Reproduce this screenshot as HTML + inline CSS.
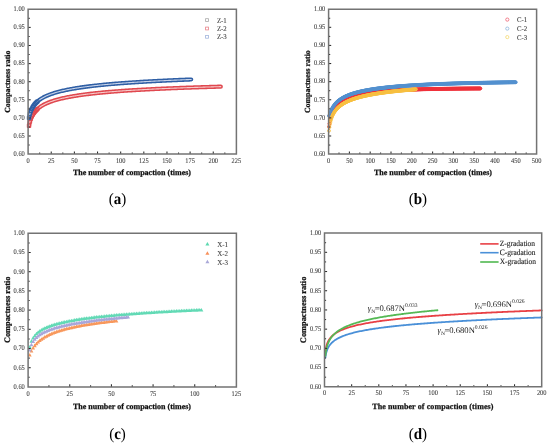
<!DOCTYPE html><html><head><meta charset="utf-8"><style>html,body{margin:0;padding:0;background:#fff;}svg{display:block;}</style></head><body>
<svg width="550" height="446" viewBox="0 0 550 446" font-family="'Liberation Serif', 'Times New Roman', serif" text-rendering="geometricPrecision">
<rect width="550" height="446" fill="#fff"/>
<g>
<path d="M29.03 125.79 L29.26 124.53 L29.49 123.42 L29.72 122.43 L29.95 121.54 L30.18 120.73 L30.41 119.99 L30.65 119.31 L30.88 118.67 L31.11 118.08 L31.34 117.52 L31.57 117.00 L31.80 116.50 L32.03 116.03 L32.27 115.59 L32.50 115.16 L32.73 114.76 L32.96 114.37 L33.19 114.00 L33.42 113.65 L33.65 113.30 L33.89 112.97 L34.12 112.66 L34.35 112.35 L34.58 112.05 L35.51 110.96 L36.43 109.99 L37.36 109.12 L38.28 108.32 L39.21 107.60 L40.14 106.93 L41.06 106.31 L41.99 105.74 L42.91 105.20 L43.84 104.70 L44.76 104.22 L45.69 103.77 L46.62 103.35 L47.54 102.94 L48.47 102.56 L49.39 102.19 L50.32 101.84 L51.24 101.51 L52.17 101.19 L53.10 100.88 L54.02 100.58 L54.95 100.30 L55.87 100.02 L56.80 99.76 L57.72 99.50 L58.65 99.26 L59.58 99.02 L60.50 98.79 L61.43 98.56 L62.35 98.34 L63.28 98.13 L64.21 97.93 L65.13 97.73 L66.06 97.54 L66.98 97.35 L67.91 97.16 L68.83 96.98 L69.76 96.81 L70.69 96.64 L71.61 96.47 L72.54 96.31 L73.46 96.15 L74.39 96.00 L75.31 95.85 L76.24 95.70 L77.17 95.56 L78.09 95.42 L79.02 95.28 L79.94 95.14 L80.87 95.01 L81.80 94.88 L82.72 94.75 L83.65 94.63 L84.57 94.51 L85.50 94.39 L86.42 94.27 L87.35 94.15 L88.28 94.04 L89.20 93.93 L90.13 93.82 L91.05 93.71 L91.98 93.60 L92.90 93.50 L93.83 93.40 L94.76 93.30 L95.68 93.20 L96.61 93.10 L97.53 93.01 L98.46 92.91 L99.38 92.82 L100.31 92.73 L101.24 92.64 L102.16 92.55 L103.09 92.46 L104.01 92.38 L104.94 92.29 L105.87 92.21 L106.79 92.13 L107.72 92.04 L108.64 91.96 L109.57 91.89 L110.49 91.81 L111.42 91.73 L112.35 91.66 L113.27 91.58 L114.20 91.51 L115.12 91.44 L116.05 91.36 L116.97 91.29 L117.90 91.22 L118.83 91.16 L119.75 91.09 L120.68 91.02 L121.60 90.95 L122.53 90.89 L123.46 90.82 L124.38 90.76 L125.31 90.70 L126.23 90.63 L127.16 90.57 L128.08 90.51 L129.01 90.45 L129.94 90.39 L130.86 90.33 L131.79 90.28 L132.71 90.22 L133.64 90.16 L134.56 90.11 L135.49 90.05 L136.42 89.99 L137.34 89.94 L138.27 89.89 L139.19 89.83 L140.12 89.78 L141.04 89.73 L141.97 89.68 L142.90 89.63 L143.82 89.58 L144.75 89.53 L145.67 89.48 L146.60 89.43 L147.53 89.38 L148.45 89.33 L149.38 89.28 L150.30 89.24 L151.23 89.19 L152.15 89.14 L153.08 89.10 L154.01 89.05 L154.93 89.01 L155.86 88.96 L156.78 88.92 L157.71 88.88 L158.63 88.83 L159.56 88.79 L160.49 88.75 L161.41 88.71 L162.34 88.67 L163.26 88.63 L164.19 88.58 L165.12 88.54 L166.04 88.50 L166.97 88.46 L167.89 88.43 L168.82 88.39 L169.74 88.35 L170.67 88.31 L171.60 88.27 L172.52 88.23 L173.45 88.20 L174.37 88.16 L175.30 88.12 L176.22 88.09 L177.15 88.05 L178.08 88.02 L179.00 87.98 L179.93 87.95 L180.85 87.91 L181.78 87.88 L182.70 87.84 L183.63 87.81 L184.56 87.77 L185.48 87.74 L186.41 87.71 L187.33 87.67 L188.26 87.64 L189.19 87.61 L190.11 87.58 L191.04 87.55 L191.96 87.51 L192.89 87.48 L193.81 87.45 L194.74 87.42 L195.67 87.39 L196.59 87.36 L197.52 87.33 L198.44 87.30 L199.37 87.27 L200.29 87.24 L201.22 87.21 L202.15 87.18 L203.07 87.15 L204.00 87.13 L204.92 87.10 L205.85 87.07 L206.78 87.04 L207.70 87.01 L208.63 86.99 L209.55 86.96 L210.48 86.93 L211.40 86.90 L212.33 86.88 L213.26 86.85 L214.18 86.82 L215.11 86.80 L216.03 86.77 L216.96 86.75 L217.88 86.72 L218.81 86.69 L219.74 86.67 L220.66 86.64 L220.80 86.64" fill="none" stroke="#e0484f" stroke-width="4.2" stroke-linejoin="round" stroke-linecap="round" />
<path d="M29.03 125.79 L29.26 124.53 L29.49 123.42 L29.72 122.43 L29.95 121.54 L30.18 120.73 L30.41 119.99 L30.65 119.31 L30.88 118.67 L31.11 118.08 L31.34 117.52 L31.57 117.00 L31.80 116.50 L32.03 116.03 L32.27 115.59 L32.50 115.16 L32.73 114.76 L32.96 114.37 L33.19 114.00 L33.42 113.65 L33.65 113.30 L33.89 112.97 L34.12 112.66 L34.35 112.35 L34.58 112.05 L35.51 110.96 L36.43 109.99 L37.36 109.12 L38.28 108.32 L39.21 107.60 L40.14 106.93 L41.06 106.31 L41.99 105.74 L42.91 105.20 L43.84 104.70 L44.76 104.22 L45.69 103.77 L46.62 103.35 L47.54 102.94 L48.47 102.56 L49.39 102.19 L50.32 101.84 L51.24 101.51 L52.17 101.19 L53.10 100.88 L54.02 100.58 L54.95 100.30 L55.87 100.02 L56.80 99.76 L57.72 99.50 L58.65 99.26 L59.58 99.02 L60.50 98.79 L61.43 98.56 L62.35 98.34 L63.28 98.13 L64.21 97.93 L65.13 97.73 L66.06 97.54 L66.98 97.35 L67.91 97.16 L68.83 96.98 L69.76 96.81 L70.69 96.64 L71.61 96.47 L72.54 96.31 L73.46 96.15 L74.39 96.00 L75.31 95.85 L76.24 95.70 L77.17 95.56 L78.09 95.42 L79.02 95.28 L79.94 95.14 L80.87 95.01 L81.80 94.88 L82.72 94.75 L83.65 94.63 L84.57 94.51 L85.50 94.39 L86.42 94.27 L87.35 94.15 L88.28 94.04 L89.20 93.93 L90.13 93.82 L91.05 93.71 L91.98 93.60 L92.90 93.50 L93.83 93.40 L94.76 93.30 L95.68 93.20 L96.61 93.10 L97.53 93.01 L98.46 92.91 L99.38 92.82 L100.31 92.73 L101.24 92.64 L102.16 92.55 L103.09 92.46 L104.01 92.38 L104.94 92.29 L105.87 92.21 L106.79 92.13 L107.72 92.04 L108.64 91.96 L109.57 91.89 L110.49 91.81 L111.42 91.73 L112.35 91.66 L113.27 91.58 L114.20 91.51 L115.12 91.44 L116.05 91.36 L116.97 91.29 L117.90 91.22 L118.83 91.16 L119.75 91.09 L120.68 91.02 L121.60 90.95 L122.53 90.89 L123.46 90.82 L124.38 90.76 L125.31 90.70 L126.23 90.63 L127.16 90.57 L128.08 90.51 L129.01 90.45 L129.94 90.39 L130.86 90.33 L131.79 90.28 L132.71 90.22 L133.64 90.16 L134.56 90.11 L135.49 90.05 L136.42 89.99 L137.34 89.94 L138.27 89.89 L139.19 89.83 L140.12 89.78 L141.04 89.73 L141.97 89.68 L142.90 89.63 L143.82 89.58 L144.75 89.53 L145.67 89.48 L146.60 89.43 L147.53 89.38 L148.45 89.33 L149.38 89.28 L150.30 89.24 L151.23 89.19 L152.15 89.14 L153.08 89.10 L154.01 89.05 L154.93 89.01 L155.86 88.96 L156.78 88.92 L157.71 88.88 L158.63 88.83 L159.56 88.79 L160.49 88.75 L161.41 88.71 L162.34 88.67 L163.26 88.63 L164.19 88.58 L165.12 88.54 L166.04 88.50 L166.97 88.46 L167.89 88.43 L168.82 88.39 L169.74 88.35 L170.67 88.31 L171.60 88.27 L172.52 88.23 L173.45 88.20 L174.37 88.16 L175.30 88.12 L176.22 88.09 L177.15 88.05 L178.08 88.02 L179.00 87.98 L179.93 87.95 L180.85 87.91 L181.78 87.88 L182.70 87.84 L183.63 87.81 L184.56 87.77 L185.48 87.74 L186.41 87.71 L187.33 87.67 L188.26 87.64 L189.19 87.61 L190.11 87.58 L191.04 87.55 L191.96 87.51 L192.89 87.48 L193.81 87.45 L194.74 87.42 L195.67 87.39 L196.59 87.36 L197.52 87.33 L198.44 87.30 L199.37 87.27 L200.29 87.24 L201.22 87.21 L202.15 87.18 L203.07 87.15 L204.00 87.13 L204.92 87.10 L205.85 87.07 L206.78 87.04 L207.70 87.01 L208.63 86.99 L209.55 86.96 L210.48 86.93 L211.40 86.90 L212.33 86.88 L213.26 86.85 L214.18 86.82 L215.11 86.80 L216.03 86.77 L216.96 86.75 L217.88 86.72 L218.81 86.69 L219.74 86.67 L220.66 86.64 L220.80 86.64" fill="none" stroke="#f7caca" stroke-width="1.1" stroke-linejoin="round" stroke-linecap="round" />
<path d="M27.33 124.09h3.40v3.40h-3.40zM28.25 119.84h3.40v3.40h-3.40zM29.18 116.97h3.40v3.40h-3.40zM30.10 114.80h3.40v3.40h-3.40zM31.03 113.06h3.40v3.40h-3.40zM31.95 111.60h3.40v3.40h-3.40zM32.88 110.35h3.40v3.40h-3.40zM33.81 109.26h3.40v3.40h-3.40zM34.73 108.29h3.40v3.40h-3.40zM35.66 107.42h3.40v3.40h-3.40z" fill="none" stroke="#e0484f" stroke-width="1.0" stroke-opacity="1"/>
<path d="M29.03 117.92 L29.26 116.66 L29.49 115.56 L29.72 114.59 L29.95 113.72 L30.18 112.92 L30.41 112.20 L30.65 111.53 L30.88 110.91 L31.11 110.33 L31.34 109.78 L31.57 109.27 L31.80 108.79 L32.03 108.33 L32.27 107.90 L32.50 107.48 L32.73 107.09 L32.96 106.71 L33.19 106.35 L33.42 106.00 L33.65 105.66 L33.89 105.34 L34.12 105.03 L34.35 104.73 L34.58 104.44 L35.51 103.37 L36.43 102.42 L37.36 101.56 L38.28 100.78 L39.21 100.07 L40.14 99.41 L41.06 98.80 L41.99 98.23 L42.91 97.70 L43.84 97.20 L44.76 96.73 L45.69 96.28 L46.62 95.86 L47.54 95.46 L48.47 95.08 L49.39 94.71 L50.32 94.36 L51.24 94.03 L52.17 93.71 L53.10 93.40 L54.02 93.10 L54.95 92.82 L55.87 92.54 L56.80 92.27 L57.72 92.02 L58.65 91.77 L59.58 91.53 L60.50 91.29 L61.43 91.07 L62.35 90.85 L63.28 90.63 L64.21 90.43 L65.13 90.22 L66.06 90.03 L66.98 89.83 L67.91 89.65 L68.83 89.47 L69.76 89.29 L70.69 89.12 L71.61 88.95 L72.54 88.78 L73.46 88.62 L74.39 88.46 L75.31 88.31 L76.24 88.16 L77.17 88.01 L78.09 87.86 L79.02 87.72 L79.94 87.58 L80.87 87.44 L81.80 87.31 L82.72 87.18 L83.65 87.05 L84.57 86.92 L85.50 86.80 L86.42 86.68 L87.35 86.56 L88.28 86.44 L89.20 86.32 L90.13 86.21 L91.05 86.10 L91.98 85.99 L92.90 85.88 L93.83 85.77 L94.76 85.67 L95.68 85.57 L96.61 85.47 L97.53 85.37 L98.46 85.27 L99.38 85.17 L100.31 85.07 L101.24 84.98 L102.16 84.89 L103.09 84.80 L104.01 84.71 L104.94 84.62 L105.87 84.53 L106.79 84.44 L107.72 84.36 L108.64 84.27 L109.57 84.19 L110.49 84.11 L111.42 84.03 L112.35 83.95 L113.27 83.87 L114.20 83.79 L115.12 83.71 L116.05 83.64 L116.97 83.56 L117.90 83.49 L118.83 83.42 L119.75 83.34 L120.68 83.27 L121.60 83.20 L122.53 83.13 L123.46 83.06 L124.38 83.00 L125.31 82.93 L126.23 82.86 L127.16 82.80 L128.08 82.73 L129.01 82.67 L129.94 82.60 L130.86 82.54 L131.79 82.48 L132.71 82.42 L133.64 82.35 L134.56 82.29 L135.49 82.23 L136.42 82.18 L137.34 82.12 L138.27 82.06 L139.19 82.00 L140.12 81.94 L141.04 81.89 L141.97 81.83 L142.90 81.78 L143.82 81.72 L144.75 81.67 L145.67 81.62 L146.60 81.56 L147.53 81.51 L148.45 81.46 L149.38 81.41 L150.30 81.36 L151.23 81.30 L152.15 81.25 L153.08 81.20 L154.01 81.16 L154.93 81.11 L155.86 81.06 L156.78 81.01 L157.71 80.96 L158.63 80.92 L159.56 80.87 L160.49 80.82 L161.41 80.78 L162.34 80.73 L163.26 80.69 L164.19 80.64 L165.12 80.60 L166.04 80.55 L166.97 80.51 L167.89 80.47 L168.82 80.42 L169.74 80.38 L170.67 80.34 L171.60 80.30 L172.52 80.26 L173.45 80.21 L174.37 80.17 L175.30 80.13 L176.22 80.09 L177.15 80.05 L178.08 80.01 L179.00 79.97 L179.93 79.93 L180.85 79.90 L181.78 79.86 L182.70 79.82 L183.63 79.78 L184.56 79.74 L185.48 79.71 L186.41 79.67 L187.33 79.63 L188.26 79.60 L189.19 79.56 L190.11 79.52 L191.04 79.49 L191.20 79.48" fill="none" stroke="#2f5fa5" stroke-width="4.2" stroke-linejoin="round" stroke-linecap="round" />
<path d="M29.03 117.92 L29.26 116.66 L29.49 115.56 L29.72 114.59 L29.95 113.72 L30.18 112.92 L30.41 112.20 L30.65 111.53 L30.88 110.91 L31.11 110.33 L31.34 109.78 L31.57 109.27 L31.80 108.79 L32.03 108.33 L32.27 107.90 L32.50 107.48 L32.73 107.09 L32.96 106.71 L33.19 106.35 L33.42 106.00 L33.65 105.66 L33.89 105.34 L34.12 105.03 L34.35 104.73 L34.58 104.44 L35.51 103.37 L36.43 102.42 L37.36 101.56 L38.28 100.78 L39.21 100.07 L40.14 99.41 L41.06 98.80 L41.99 98.23 L42.91 97.70 L43.84 97.20 L44.76 96.73 L45.69 96.28 L46.62 95.86 L47.54 95.46 L48.47 95.08 L49.39 94.71 L50.32 94.36 L51.24 94.03 L52.17 93.71 L53.10 93.40 L54.02 93.10 L54.95 92.82 L55.87 92.54 L56.80 92.27 L57.72 92.02 L58.65 91.77 L59.58 91.53 L60.50 91.29 L61.43 91.07 L62.35 90.85 L63.28 90.63 L64.21 90.43 L65.13 90.22 L66.06 90.03 L66.98 89.83 L67.91 89.65 L68.83 89.47 L69.76 89.29 L70.69 89.12 L71.61 88.95 L72.54 88.78 L73.46 88.62 L74.39 88.46 L75.31 88.31 L76.24 88.16 L77.17 88.01 L78.09 87.86 L79.02 87.72 L79.94 87.58 L80.87 87.44 L81.80 87.31 L82.72 87.18 L83.65 87.05 L84.57 86.92 L85.50 86.80 L86.42 86.68 L87.35 86.56 L88.28 86.44 L89.20 86.32 L90.13 86.21 L91.05 86.10 L91.98 85.99 L92.90 85.88 L93.83 85.77 L94.76 85.67 L95.68 85.57 L96.61 85.47 L97.53 85.37 L98.46 85.27 L99.38 85.17 L100.31 85.07 L101.24 84.98 L102.16 84.89 L103.09 84.80 L104.01 84.71 L104.94 84.62 L105.87 84.53 L106.79 84.44 L107.72 84.36 L108.64 84.27 L109.57 84.19 L110.49 84.11 L111.42 84.03 L112.35 83.95 L113.27 83.87 L114.20 83.79 L115.12 83.71 L116.05 83.64 L116.97 83.56 L117.90 83.49 L118.83 83.42 L119.75 83.34 L120.68 83.27 L121.60 83.20 L122.53 83.13 L123.46 83.06 L124.38 83.00 L125.31 82.93 L126.23 82.86 L127.16 82.80 L128.08 82.73 L129.01 82.67 L129.94 82.60 L130.86 82.54 L131.79 82.48 L132.71 82.42 L133.64 82.35 L134.56 82.29 L135.49 82.23 L136.42 82.18 L137.34 82.12 L138.27 82.06 L139.19 82.00 L140.12 81.94 L141.04 81.89 L141.97 81.83 L142.90 81.78 L143.82 81.72 L144.75 81.67 L145.67 81.62 L146.60 81.56 L147.53 81.51 L148.45 81.46 L149.38 81.41 L150.30 81.36 L151.23 81.30 L152.15 81.25 L153.08 81.20 L154.01 81.16 L154.93 81.11 L155.86 81.06 L156.78 81.01 L157.71 80.96 L158.63 80.92 L159.56 80.87 L160.49 80.82 L161.41 80.78 L162.34 80.73 L163.26 80.69 L164.19 80.64 L165.12 80.60 L166.04 80.55 L166.97 80.51 L167.89 80.47 L168.82 80.42 L169.74 80.38 L170.67 80.34 L171.60 80.30 L172.52 80.26 L173.45 80.21 L174.37 80.17 L175.30 80.13 L176.22 80.09 L177.15 80.05 L178.08 80.01 L179.00 79.97 L179.93 79.93 L180.85 79.90 L181.78 79.86 L182.70 79.82 L183.63 79.78 L184.56 79.74 L185.48 79.71 L186.41 79.67 L187.33 79.63 L188.26 79.60 L189.19 79.56 L190.11 79.52 L191.04 79.49 L191.20 79.48" fill="none" stroke="#c8d4ea" stroke-width="1.1" stroke-linejoin="round" stroke-linecap="round" />
<path d="M27.33 116.22h3.40v3.40h-3.40zM28.25 112.02h3.40v3.40h-3.40zM29.18 109.21h3.40v3.40h-3.40zM30.10 107.09h3.40v3.40h-3.40zM31.03 105.39h3.40v3.40h-3.40zM31.95 103.96h3.40v3.40h-3.40zM32.88 102.74h3.40v3.40h-3.40zM33.81 101.67h3.40v3.40h-3.40zM34.73 100.72h3.40v3.40h-3.40zM35.66 99.86h3.40v3.40h-3.40z" fill="none" stroke="#2f5fa5" stroke-width="1.0" stroke-opacity="1"/>
<text transform="translate(24.80 155.90) scale(1 1.12)" text-anchor="end" font-size="6.4" fill="#3c3c3c" stroke="#3c3c3c" stroke-width="0.07">0.60</text>
<line x1="28.10" y1="136.00" x2="30.70" y2="136.00" stroke="#2a2a2a" stroke-width="1.05"/>
<text transform="translate(24.80 137.80) scale(1 1.12)" text-anchor="end" font-size="6.4" fill="#3c3c3c" stroke="#3c3c3c" stroke-width="0.07">0.65</text>
<line x1="28.10" y1="117.90" x2="30.70" y2="117.90" stroke="#2a2a2a" stroke-width="1.05"/>
<text transform="translate(24.80 119.70) scale(1 1.12)" text-anchor="end" font-size="6.4" fill="#3c3c3c" stroke="#3c3c3c" stroke-width="0.07">0.70</text>
<line x1="28.10" y1="99.80" x2="30.70" y2="99.80" stroke="#2a2a2a" stroke-width="1.05"/>
<text transform="translate(24.80 101.60) scale(1 1.12)" text-anchor="end" font-size="6.4" fill="#3c3c3c" stroke="#3c3c3c" stroke-width="0.07">0.75</text>
<line x1="28.10" y1="81.70" x2="30.70" y2="81.70" stroke="#2a2a2a" stroke-width="1.05"/>
<text transform="translate(24.80 83.50) scale(1 1.12)" text-anchor="end" font-size="6.4" fill="#3c3c3c" stroke="#3c3c3c" stroke-width="0.07">0.80</text>
<line x1="28.10" y1="63.60" x2="30.70" y2="63.60" stroke="#2a2a2a" stroke-width="1.05"/>
<text transform="translate(24.80 65.40) scale(1 1.12)" text-anchor="end" font-size="6.4" fill="#3c3c3c" stroke="#3c3c3c" stroke-width="0.07">0.85</text>
<line x1="28.10" y1="45.50" x2="30.70" y2="45.50" stroke="#2a2a2a" stroke-width="1.05"/>
<text transform="translate(24.80 47.30) scale(1 1.12)" text-anchor="end" font-size="6.4" fill="#3c3c3c" stroke="#3c3c3c" stroke-width="0.07">0.90</text>
<line x1="28.10" y1="27.40" x2="30.70" y2="27.40" stroke="#2a2a2a" stroke-width="1.05"/>
<text transform="translate(24.80 29.20) scale(1 1.12)" text-anchor="end" font-size="6.4" fill="#3c3c3c" stroke="#3c3c3c" stroke-width="0.07">0.95</text>
<text transform="translate(24.80 11.10) scale(1 1.12)" text-anchor="end" font-size="6.4" fill="#3c3c3c" stroke="#3c3c3c" stroke-width="0.07">1.00</text>
<line x1="28.10" y1="145.05" x2="29.70" y2="145.05" stroke="#2a2a2a" stroke-width="1.05"/>
<line x1="28.10" y1="126.95" x2="29.70" y2="126.95" stroke="#2a2a2a" stroke-width="1.05"/>
<line x1="28.10" y1="108.85" x2="29.70" y2="108.85" stroke="#2a2a2a" stroke-width="1.05"/>
<line x1="28.10" y1="90.75" x2="29.70" y2="90.75" stroke="#2a2a2a" stroke-width="1.05"/>
<line x1="28.10" y1="72.65" x2="29.70" y2="72.65" stroke="#2a2a2a" stroke-width="1.05"/>
<line x1="28.10" y1="54.55" x2="29.70" y2="54.55" stroke="#2a2a2a" stroke-width="1.05"/>
<line x1="28.10" y1="36.45" x2="29.70" y2="36.45" stroke="#2a2a2a" stroke-width="1.05"/>
<line x1="28.10" y1="18.35" x2="29.70" y2="18.35" stroke="#2a2a2a" stroke-width="1.05"/>
<text transform="translate(28.10 162.70) scale(1 1.12)" text-anchor="middle" font-size="6.4" fill="#3c3c3c" stroke="#3c3c3c" stroke-width="0.07">0</text>
<line x1="39.67" y1="154.10" x2="39.67" y2="152.50" stroke="#2a2a2a" stroke-width="1.05"/>
<line x1="51.24" y1="154.10" x2="51.24" y2="151.50" stroke="#2a2a2a" stroke-width="1.05"/>
<text transform="translate(51.24 162.70) scale(1 1.12)" text-anchor="middle" font-size="6.4" fill="#3c3c3c" stroke="#3c3c3c" stroke-width="0.07">25</text>
<line x1="62.82" y1="154.10" x2="62.82" y2="152.50" stroke="#2a2a2a" stroke-width="1.05"/>
<line x1="74.39" y1="154.10" x2="74.39" y2="151.50" stroke="#2a2a2a" stroke-width="1.05"/>
<text transform="translate(74.39 162.70) scale(1 1.12)" text-anchor="middle" font-size="6.4" fill="#3c3c3c" stroke="#3c3c3c" stroke-width="0.07">50</text>
<line x1="85.96" y1="154.10" x2="85.96" y2="152.50" stroke="#2a2a2a" stroke-width="1.05"/>
<line x1="97.53" y1="154.10" x2="97.53" y2="151.50" stroke="#2a2a2a" stroke-width="1.05"/>
<text transform="translate(97.53 162.70) scale(1 1.12)" text-anchor="middle" font-size="6.4" fill="#3c3c3c" stroke="#3c3c3c" stroke-width="0.07">75</text>
<line x1="109.11" y1="154.10" x2="109.11" y2="152.50" stroke="#2a2a2a" stroke-width="1.05"/>
<line x1="120.68" y1="154.10" x2="120.68" y2="151.50" stroke="#2a2a2a" stroke-width="1.05"/>
<text transform="translate(120.68 162.70) scale(1 1.12)" text-anchor="middle" font-size="6.4" fill="#3c3c3c" stroke="#3c3c3c" stroke-width="0.07">100</text>
<line x1="132.25" y1="154.10" x2="132.25" y2="152.50" stroke="#2a2a2a" stroke-width="1.05"/>
<line x1="143.82" y1="154.10" x2="143.82" y2="151.50" stroke="#2a2a2a" stroke-width="1.05"/>
<text transform="translate(143.82 162.70) scale(1 1.12)" text-anchor="middle" font-size="6.4" fill="#3c3c3c" stroke="#3c3c3c" stroke-width="0.07">125</text>
<line x1="155.39" y1="154.10" x2="155.39" y2="152.50" stroke="#2a2a2a" stroke-width="1.05"/>
<line x1="166.97" y1="154.10" x2="166.97" y2="151.50" stroke="#2a2a2a" stroke-width="1.05"/>
<text transform="translate(166.97 162.70) scale(1 1.12)" text-anchor="middle" font-size="6.4" fill="#3c3c3c" stroke="#3c3c3c" stroke-width="0.07">150</text>
<line x1="178.54" y1="154.10" x2="178.54" y2="152.50" stroke="#2a2a2a" stroke-width="1.05"/>
<line x1="190.11" y1="154.10" x2="190.11" y2="151.50" stroke="#2a2a2a" stroke-width="1.05"/>
<text transform="translate(190.11 162.70) scale(1 1.12)" text-anchor="middle" font-size="6.4" fill="#3c3c3c" stroke="#3c3c3c" stroke-width="0.07">175</text>
<line x1="201.68" y1="154.10" x2="201.68" y2="152.50" stroke="#2a2a2a" stroke-width="1.05"/>
<line x1="213.26" y1="154.10" x2="213.26" y2="151.50" stroke="#2a2a2a" stroke-width="1.05"/>
<text transform="translate(213.26 162.70) scale(1 1.12)" text-anchor="middle" font-size="6.4" fill="#3c3c3c" stroke="#3c3c3c" stroke-width="0.07">200</text>
<line x1="224.83" y1="154.10" x2="224.83" y2="152.50" stroke="#2a2a2a" stroke-width="1.05"/>
<text transform="translate(236.40 162.70) scale(1 1.12)" text-anchor="middle" font-size="6.4" fill="#3c3c3c" stroke="#3c3c3c" stroke-width="0.07">225</text>
<path d="M28.10 9.30 H236.40 V154.10 H28.10 Z" fill="none" stroke="#737373" stroke-width="1.5"/>
<text transform="translate(9.60 81.70) rotate(-90)" text-anchor="middle" font-size="7.8" font-weight="bold" fill="#111" stroke="#111" stroke-width="0.25">Compactness ratio</text>
<text x="132.00" y="175.00" text-anchor="middle" font-size="8" font-weight="bold" fill="#111" stroke="#111" stroke-width="0.25">The number of compaction (times)</text>
<rect x="205.60" y="18.70" width="2.8" height="2.8" fill="none" stroke="#a8a8a8" stroke-width="0.8"/>
<rect x="205.60" y="27.10" width="2.8" height="2.8" fill="none" stroke="#e88088" stroke-width="0.8"/>
<rect x="205.60" y="35.40" width="2.8" height="2.8" fill="none" stroke="#a0b4dc" stroke-width="0.8"/>
<text transform="translate(216.9 22.7) scale(1 1.08)" font-size="6.8" fill="#333" stroke="#333" stroke-width="0.06">Z-1</text>
<text transform="translate(216.9 30.8) scale(1 1.08)" font-size="6.8" fill="#333" stroke="#333" stroke-width="0.06">Z-2</text>
<text transform="translate(216.9 39.2) scale(1 1.08)" font-size="6.8" fill="#333" stroke="#333" stroke-width="0.06">Z-3</text>
</g>
<text transform="translate(117.4 204.0) scale(1 1.06)" text-anchor="middle" font-size="15" fill="#000" style="font-family:'Liberation Serif',serif">(<tspan font-weight="bold">a</tspan>)</text>
<g>
<path d="M327.62 126.65a1.4 1.4 0 1 0 2.80 0a1.4 1.4 0 1 0 -2.80 0zM328.03 123.65a1.4 1.4 0 1 0 2.80 0a1.4 1.4 0 1 0 -2.80 0zM328.45 121.13a1.4 1.4 0 1 0 2.80 0a1.4 1.4 0 1 0 -2.80 0zM328.86 119.06a1.4 1.4 0 1 0 2.80 0a1.4 1.4 0 1 0 -2.80 0zM329.28 117.34a1.4 1.4 0 1 0 2.80 0a1.4 1.4 0 1 0 -2.80 0zM329.70 115.86a1.4 1.4 0 1 0 2.80 0a1.4 1.4 0 1 0 -2.80 0zM330.11 114.57a1.4 1.4 0 1 0 2.80 0a1.4 1.4 0 1 0 -2.80 0zM330.53 113.43a1.4 1.4 0 1 0 2.80 0a1.4 1.4 0 1 0 -2.80 0zM330.94 112.41a1.4 1.4 0 1 0 2.80 0a1.4 1.4 0 1 0 -2.80 0zM331.36 111.49a1.4 1.4 0 1 0 2.80 0a1.4 1.4 0 1 0 -2.80 0zM331.78 110.65a1.4 1.4 0 1 0 2.80 0a1.4 1.4 0 1 0 -2.80 0zM332.19 109.88a1.4 1.4 0 1 0 2.80 0a1.4 1.4 0 1 0 -2.80 0zM332.61 109.16a1.4 1.4 0 1 0 2.80 0a1.4 1.4 0 1 0 -2.80 0zM333.02 108.50a1.4 1.4 0 1 0 2.80 0a1.4 1.4 0 1 0 -2.80 0zM333.44 107.89a1.4 1.4 0 1 0 2.80 0a1.4 1.4 0 1 0 -2.80 0zM333.86 107.31a1.4 1.4 0 1 0 2.80 0a1.4 1.4 0 1 0 -2.80 0zM334.27 106.77a1.4 1.4 0 1 0 2.80 0a1.4 1.4 0 1 0 -2.80 0zM334.69 106.26a1.4 1.4 0 1 0 2.80 0a1.4 1.4 0 1 0 -2.80 0zM335.10 105.78a1.4 1.4 0 1 0 2.80 0a1.4 1.4 0 1 0 -2.80 0zM335.52 105.33a1.4 1.4 0 1 0 2.80 0a1.4 1.4 0 1 0 -2.80 0zM335.94 104.90a1.4 1.4 0 1 0 2.80 0a1.4 1.4 0 1 0 -2.80 0zM336.35 104.49a1.4 1.4 0 1 0 2.80 0a1.4 1.4 0 1 0 -2.80 0zM336.77 104.09a1.4 1.4 0 1 0 2.80 0a1.4 1.4 0 1 0 -2.80 0zM337.18 103.72a1.4 1.4 0 1 0 2.80 0a1.4 1.4 0 1 0 -2.80 0zM337.60 103.37a1.4 1.4 0 1 0 2.80 0a1.4 1.4 0 1 0 -2.80 0zM338.02 103.03a1.4 1.4 0 1 0 2.80 0a1.4 1.4 0 1 0 -2.80 0zM338.43 102.70a1.4 1.4 0 1 0 2.80 0a1.4 1.4 0 1 0 -2.80 0zM338.85 102.39a1.4 1.4 0 1 0 2.80 0a1.4 1.4 0 1 0 -2.80 0zM339.26 102.09a1.4 1.4 0 1 0 2.80 0a1.4 1.4 0 1 0 -2.80 0zM339.68 101.80a1.4 1.4 0 1 0 2.80 0a1.4 1.4 0 1 0 -2.80 0zM340.10 101.52a1.4 1.4 0 1 0 2.80 0a1.4 1.4 0 1 0 -2.80 0zM340.51 101.25a1.4 1.4 0 1 0 2.80 0a1.4 1.4 0 1 0 -2.80 0zM340.93 100.99a1.4 1.4 0 1 0 2.80 0a1.4 1.4 0 1 0 -2.80 0zM341.34 100.74a1.4 1.4 0 1 0 2.80 0a1.4 1.4 0 1 0 -2.80 0zM341.76 100.50a1.4 1.4 0 1 0 2.80 0a1.4 1.4 0 1 0 -2.80 0zM342.18 100.27a1.4 1.4 0 1 0 2.80 0a1.4 1.4 0 1 0 -2.80 0zM342.59 100.04a1.4 1.4 0 1 0 2.80 0a1.4 1.4 0 1 0 -2.80 0zM343.01 99.82a1.4 1.4 0 1 0 2.80 0a1.4 1.4 0 1 0 -2.80 0zM343.42 99.61a1.4 1.4 0 1 0 2.80 0a1.4 1.4 0 1 0 -2.80 0zM343.84 99.40a1.4 1.4 0 1 0 2.80 0a1.4 1.4 0 1 0 -2.80 0zM344.26 99.20a1.4 1.4 0 1 0 2.80 0a1.4 1.4 0 1 0 -2.80 0zM344.67 99.01a1.4 1.4 0 1 0 2.80 0a1.4 1.4 0 1 0 -2.80 0zM345.09 98.82a1.4 1.4 0 1 0 2.80 0a1.4 1.4 0 1 0 -2.80 0zM345.50 98.64a1.4 1.4 0 1 0 2.80 0a1.4 1.4 0 1 0 -2.80 0zM345.92 98.46a1.4 1.4 0 1 0 2.80 0a1.4 1.4 0 1 0 -2.80 0zM346.34 98.29a1.4 1.4 0 1 0 2.80 0a1.4 1.4 0 1 0 -2.80 0zM346.75 98.12a1.4 1.4 0 1 0 2.80 0a1.4 1.4 0 1 0 -2.80 0zM347.17 97.95a1.4 1.4 0 1 0 2.80 0a1.4 1.4 0 1 0 -2.80 0zM347.58 97.79a1.4 1.4 0 1 0 2.80 0a1.4 1.4 0 1 0 -2.80 0zM348.00 97.64a1.4 1.4 0 1 0 2.80 0a1.4 1.4 0 1 0 -2.80 0zM348.42 97.49a1.4 1.4 0 1 0 2.80 0a1.4 1.4 0 1 0 -2.80 0zM348.83 97.34a1.4 1.4 0 1 0 2.80 0a1.4 1.4 0 1 0 -2.80 0zM349.25 97.19a1.4 1.4 0 1 0 2.80 0a1.4 1.4 0 1 0 -2.80 0zM349.66 97.05a1.4 1.4 0 1 0 2.80 0a1.4 1.4 0 1 0 -2.80 0zM350.08 96.91a1.4 1.4 0 1 0 2.80 0a1.4 1.4 0 1 0 -2.80 0zM350.50 96.78a1.4 1.4 0 1 0 2.80 0a1.4 1.4 0 1 0 -2.80 0zM350.91 96.65a1.4 1.4 0 1 0 2.80 0a1.4 1.4 0 1 0 -2.80 0zM351.33 96.52a1.4 1.4 0 1 0 2.80 0a1.4 1.4 0 1 0 -2.80 0zM351.74 96.39a1.4 1.4 0 1 0 2.80 0a1.4 1.4 0 1 0 -2.80 0zM352.16 96.27a1.4 1.4 0 1 0 2.80 0a1.4 1.4 0 1 0 -2.80 0zM352.58 96.15a1.4 1.4 0 1 0 2.80 0a1.4 1.4 0 1 0 -2.80 0zM352.99 96.03a1.4 1.4 0 1 0 2.80 0a1.4 1.4 0 1 0 -2.80 0zM353.41 95.92a1.4 1.4 0 1 0 2.80 0a1.4 1.4 0 1 0 -2.80 0zM353.82 95.80a1.4 1.4 0 1 0 2.80 0a1.4 1.4 0 1 0 -2.80 0zM354.24 95.69a1.4 1.4 0 1 0 2.80 0a1.4 1.4 0 1 0 -2.80 0zM354.66 95.58a1.4 1.4 0 1 0 2.80 0a1.4 1.4 0 1 0 -2.80 0zM355.07 95.48a1.4 1.4 0 1 0 2.80 0a1.4 1.4 0 1 0 -2.80 0zM355.49 95.37a1.4 1.4 0 1 0 2.80 0a1.4 1.4 0 1 0 -2.80 0zM355.90 95.27a1.4 1.4 0 1 0 2.80 0a1.4 1.4 0 1 0 -2.80 0zM356.32 95.17a1.4 1.4 0 1 0 2.80 0a1.4 1.4 0 1 0 -2.80 0zM356.74 95.07a1.4 1.4 0 1 0 2.80 0a1.4 1.4 0 1 0 -2.80 0zM357.15 94.98a1.4 1.4 0 1 0 2.80 0a1.4 1.4 0 1 0 -2.80 0zM357.57 94.88a1.4 1.4 0 1 0 2.80 0a1.4 1.4 0 1 0 -2.80 0zM357.98 94.79a1.4 1.4 0 1 0 2.80 0a1.4 1.4 0 1 0 -2.80 0zM358.40 94.70a1.4 1.4 0 1 0 2.80 0a1.4 1.4 0 1 0 -2.80 0zM358.82 94.61a1.4 1.4 0 1 0 2.80 0a1.4 1.4 0 1 0 -2.80 0zM359.23 94.52a1.4 1.4 0 1 0 2.80 0a1.4 1.4 0 1 0 -2.80 0zM359.65 94.44a1.4 1.4 0 1 0 2.80 0a1.4 1.4 0 1 0 -2.80 0zM360.06 94.35a1.4 1.4 0 1 0 2.80 0a1.4 1.4 0 1 0 -2.80 0zM360.48 94.27a1.4 1.4 0 1 0 2.80 0a1.4 1.4 0 1 0 -2.80 0zM360.90 94.19a1.4 1.4 0 1 0 2.80 0a1.4 1.4 0 1 0 -2.80 0zM361.31 94.11a1.4 1.4 0 1 0 2.80 0a1.4 1.4 0 1 0 -2.80 0zM361.73 94.03a1.4 1.4 0 1 0 2.80 0a1.4 1.4 0 1 0 -2.80 0zM362.14 93.95a1.4 1.4 0 1 0 2.80 0a1.4 1.4 0 1 0 -2.80 0zM362.56 93.88a1.4 1.4 0 1 0 2.80 0a1.4 1.4 0 1 0 -2.80 0zM362.98 93.80a1.4 1.4 0 1 0 2.80 0a1.4 1.4 0 1 0 -2.80 0zM363.39 93.73a1.4 1.4 0 1 0 2.80 0a1.4 1.4 0 1 0 -2.80 0zM363.81 93.66a1.4 1.4 0 1 0 2.80 0a1.4 1.4 0 1 0 -2.80 0zM364.22 93.59a1.4 1.4 0 1 0 2.80 0a1.4 1.4 0 1 0 -2.80 0zM364.64 93.52a1.4 1.4 0 1 0 2.80 0a1.4 1.4 0 1 0 -2.80 0zM365.06 93.45a1.4 1.4 0 1 0 2.80 0a1.4 1.4 0 1 0 -2.80 0zM365.47 93.38a1.4 1.4 0 1 0 2.80 0a1.4 1.4 0 1 0 -2.80 0zM365.89 93.31a1.4 1.4 0 1 0 2.80 0a1.4 1.4 0 1 0 -2.80 0zM366.30 93.25a1.4 1.4 0 1 0 2.80 0a1.4 1.4 0 1 0 -2.80 0zM366.72 93.19a1.4 1.4 0 1 0 2.80 0a1.4 1.4 0 1 0 -2.80 0zM367.14 93.12a1.4 1.4 0 1 0 2.80 0a1.4 1.4 0 1 0 -2.80 0zM367.55 93.06a1.4 1.4 0 1 0 2.80 0a1.4 1.4 0 1 0 -2.80 0zM367.97 93.00a1.4 1.4 0 1 0 2.80 0a1.4 1.4 0 1 0 -2.80 0zM368.38 92.94a1.4 1.4 0 1 0 2.80 0a1.4 1.4 0 1 0 -2.80 0zM368.80 92.88a1.4 1.4 0 1 0 2.80 0a1.4 1.4 0 1 0 -2.80 0zM369.22 92.82a1.4 1.4 0 1 0 2.80 0a1.4 1.4 0 1 0 -2.80 0zM369.63 92.76a1.4 1.4 0 1 0 2.80 0a1.4 1.4 0 1 0 -2.80 0zM370.05 92.70a1.4 1.4 0 1 0 2.80 0a1.4 1.4 0 1 0 -2.80 0zM370.46 92.65a1.4 1.4 0 1 0 2.80 0a1.4 1.4 0 1 0 -2.80 0zM370.88 92.59a1.4 1.4 0 1 0 2.80 0a1.4 1.4 0 1 0 -2.80 0zM371.30 92.54a1.4 1.4 0 1 0 2.80 0a1.4 1.4 0 1 0 -2.80 0zM371.71 92.49a1.4 1.4 0 1 0 2.80 0a1.4 1.4 0 1 0 -2.80 0zM372.13 92.43a1.4 1.4 0 1 0 2.80 0a1.4 1.4 0 1 0 -2.80 0zM372.54 92.38a1.4 1.4 0 1 0 2.80 0a1.4 1.4 0 1 0 -2.80 0zM372.96 92.33a1.4 1.4 0 1 0 2.80 0a1.4 1.4 0 1 0 -2.80 0zM373.38 92.28a1.4 1.4 0 1 0 2.80 0a1.4 1.4 0 1 0 -2.80 0zM373.79 92.23a1.4 1.4 0 1 0 2.80 0a1.4 1.4 0 1 0 -2.80 0zM374.21 92.18a1.4 1.4 0 1 0 2.80 0a1.4 1.4 0 1 0 -2.80 0zM374.62 92.13a1.4 1.4 0 1 0 2.80 0a1.4 1.4 0 1 0 -2.80 0zM375.04 92.08a1.4 1.4 0 1 0 2.80 0a1.4 1.4 0 1 0 -2.80 0zM375.46 92.04a1.4 1.4 0 1 0 2.80 0a1.4 1.4 0 1 0 -2.80 0zM375.87 91.99a1.4 1.4 0 1 0 2.80 0a1.4 1.4 0 1 0 -2.80 0zM376.29 91.95a1.4 1.4 0 1 0 2.80 0a1.4 1.4 0 1 0 -2.80 0zM376.70 91.90a1.4 1.4 0 1 0 2.80 0a1.4 1.4 0 1 0 -2.80 0zM377.12 91.86a1.4 1.4 0 1 0 2.80 0a1.4 1.4 0 1 0 -2.80 0zM377.54 91.81a1.4 1.4 0 1 0 2.80 0a1.4 1.4 0 1 0 -2.80 0zM377.95 91.77a1.4 1.4 0 1 0 2.80 0a1.4 1.4 0 1 0 -2.80 0zM378.37 91.73a1.4 1.4 0 1 0 2.80 0a1.4 1.4 0 1 0 -2.80 0zM378.78 91.68a1.4 1.4 0 1 0 2.80 0a1.4 1.4 0 1 0 -2.80 0zM379.20 91.64a1.4 1.4 0 1 0 2.80 0a1.4 1.4 0 1 0 -2.80 0zM379.62 91.60a1.4 1.4 0 1 0 2.80 0a1.4 1.4 0 1 0 -2.80 0zM380.03 91.56a1.4 1.4 0 1 0 2.80 0a1.4 1.4 0 1 0 -2.80 0zM380.45 91.52a1.4 1.4 0 1 0 2.80 0a1.4 1.4 0 1 0 -2.80 0zM380.86 91.48a1.4 1.4 0 1 0 2.80 0a1.4 1.4 0 1 0 -2.80 0zM381.28 91.44a1.4 1.4 0 1 0 2.80 0a1.4 1.4 0 1 0 -2.80 0zM381.70 91.40a1.4 1.4 0 1 0 2.80 0a1.4 1.4 0 1 0 -2.80 0zM382.11 91.37a1.4 1.4 0 1 0 2.80 0a1.4 1.4 0 1 0 -2.80 0zM382.53 91.33a1.4 1.4 0 1 0 2.80 0a1.4 1.4 0 1 0 -2.80 0zM382.94 91.29a1.4 1.4 0 1 0 2.80 0a1.4 1.4 0 1 0 -2.80 0zM383.36 91.26a1.4 1.4 0 1 0 2.80 0a1.4 1.4 0 1 0 -2.80 0zM383.78 91.22a1.4 1.4 0 1 0 2.80 0a1.4 1.4 0 1 0 -2.80 0zM384.19 91.18a1.4 1.4 0 1 0 2.80 0a1.4 1.4 0 1 0 -2.80 0zM384.61 91.15a1.4 1.4 0 1 0 2.80 0a1.4 1.4 0 1 0 -2.80 0zM385.02 91.12a1.4 1.4 0 1 0 2.80 0a1.4 1.4 0 1 0 -2.80 0zM385.44 91.08a1.4 1.4 0 1 0 2.80 0a1.4 1.4 0 1 0 -2.80 0zM385.86 91.05a1.4 1.4 0 1 0 2.80 0a1.4 1.4 0 1 0 -2.80 0zM386.27 91.01a1.4 1.4 0 1 0 2.80 0a1.4 1.4 0 1 0 -2.80 0zM386.69 90.98a1.4 1.4 0 1 0 2.80 0a1.4 1.4 0 1 0 -2.80 0zM387.10 90.95a1.4 1.4 0 1 0 2.80 0a1.4 1.4 0 1 0 -2.80 0zM387.52 90.92a1.4 1.4 0 1 0 2.80 0a1.4 1.4 0 1 0 -2.80 0zM387.94 90.89a1.4 1.4 0 1 0 2.80 0a1.4 1.4 0 1 0 -2.80 0zM388.35 90.85a1.4 1.4 0 1 0 2.80 0a1.4 1.4 0 1 0 -2.80 0zM388.77 90.82a1.4 1.4 0 1 0 2.80 0a1.4 1.4 0 1 0 -2.80 0zM389.18 90.79a1.4 1.4 0 1 0 2.80 0a1.4 1.4 0 1 0 -2.80 0zM389.60 90.76a1.4 1.4 0 1 0 2.80 0a1.4 1.4 0 1 0 -2.80 0zM390.02 90.73a1.4 1.4 0 1 0 2.80 0a1.4 1.4 0 1 0 -2.80 0zM390.43 90.70a1.4 1.4 0 1 0 2.80 0a1.4 1.4 0 1 0 -2.80 0zM390.85 90.67a1.4 1.4 0 1 0 2.80 0a1.4 1.4 0 1 0 -2.80 0zM391.26 90.65a1.4 1.4 0 1 0 2.80 0a1.4 1.4 0 1 0 -2.80 0zM391.68 90.62a1.4 1.4 0 1 0 2.80 0a1.4 1.4 0 1 0 -2.80 0zM392.10 90.59a1.4 1.4 0 1 0 2.80 0a1.4 1.4 0 1 0 -2.80 0zM392.51 90.56a1.4 1.4 0 1 0 2.80 0a1.4 1.4 0 1 0 -2.80 0zM392.93 90.53a1.4 1.4 0 1 0 2.80 0a1.4 1.4 0 1 0 -2.80 0zM393.34 90.51a1.4 1.4 0 1 0 2.80 0a1.4 1.4 0 1 0 -2.80 0zM393.76 90.48a1.4 1.4 0 1 0 2.80 0a1.4 1.4 0 1 0 -2.80 0zM394.18 90.45a1.4 1.4 0 1 0 2.80 0a1.4 1.4 0 1 0 -2.80 0zM394.59 90.43a1.4 1.4 0 1 0 2.80 0a1.4 1.4 0 1 0 -2.80 0zM395.01 90.40a1.4 1.4 0 1 0 2.80 0a1.4 1.4 0 1 0 -2.80 0zM395.42 90.38a1.4 1.4 0 1 0 2.80 0a1.4 1.4 0 1 0 -2.80 0zM395.84 90.35a1.4 1.4 0 1 0 2.80 0a1.4 1.4 0 1 0 -2.80 0zM396.26 90.33a1.4 1.4 0 1 0 2.80 0a1.4 1.4 0 1 0 -2.80 0zM396.67 90.30a1.4 1.4 0 1 0 2.80 0a1.4 1.4 0 1 0 -2.80 0zM397.09 90.28a1.4 1.4 0 1 0 2.80 0a1.4 1.4 0 1 0 -2.80 0zM397.50 90.26a1.4 1.4 0 1 0 2.80 0a1.4 1.4 0 1 0 -2.80 0zM397.92 90.23a1.4 1.4 0 1 0 2.80 0a1.4 1.4 0 1 0 -2.80 0zM398.34 90.21a1.4 1.4 0 1 0 2.80 0a1.4 1.4 0 1 0 -2.80 0zM398.75 90.19a1.4 1.4 0 1 0 2.80 0a1.4 1.4 0 1 0 -2.80 0zM399.17 90.16a1.4 1.4 0 1 0 2.80 0a1.4 1.4 0 1 0 -2.80 0zM399.58 90.14a1.4 1.4 0 1 0 2.80 0a1.4 1.4 0 1 0 -2.80 0zM400.00 90.12a1.4 1.4 0 1 0 2.80 0a1.4 1.4 0 1 0 -2.80 0zM400.42 90.10a1.4 1.4 0 1 0 2.80 0a1.4 1.4 0 1 0 -2.80 0zM400.83 90.07a1.4 1.4 0 1 0 2.80 0a1.4 1.4 0 1 0 -2.80 0zM401.25 90.05a1.4 1.4 0 1 0 2.80 0a1.4 1.4 0 1 0 -2.80 0zM401.66 90.03a1.4 1.4 0 1 0 2.80 0a1.4 1.4 0 1 0 -2.80 0zM402.08 90.01a1.4 1.4 0 1 0 2.80 0a1.4 1.4 0 1 0 -2.80 0zM402.50 89.99a1.4 1.4 0 1 0 2.80 0a1.4 1.4 0 1 0 -2.80 0zM402.91 89.97a1.4 1.4 0 1 0 2.80 0a1.4 1.4 0 1 0 -2.80 0zM403.33 89.95a1.4 1.4 0 1 0 2.80 0a1.4 1.4 0 1 0 -2.80 0zM403.74 89.93a1.4 1.4 0 1 0 2.80 0a1.4 1.4 0 1 0 -2.80 0zM404.16 89.91a1.4 1.4 0 1 0 2.80 0a1.4 1.4 0 1 0 -2.80 0zM404.58 89.89a1.4 1.4 0 1 0 2.80 0a1.4 1.4 0 1 0 -2.80 0zM404.99 89.87a1.4 1.4 0 1 0 2.80 0a1.4 1.4 0 1 0 -2.80 0zM405.41 89.85a1.4 1.4 0 1 0 2.80 0a1.4 1.4 0 1 0 -2.80 0zM405.82 89.83a1.4 1.4 0 1 0 2.80 0a1.4 1.4 0 1 0 -2.80 0zM406.24 89.81a1.4 1.4 0 1 0 2.80 0a1.4 1.4 0 1 0 -2.80 0zM406.66 89.79a1.4 1.4 0 1 0 2.80 0a1.4 1.4 0 1 0 -2.80 0zM407.07 89.78a1.4 1.4 0 1 0 2.80 0a1.4 1.4 0 1 0 -2.80 0zM407.49 89.76a1.4 1.4 0 1 0 2.80 0a1.4 1.4 0 1 0 -2.80 0zM407.90 89.74a1.4 1.4 0 1 0 2.80 0a1.4 1.4 0 1 0 -2.80 0zM408.32 89.72a1.4 1.4 0 1 0 2.80 0a1.4 1.4 0 1 0 -2.80 0zM408.74 89.70a1.4 1.4 0 1 0 2.80 0a1.4 1.4 0 1 0 -2.80 0zM409.15 89.69a1.4 1.4 0 1 0 2.80 0a1.4 1.4 0 1 0 -2.80 0zM409.57 89.67a1.4 1.4 0 1 0 2.80 0a1.4 1.4 0 1 0 -2.80 0zM409.98 89.65a1.4 1.4 0 1 0 2.80 0a1.4 1.4 0 1 0 -2.80 0zM410.40 89.64a1.4 1.4 0 1 0 2.80 0a1.4 1.4 0 1 0 -2.80 0zM410.82 89.62a1.4 1.4 0 1 0 2.80 0a1.4 1.4 0 1 0 -2.80 0zM411.23 89.60a1.4 1.4 0 1 0 2.80 0a1.4 1.4 0 1 0 -2.80 0zM411.65 89.59a1.4 1.4 0 1 0 2.80 0a1.4 1.4 0 1 0 -2.80 0zM412.06 89.57a1.4 1.4 0 1 0 2.80 0a1.4 1.4 0 1 0 -2.80 0zM412.48 89.56a1.4 1.4 0 1 0 2.80 0a1.4 1.4 0 1 0 -2.80 0zM412.90 89.54a1.4 1.4 0 1 0 2.80 0a1.4 1.4 0 1 0 -2.80 0zM413.31 89.53a1.4 1.4 0 1 0 2.80 0a1.4 1.4 0 1 0 -2.80 0zM413.73 89.51a1.4 1.4 0 1 0 2.80 0a1.4 1.4 0 1 0 -2.80 0zM414.14 89.50a1.4 1.4 0 1 0 2.80 0a1.4 1.4 0 1 0 -2.80 0zM414.56 89.48a1.4 1.4 0 1 0 2.80 0a1.4 1.4 0 1 0 -2.80 0zM414.98 89.47a1.4 1.4 0 1 0 2.80 0a1.4 1.4 0 1 0 -2.80 0zM415.39 89.45a1.4 1.4 0 1 0 2.80 0a1.4 1.4 0 1 0 -2.80 0zM415.81 89.44a1.4 1.4 0 1 0 2.80 0a1.4 1.4 0 1 0 -2.80 0zM416.22 89.42a1.4 1.4 0 1 0 2.80 0a1.4 1.4 0 1 0 -2.80 0zM416.64 89.41a1.4 1.4 0 1 0 2.80 0a1.4 1.4 0 1 0 -2.80 0zM417.06 89.39a1.4 1.4 0 1 0 2.80 0a1.4 1.4 0 1 0 -2.80 0zM417.47 89.38a1.4 1.4 0 1 0 2.80 0a1.4 1.4 0 1 0 -2.80 0zM417.89 89.37a1.4 1.4 0 1 0 2.80 0a1.4 1.4 0 1 0 -2.80 0zM418.30 89.35a1.4 1.4 0 1 0 2.80 0a1.4 1.4 0 1 0 -2.80 0zM418.72 89.34a1.4 1.4 0 1 0 2.80 0a1.4 1.4 0 1 0 -2.80 0zM419.14 89.33a1.4 1.4 0 1 0 2.80 0a1.4 1.4 0 1 0 -2.80 0zM419.55 89.31a1.4 1.4 0 1 0 2.80 0a1.4 1.4 0 1 0 -2.80 0zM419.97 89.30a1.4 1.4 0 1 0 2.80 0a1.4 1.4 0 1 0 -2.80 0zM420.38 89.29a1.4 1.4 0 1 0 2.80 0a1.4 1.4 0 1 0 -2.80 0zM420.80 89.28a1.4 1.4 0 1 0 2.80 0a1.4 1.4 0 1 0 -2.80 0zM421.22 89.26a1.4 1.4 0 1 0 2.80 0a1.4 1.4 0 1 0 -2.80 0zM421.63 89.25a1.4 1.4 0 1 0 2.80 0a1.4 1.4 0 1 0 -2.80 0zM422.05 89.24a1.4 1.4 0 1 0 2.80 0a1.4 1.4 0 1 0 -2.80 0zM422.46 89.23a1.4 1.4 0 1 0 2.80 0a1.4 1.4 0 1 0 -2.80 0zM422.88 89.22a1.4 1.4 0 1 0 2.80 0a1.4 1.4 0 1 0 -2.80 0zM423.30 89.20a1.4 1.4 0 1 0 2.80 0a1.4 1.4 0 1 0 -2.80 0zM423.71 89.19a1.4 1.4 0 1 0 2.80 0a1.4 1.4 0 1 0 -2.80 0zM424.13 89.18a1.4 1.4 0 1 0 2.80 0a1.4 1.4 0 1 0 -2.80 0zM424.54 89.17a1.4 1.4 0 1 0 2.80 0a1.4 1.4 0 1 0 -2.80 0zM424.96 89.16a1.4 1.4 0 1 0 2.80 0a1.4 1.4 0 1 0 -2.80 0zM425.38 89.15a1.4 1.4 0 1 0 2.80 0a1.4 1.4 0 1 0 -2.80 0zM425.79 89.14a1.4 1.4 0 1 0 2.80 0a1.4 1.4 0 1 0 -2.80 0zM426.21 89.13a1.4 1.4 0 1 0 2.80 0a1.4 1.4 0 1 0 -2.80 0zM426.62 89.12a1.4 1.4 0 1 0 2.80 0a1.4 1.4 0 1 0 -2.80 0zM427.04 89.11a1.4 1.4 0 1 0 2.80 0a1.4 1.4 0 1 0 -2.80 0zM427.46 89.10a1.4 1.4 0 1 0 2.80 0a1.4 1.4 0 1 0 -2.80 0zM427.87 89.09a1.4 1.4 0 1 0 2.80 0a1.4 1.4 0 1 0 -2.80 0zM428.29 89.08a1.4 1.4 0 1 0 2.80 0a1.4 1.4 0 1 0 -2.80 0zM428.70 89.07a1.4 1.4 0 1 0 2.80 0a1.4 1.4 0 1 0 -2.80 0zM429.12 89.06a1.4 1.4 0 1 0 2.80 0a1.4 1.4 0 1 0 -2.80 0zM429.54 89.05a1.4 1.4 0 1 0 2.80 0a1.4 1.4 0 1 0 -2.80 0zM429.95 89.04a1.4 1.4 0 1 0 2.80 0a1.4 1.4 0 1 0 -2.80 0zM430.37 89.03a1.4 1.4 0 1 0 2.80 0a1.4 1.4 0 1 0 -2.80 0zM430.78 89.02a1.4 1.4 0 1 0 2.80 0a1.4 1.4 0 1 0 -2.80 0zM431.20 89.01a1.4 1.4 0 1 0 2.80 0a1.4 1.4 0 1 0 -2.80 0zM431.62 89.00a1.4 1.4 0 1 0 2.80 0a1.4 1.4 0 1 0 -2.80 0zM432.03 88.99a1.4 1.4 0 1 0 2.80 0a1.4 1.4 0 1 0 -2.80 0zM432.45 88.98a1.4 1.4 0 1 0 2.80 0a1.4 1.4 0 1 0 -2.80 0zM432.86 88.97a1.4 1.4 0 1 0 2.80 0a1.4 1.4 0 1 0 -2.80 0zM433.28 88.96a1.4 1.4 0 1 0 2.80 0a1.4 1.4 0 1 0 -2.80 0zM433.70 88.95a1.4 1.4 0 1 0 2.80 0a1.4 1.4 0 1 0 -2.80 0zM434.11 88.95a1.4 1.4 0 1 0 2.80 0a1.4 1.4 0 1 0 -2.80 0zM434.53 88.94a1.4 1.4 0 1 0 2.80 0a1.4 1.4 0 1 0 -2.80 0zM434.94 88.93a1.4 1.4 0 1 0 2.80 0a1.4 1.4 0 1 0 -2.80 0zM435.36 88.92a1.4 1.4 0 1 0 2.80 0a1.4 1.4 0 1 0 -2.80 0zM435.78 88.91a1.4 1.4 0 1 0 2.80 0a1.4 1.4 0 1 0 -2.80 0zM436.19 88.90a1.4 1.4 0 1 0 2.80 0a1.4 1.4 0 1 0 -2.80 0zM436.61 88.90a1.4 1.4 0 1 0 2.80 0a1.4 1.4 0 1 0 -2.80 0zM437.02 88.89a1.4 1.4 0 1 0 2.80 0a1.4 1.4 0 1 0 -2.80 0zM437.44 88.88a1.4 1.4 0 1 0 2.80 0a1.4 1.4 0 1 0 -2.80 0zM437.86 88.87a1.4 1.4 0 1 0 2.80 0a1.4 1.4 0 1 0 -2.80 0zM438.27 88.87a1.4 1.4 0 1 0 2.80 0a1.4 1.4 0 1 0 -2.80 0zM438.69 88.86a1.4 1.4 0 1 0 2.80 0a1.4 1.4 0 1 0 -2.80 0zM439.10 88.85a1.4 1.4 0 1 0 2.80 0a1.4 1.4 0 1 0 -2.80 0zM439.52 88.84a1.4 1.4 0 1 0 2.80 0a1.4 1.4 0 1 0 -2.80 0zM439.94 88.84a1.4 1.4 0 1 0 2.80 0a1.4 1.4 0 1 0 -2.80 0zM440.35 88.83a1.4 1.4 0 1 0 2.80 0a1.4 1.4 0 1 0 -2.80 0zM440.77 88.82a1.4 1.4 0 1 0 2.80 0a1.4 1.4 0 1 0 -2.80 0zM441.18 88.82a1.4 1.4 0 1 0 2.80 0a1.4 1.4 0 1 0 -2.80 0zM441.60 88.81a1.4 1.4 0 1 0 2.80 0a1.4 1.4 0 1 0 -2.80 0zM442.02 88.80a1.4 1.4 0 1 0 2.80 0a1.4 1.4 0 1 0 -2.80 0zM442.43 88.80a1.4 1.4 0 1 0 2.80 0a1.4 1.4 0 1 0 -2.80 0zM442.85 88.79a1.4 1.4 0 1 0 2.80 0a1.4 1.4 0 1 0 -2.80 0zM443.26 88.78a1.4 1.4 0 1 0 2.80 0a1.4 1.4 0 1 0 -2.80 0zM443.68 88.78a1.4 1.4 0 1 0 2.80 0a1.4 1.4 0 1 0 -2.80 0zM444.10 88.77a1.4 1.4 0 1 0 2.80 0a1.4 1.4 0 1 0 -2.80 0zM444.51 88.76a1.4 1.4 0 1 0 2.80 0a1.4 1.4 0 1 0 -2.80 0zM444.93 88.76a1.4 1.4 0 1 0 2.80 0a1.4 1.4 0 1 0 -2.80 0zM445.34 88.75a1.4 1.4 0 1 0 2.80 0a1.4 1.4 0 1 0 -2.80 0zM445.76 88.75a1.4 1.4 0 1 0 2.80 0a1.4 1.4 0 1 0 -2.80 0zM446.18 88.74a1.4 1.4 0 1 0 2.80 0a1.4 1.4 0 1 0 -2.80 0zM446.59 88.73a1.4 1.4 0 1 0 2.80 0a1.4 1.4 0 1 0 -2.80 0zM447.01 88.73a1.4 1.4 0 1 0 2.80 0a1.4 1.4 0 1 0 -2.80 0zM447.42 88.72a1.4 1.4 0 1 0 2.80 0a1.4 1.4 0 1 0 -2.80 0zM447.84 88.72a1.4 1.4 0 1 0 2.80 0a1.4 1.4 0 1 0 -2.80 0zM448.26 88.71a1.4 1.4 0 1 0 2.80 0a1.4 1.4 0 1 0 -2.80 0zM448.67 88.71a1.4 1.4 0 1 0 2.80 0a1.4 1.4 0 1 0 -2.80 0zM449.09 88.70a1.4 1.4 0 1 0 2.80 0a1.4 1.4 0 1 0 -2.80 0zM449.50 88.70a1.4 1.4 0 1 0 2.80 0a1.4 1.4 0 1 0 -2.80 0zM449.92 88.69a1.4 1.4 0 1 0 2.80 0a1.4 1.4 0 1 0 -2.80 0zM450.34 88.69a1.4 1.4 0 1 0 2.80 0a1.4 1.4 0 1 0 -2.80 0zM450.75 88.68a1.4 1.4 0 1 0 2.80 0a1.4 1.4 0 1 0 -2.80 0zM451.17 88.68a1.4 1.4 0 1 0 2.80 0a1.4 1.4 0 1 0 -2.80 0zM451.58 88.67a1.4 1.4 0 1 0 2.80 0a1.4 1.4 0 1 0 -2.80 0zM452.00 88.67a1.4 1.4 0 1 0 2.80 0a1.4 1.4 0 1 0 -2.80 0zM452.42 88.66a1.4 1.4 0 1 0 2.80 0a1.4 1.4 0 1 0 -2.80 0zM452.83 88.66a1.4 1.4 0 1 0 2.80 0a1.4 1.4 0 1 0 -2.80 0zM453.25 88.65a1.4 1.4 0 1 0 2.80 0a1.4 1.4 0 1 0 -2.80 0zM453.66 88.65a1.4 1.4 0 1 0 2.80 0a1.4 1.4 0 1 0 -2.80 0zM454.08 88.64a1.4 1.4 0 1 0 2.80 0a1.4 1.4 0 1 0 -2.80 0zM454.50 88.64a1.4 1.4 0 1 0 2.80 0a1.4 1.4 0 1 0 -2.80 0zM454.91 88.63a1.4 1.4 0 1 0 2.80 0a1.4 1.4 0 1 0 -2.80 0zM455.33 88.63a1.4 1.4 0 1 0 2.80 0a1.4 1.4 0 1 0 -2.80 0zM455.74 88.63a1.4 1.4 0 1 0 2.80 0a1.4 1.4 0 1 0 -2.80 0zM456.16 88.62a1.4 1.4 0 1 0 2.80 0a1.4 1.4 0 1 0 -2.80 0zM456.58 88.62a1.4 1.4 0 1 0 2.80 0a1.4 1.4 0 1 0 -2.80 0zM456.99 88.61a1.4 1.4 0 1 0 2.80 0a1.4 1.4 0 1 0 -2.80 0zM457.41 88.61a1.4 1.4 0 1 0 2.80 0a1.4 1.4 0 1 0 -2.80 0zM457.82 88.61a1.4 1.4 0 1 0 2.80 0a1.4 1.4 0 1 0 -2.80 0zM458.24 88.60a1.4 1.4 0 1 0 2.80 0a1.4 1.4 0 1 0 -2.80 0zM458.66 88.60a1.4 1.4 0 1 0 2.80 0a1.4 1.4 0 1 0 -2.80 0zM459.07 88.59a1.4 1.4 0 1 0 2.80 0a1.4 1.4 0 1 0 -2.80 0zM459.49 88.59a1.4 1.4 0 1 0 2.80 0a1.4 1.4 0 1 0 -2.80 0zM459.90 88.59a1.4 1.4 0 1 0 2.80 0a1.4 1.4 0 1 0 -2.80 0zM460.32 88.58a1.4 1.4 0 1 0 2.80 0a1.4 1.4 0 1 0 -2.80 0zM460.74 88.58a1.4 1.4 0 1 0 2.80 0a1.4 1.4 0 1 0 -2.80 0zM461.15 88.58a1.4 1.4 0 1 0 2.80 0a1.4 1.4 0 1 0 -2.80 0zM461.57 88.57a1.4 1.4 0 1 0 2.80 0a1.4 1.4 0 1 0 -2.80 0zM461.98 88.57a1.4 1.4 0 1 0 2.80 0a1.4 1.4 0 1 0 -2.80 0zM462.40 88.57a1.4 1.4 0 1 0 2.80 0a1.4 1.4 0 1 0 -2.80 0zM462.82 88.56a1.4 1.4 0 1 0 2.80 0a1.4 1.4 0 1 0 -2.80 0zM463.23 88.56a1.4 1.4 0 1 0 2.80 0a1.4 1.4 0 1 0 -2.80 0zM463.65 88.56a1.4 1.4 0 1 0 2.80 0a1.4 1.4 0 1 0 -2.80 0zM464.06 88.56a1.4 1.4 0 1 0 2.80 0a1.4 1.4 0 1 0 -2.80 0zM464.48 88.55a1.4 1.4 0 1 0 2.80 0a1.4 1.4 0 1 0 -2.80 0zM464.90 88.55a1.4 1.4 0 1 0 2.80 0a1.4 1.4 0 1 0 -2.80 0zM465.31 88.55a1.4 1.4 0 1 0 2.80 0a1.4 1.4 0 1 0 -2.80 0zM465.73 88.54a1.4 1.4 0 1 0 2.80 0a1.4 1.4 0 1 0 -2.80 0zM466.14 88.54a1.4 1.4 0 1 0 2.80 0a1.4 1.4 0 1 0 -2.80 0zM466.56 88.54a1.4 1.4 0 1 0 2.80 0a1.4 1.4 0 1 0 -2.80 0zM466.98 88.54a1.4 1.4 0 1 0 2.80 0a1.4 1.4 0 1 0 -2.80 0zM467.39 88.53a1.4 1.4 0 1 0 2.80 0a1.4 1.4 0 1 0 -2.80 0zM467.81 88.53a1.4 1.4 0 1 0 2.80 0a1.4 1.4 0 1 0 -2.80 0zM468.22 88.53a1.4 1.4 0 1 0 2.80 0a1.4 1.4 0 1 0 -2.80 0zM468.64 88.53a1.4 1.4 0 1 0 2.80 0a1.4 1.4 0 1 0 -2.80 0zM469.06 88.52a1.4 1.4 0 1 0 2.80 0a1.4 1.4 0 1 0 -2.80 0zM469.47 88.52a1.4 1.4 0 1 0 2.80 0a1.4 1.4 0 1 0 -2.80 0zM469.89 88.52a1.4 1.4 0 1 0 2.80 0a1.4 1.4 0 1 0 -2.80 0zM470.30 88.52a1.4 1.4 0 1 0 2.80 0a1.4 1.4 0 1 0 -2.80 0zM470.72 88.52a1.4 1.4 0 1 0 2.80 0a1.4 1.4 0 1 0 -2.80 0zM471.14 88.51a1.4 1.4 0 1 0 2.80 0a1.4 1.4 0 1 0 -2.80 0zM471.55 88.51a1.4 1.4 0 1 0 2.80 0a1.4 1.4 0 1 0 -2.80 0zM471.97 88.51a1.4 1.4 0 1 0 2.80 0a1.4 1.4 0 1 0 -2.80 0zM472.38 88.51a1.4 1.4 0 1 0 2.80 0a1.4 1.4 0 1 0 -2.80 0zM472.80 88.51a1.4 1.4 0 1 0 2.80 0a1.4 1.4 0 1 0 -2.80 0zM473.22 88.50a1.4 1.4 0 1 0 2.80 0a1.4 1.4 0 1 0 -2.80 0zM473.63 88.50a1.4 1.4 0 1 0 2.80 0a1.4 1.4 0 1 0 -2.80 0zM474.05 88.50a1.4 1.4 0 1 0 2.80 0a1.4 1.4 0 1 0 -2.80 0zM474.46 88.50a1.4 1.4 0 1 0 2.80 0a1.4 1.4 0 1 0 -2.80 0zM474.88 88.50a1.4 1.4 0 1 0 2.80 0a1.4 1.4 0 1 0 -2.80 0zM475.30 88.50a1.4 1.4 0 1 0 2.80 0a1.4 1.4 0 1 0 -2.80 0zM475.71 88.49a1.4 1.4 0 1 0 2.80 0a1.4 1.4 0 1 0 -2.80 0zM476.13 88.49a1.4 1.4 0 1 0 2.80 0a1.4 1.4 0 1 0 -2.80 0zM476.54 88.49a1.4 1.4 0 1 0 2.80 0a1.4 1.4 0 1 0 -2.80 0zM476.96 88.49a1.4 1.4 0 1 0 2.80 0a1.4 1.4 0 1 0 -2.80 0zM477.38 88.49a1.4 1.4 0 1 0 2.80 0a1.4 1.4 0 1 0 -2.80 0zM477.79 88.49a1.4 1.4 0 1 0 2.80 0a1.4 1.4 0 1 0 -2.80 0zM478.21 88.49a1.4 1.4 0 1 0 2.80 0a1.4 1.4 0 1 0 -2.80 0zM478.62 88.48a1.4 1.4 0 1 0 2.80 0a1.4 1.4 0 1 0 -2.80 0zM479.04 88.48a1.4 1.4 0 1 0 2.80 0a1.4 1.4 0 1 0 -2.80 0z" fill="none" stroke="#f0303a" stroke-width="1.0" stroke-opacity="1"/>
<path d="M327.62 115.88a1.4 1.4 0 1 0 2.80 0a1.4 1.4 0 1 0 -2.80 0zM328.03 115.42a1.4 1.4 0 1 0 2.80 0a1.4 1.4 0 1 0 -2.80 0zM328.45 114.16a1.4 1.4 0 1 0 2.80 0a1.4 1.4 0 1 0 -2.80 0zM328.86 112.91a1.4 1.4 0 1 0 2.80 0a1.4 1.4 0 1 0 -2.80 0zM329.28 111.75a1.4 1.4 0 1 0 2.80 0a1.4 1.4 0 1 0 -2.80 0zM329.70 110.70a1.4 1.4 0 1 0 2.80 0a1.4 1.4 0 1 0 -2.80 0zM330.11 109.75a1.4 1.4 0 1 0 2.80 0a1.4 1.4 0 1 0 -2.80 0zM330.53 108.88a1.4 1.4 0 1 0 2.80 0a1.4 1.4 0 1 0 -2.80 0zM330.94 108.08a1.4 1.4 0 1 0 2.80 0a1.4 1.4 0 1 0 -2.80 0zM331.36 107.34a1.4 1.4 0 1 0 2.80 0a1.4 1.4 0 1 0 -2.80 0zM331.78 106.66a1.4 1.4 0 1 0 2.80 0a1.4 1.4 0 1 0 -2.80 0zM332.19 106.02a1.4 1.4 0 1 0 2.80 0a1.4 1.4 0 1 0 -2.80 0zM332.61 105.43a1.4 1.4 0 1 0 2.80 0a1.4 1.4 0 1 0 -2.80 0zM333.02 104.87a1.4 1.4 0 1 0 2.80 0a1.4 1.4 0 1 0 -2.80 0zM333.44 104.34a1.4 1.4 0 1 0 2.80 0a1.4 1.4 0 1 0 -2.80 0zM333.86 103.85a1.4 1.4 0 1 0 2.80 0a1.4 1.4 0 1 0 -2.80 0zM334.27 103.38a1.4 1.4 0 1 0 2.80 0a1.4 1.4 0 1 0 -2.80 0zM334.69 102.93a1.4 1.4 0 1 0 2.80 0a1.4 1.4 0 1 0 -2.80 0zM335.10 102.51a1.4 1.4 0 1 0 2.80 0a1.4 1.4 0 1 0 -2.80 0zM335.52 102.10a1.4 1.4 0 1 0 2.80 0a1.4 1.4 0 1 0 -2.80 0zM335.94 101.71a1.4 1.4 0 1 0 2.80 0a1.4 1.4 0 1 0 -2.80 0zM336.35 101.34a1.4 1.4 0 1 0 2.80 0a1.4 1.4 0 1 0 -2.80 0zM336.77 100.99a1.4 1.4 0 1 0 2.80 0a1.4 1.4 0 1 0 -2.80 0zM337.18 100.65a1.4 1.4 0 1 0 2.80 0a1.4 1.4 0 1 0 -2.80 0zM337.60 100.32a1.4 1.4 0 1 0 2.80 0a1.4 1.4 0 1 0 -2.80 0zM338.02 100.01a1.4 1.4 0 1 0 2.80 0a1.4 1.4 0 1 0 -2.80 0zM338.43 99.70a1.4 1.4 0 1 0 2.80 0a1.4 1.4 0 1 0 -2.80 0zM338.85 99.41a1.4 1.4 0 1 0 2.80 0a1.4 1.4 0 1 0 -2.80 0zM339.26 99.13a1.4 1.4 0 1 0 2.80 0a1.4 1.4 0 1 0 -2.80 0zM339.68 98.86a1.4 1.4 0 1 0 2.80 0a1.4 1.4 0 1 0 -2.80 0zM340.10 98.59a1.4 1.4 0 1 0 2.80 0a1.4 1.4 0 1 0 -2.80 0zM340.51 98.34a1.4 1.4 0 1 0 2.80 0a1.4 1.4 0 1 0 -2.80 0zM340.93 98.09a1.4 1.4 0 1 0 2.80 0a1.4 1.4 0 1 0 -2.80 0zM341.34 97.85a1.4 1.4 0 1 0 2.80 0a1.4 1.4 0 1 0 -2.80 0zM341.76 97.62a1.4 1.4 0 1 0 2.80 0a1.4 1.4 0 1 0 -2.80 0zM342.18 97.39a1.4 1.4 0 1 0 2.80 0a1.4 1.4 0 1 0 -2.80 0zM342.59 97.17a1.4 1.4 0 1 0 2.80 0a1.4 1.4 0 1 0 -2.80 0zM343.01 96.96a1.4 1.4 0 1 0 2.80 0a1.4 1.4 0 1 0 -2.80 0zM343.42 96.75a1.4 1.4 0 1 0 2.80 0a1.4 1.4 0 1 0 -2.80 0zM343.84 96.55a1.4 1.4 0 1 0 2.80 0a1.4 1.4 0 1 0 -2.80 0zM344.26 96.35a1.4 1.4 0 1 0 2.80 0a1.4 1.4 0 1 0 -2.80 0zM344.67 96.16a1.4 1.4 0 1 0 2.80 0a1.4 1.4 0 1 0 -2.80 0zM345.09 95.97a1.4 1.4 0 1 0 2.80 0a1.4 1.4 0 1 0 -2.80 0zM345.50 95.79a1.4 1.4 0 1 0 2.80 0a1.4 1.4 0 1 0 -2.80 0zM345.92 95.61a1.4 1.4 0 1 0 2.80 0a1.4 1.4 0 1 0 -2.80 0zM346.34 95.44a1.4 1.4 0 1 0 2.80 0a1.4 1.4 0 1 0 -2.80 0zM346.75 95.27a1.4 1.4 0 1 0 2.80 0a1.4 1.4 0 1 0 -2.80 0zM347.17 95.10a1.4 1.4 0 1 0 2.80 0a1.4 1.4 0 1 0 -2.80 0zM347.58 94.94a1.4 1.4 0 1 0 2.80 0a1.4 1.4 0 1 0 -2.80 0zM348.00 94.78a1.4 1.4 0 1 0 2.80 0a1.4 1.4 0 1 0 -2.80 0zM348.42 94.63a1.4 1.4 0 1 0 2.80 0a1.4 1.4 0 1 0 -2.80 0zM348.83 94.48a1.4 1.4 0 1 0 2.80 0a1.4 1.4 0 1 0 -2.80 0zM349.25 94.33a1.4 1.4 0 1 0 2.80 0a1.4 1.4 0 1 0 -2.80 0zM349.66 94.18a1.4 1.4 0 1 0 2.80 0a1.4 1.4 0 1 0 -2.80 0zM350.08 94.04a1.4 1.4 0 1 0 2.80 0a1.4 1.4 0 1 0 -2.80 0zM350.50 93.90a1.4 1.4 0 1 0 2.80 0a1.4 1.4 0 1 0 -2.80 0zM350.91 93.76a1.4 1.4 0 1 0 2.80 0a1.4 1.4 0 1 0 -2.80 0zM351.33 93.63a1.4 1.4 0 1 0 2.80 0a1.4 1.4 0 1 0 -2.80 0zM351.74 93.50a1.4 1.4 0 1 0 2.80 0a1.4 1.4 0 1 0 -2.80 0zM352.16 93.37a1.4 1.4 0 1 0 2.80 0a1.4 1.4 0 1 0 -2.80 0zM352.58 93.24a1.4 1.4 0 1 0 2.80 0a1.4 1.4 0 1 0 -2.80 0zM352.99 93.12a1.4 1.4 0 1 0 2.80 0a1.4 1.4 0 1 0 -2.80 0zM353.41 92.99a1.4 1.4 0 1 0 2.80 0a1.4 1.4 0 1 0 -2.80 0zM353.82 92.87a1.4 1.4 0 1 0 2.80 0a1.4 1.4 0 1 0 -2.80 0zM354.24 92.76a1.4 1.4 0 1 0 2.80 0a1.4 1.4 0 1 0 -2.80 0zM354.66 92.64a1.4 1.4 0 1 0 2.80 0a1.4 1.4 0 1 0 -2.80 0zM355.07 92.53a1.4 1.4 0 1 0 2.80 0a1.4 1.4 0 1 0 -2.80 0zM355.49 92.42a1.4 1.4 0 1 0 2.80 0a1.4 1.4 0 1 0 -2.80 0zM355.90 92.31a1.4 1.4 0 1 0 2.80 0a1.4 1.4 0 1 0 -2.80 0zM356.32 92.20a1.4 1.4 0 1 0 2.80 0a1.4 1.4 0 1 0 -2.80 0zM356.74 92.09a1.4 1.4 0 1 0 2.80 0a1.4 1.4 0 1 0 -2.80 0zM357.15 91.99a1.4 1.4 0 1 0 2.80 0a1.4 1.4 0 1 0 -2.80 0zM357.57 91.89a1.4 1.4 0 1 0 2.80 0a1.4 1.4 0 1 0 -2.80 0zM357.98 91.79a1.4 1.4 0 1 0 2.80 0a1.4 1.4 0 1 0 -2.80 0zM358.40 91.69a1.4 1.4 0 1 0 2.80 0a1.4 1.4 0 1 0 -2.80 0zM358.82 91.59a1.4 1.4 0 1 0 2.80 0a1.4 1.4 0 1 0 -2.80 0zM359.23 91.49a1.4 1.4 0 1 0 2.80 0a1.4 1.4 0 1 0 -2.80 0zM359.65 91.40a1.4 1.4 0 1 0 2.80 0a1.4 1.4 0 1 0 -2.80 0zM360.06 91.30a1.4 1.4 0 1 0 2.80 0a1.4 1.4 0 1 0 -2.80 0zM360.48 91.21a1.4 1.4 0 1 0 2.80 0a1.4 1.4 0 1 0 -2.80 0zM360.90 91.12a1.4 1.4 0 1 0 2.80 0a1.4 1.4 0 1 0 -2.80 0zM361.31 91.03a1.4 1.4 0 1 0 2.80 0a1.4 1.4 0 1 0 -2.80 0zM361.73 90.94a1.4 1.4 0 1 0 2.80 0a1.4 1.4 0 1 0 -2.80 0zM362.14 90.86a1.4 1.4 0 1 0 2.80 0a1.4 1.4 0 1 0 -2.80 0zM362.56 90.77a1.4 1.4 0 1 0 2.80 0a1.4 1.4 0 1 0 -2.80 0zM362.98 90.69a1.4 1.4 0 1 0 2.80 0a1.4 1.4 0 1 0 -2.80 0zM363.39 90.61a1.4 1.4 0 1 0 2.80 0a1.4 1.4 0 1 0 -2.80 0zM363.81 90.52a1.4 1.4 0 1 0 2.80 0a1.4 1.4 0 1 0 -2.80 0zM364.22 90.44a1.4 1.4 0 1 0 2.80 0a1.4 1.4 0 1 0 -2.80 0zM364.64 90.36a1.4 1.4 0 1 0 2.80 0a1.4 1.4 0 1 0 -2.80 0zM365.06 90.29a1.4 1.4 0 1 0 2.80 0a1.4 1.4 0 1 0 -2.80 0zM365.47 90.21a1.4 1.4 0 1 0 2.80 0a1.4 1.4 0 1 0 -2.80 0zM365.89 90.13a1.4 1.4 0 1 0 2.80 0a1.4 1.4 0 1 0 -2.80 0zM366.30 90.06a1.4 1.4 0 1 0 2.80 0a1.4 1.4 0 1 0 -2.80 0zM366.72 89.98a1.4 1.4 0 1 0 2.80 0a1.4 1.4 0 1 0 -2.80 0zM367.14 89.91a1.4 1.4 0 1 0 2.80 0a1.4 1.4 0 1 0 -2.80 0zM367.55 89.84a1.4 1.4 0 1 0 2.80 0a1.4 1.4 0 1 0 -2.80 0zM367.97 89.77a1.4 1.4 0 1 0 2.80 0a1.4 1.4 0 1 0 -2.80 0zM368.38 89.70a1.4 1.4 0 1 0 2.80 0a1.4 1.4 0 1 0 -2.80 0zM368.80 89.63a1.4 1.4 0 1 0 2.80 0a1.4 1.4 0 1 0 -2.80 0zM369.22 89.56a1.4 1.4 0 1 0 2.80 0a1.4 1.4 0 1 0 -2.80 0zM369.63 89.49a1.4 1.4 0 1 0 2.80 0a1.4 1.4 0 1 0 -2.80 0zM370.05 89.42a1.4 1.4 0 1 0 2.80 0a1.4 1.4 0 1 0 -2.80 0zM370.46 89.36a1.4 1.4 0 1 0 2.80 0a1.4 1.4 0 1 0 -2.80 0zM370.88 89.29a1.4 1.4 0 1 0 2.80 0a1.4 1.4 0 1 0 -2.80 0zM371.30 89.23a1.4 1.4 0 1 0 2.80 0a1.4 1.4 0 1 0 -2.80 0zM371.71 89.16a1.4 1.4 0 1 0 2.80 0a1.4 1.4 0 1 0 -2.80 0zM372.13 89.10a1.4 1.4 0 1 0 2.80 0a1.4 1.4 0 1 0 -2.80 0zM372.54 89.04a1.4 1.4 0 1 0 2.80 0a1.4 1.4 0 1 0 -2.80 0zM372.96 88.98a1.4 1.4 0 1 0 2.80 0a1.4 1.4 0 1 0 -2.80 0zM373.38 88.91a1.4 1.4 0 1 0 2.80 0a1.4 1.4 0 1 0 -2.80 0zM373.79 88.85a1.4 1.4 0 1 0 2.80 0a1.4 1.4 0 1 0 -2.80 0zM374.21 88.80a1.4 1.4 0 1 0 2.80 0a1.4 1.4 0 1 0 -2.80 0zM374.62 88.74a1.4 1.4 0 1 0 2.80 0a1.4 1.4 0 1 0 -2.80 0zM375.04 88.68a1.4 1.4 0 1 0 2.80 0a1.4 1.4 0 1 0 -2.80 0zM375.46 88.62a1.4 1.4 0 1 0 2.80 0a1.4 1.4 0 1 0 -2.80 0zM375.87 88.56a1.4 1.4 0 1 0 2.80 0a1.4 1.4 0 1 0 -2.80 0zM376.29 88.51a1.4 1.4 0 1 0 2.80 0a1.4 1.4 0 1 0 -2.80 0zM376.70 88.45a1.4 1.4 0 1 0 2.80 0a1.4 1.4 0 1 0 -2.80 0zM377.12 88.40a1.4 1.4 0 1 0 2.80 0a1.4 1.4 0 1 0 -2.80 0zM377.54 88.34a1.4 1.4 0 1 0 2.80 0a1.4 1.4 0 1 0 -2.80 0zM377.95 88.29a1.4 1.4 0 1 0 2.80 0a1.4 1.4 0 1 0 -2.80 0zM378.37 88.24a1.4 1.4 0 1 0 2.80 0a1.4 1.4 0 1 0 -2.80 0zM378.78 88.18a1.4 1.4 0 1 0 2.80 0a1.4 1.4 0 1 0 -2.80 0zM379.20 88.13a1.4 1.4 0 1 0 2.80 0a1.4 1.4 0 1 0 -2.80 0zM379.62 88.08a1.4 1.4 0 1 0 2.80 0a1.4 1.4 0 1 0 -2.80 0zM380.03 88.03a1.4 1.4 0 1 0 2.80 0a1.4 1.4 0 1 0 -2.80 0zM380.45 87.98a1.4 1.4 0 1 0 2.80 0a1.4 1.4 0 1 0 -2.80 0zM380.86 87.93a1.4 1.4 0 1 0 2.80 0a1.4 1.4 0 1 0 -2.80 0zM381.28 87.88a1.4 1.4 0 1 0 2.80 0a1.4 1.4 0 1 0 -2.80 0zM381.70 87.83a1.4 1.4 0 1 0 2.80 0a1.4 1.4 0 1 0 -2.80 0zM382.11 87.78a1.4 1.4 0 1 0 2.80 0a1.4 1.4 0 1 0 -2.80 0zM382.53 87.74a1.4 1.4 0 1 0 2.80 0a1.4 1.4 0 1 0 -2.80 0zM382.94 87.69a1.4 1.4 0 1 0 2.80 0a1.4 1.4 0 1 0 -2.80 0zM383.36 87.64a1.4 1.4 0 1 0 2.80 0a1.4 1.4 0 1 0 -2.80 0zM383.78 87.60a1.4 1.4 0 1 0 2.80 0a1.4 1.4 0 1 0 -2.80 0zM384.19 87.55a1.4 1.4 0 1 0 2.80 0a1.4 1.4 0 1 0 -2.80 0zM384.61 87.51a1.4 1.4 0 1 0 2.80 0a1.4 1.4 0 1 0 -2.80 0zM385.02 87.46a1.4 1.4 0 1 0 2.80 0a1.4 1.4 0 1 0 -2.80 0zM385.44 87.42a1.4 1.4 0 1 0 2.80 0a1.4 1.4 0 1 0 -2.80 0zM385.86 87.37a1.4 1.4 0 1 0 2.80 0a1.4 1.4 0 1 0 -2.80 0zM386.27 87.33a1.4 1.4 0 1 0 2.80 0a1.4 1.4 0 1 0 -2.80 0zM386.69 87.29a1.4 1.4 0 1 0 2.80 0a1.4 1.4 0 1 0 -2.80 0zM387.10 87.24a1.4 1.4 0 1 0 2.80 0a1.4 1.4 0 1 0 -2.80 0zM387.52 87.20a1.4 1.4 0 1 0 2.80 0a1.4 1.4 0 1 0 -2.80 0zM387.94 87.16a1.4 1.4 0 1 0 2.80 0a1.4 1.4 0 1 0 -2.80 0zM388.35 87.12a1.4 1.4 0 1 0 2.80 0a1.4 1.4 0 1 0 -2.80 0zM388.77 87.08a1.4 1.4 0 1 0 2.80 0a1.4 1.4 0 1 0 -2.80 0zM389.18 87.04a1.4 1.4 0 1 0 2.80 0a1.4 1.4 0 1 0 -2.80 0zM389.60 86.99a1.4 1.4 0 1 0 2.80 0a1.4 1.4 0 1 0 -2.80 0zM390.02 86.95a1.4 1.4 0 1 0 2.80 0a1.4 1.4 0 1 0 -2.80 0zM390.43 86.92a1.4 1.4 0 1 0 2.80 0a1.4 1.4 0 1 0 -2.80 0zM390.85 86.88a1.4 1.4 0 1 0 2.80 0a1.4 1.4 0 1 0 -2.80 0zM391.26 86.84a1.4 1.4 0 1 0 2.80 0a1.4 1.4 0 1 0 -2.80 0zM391.68 86.80a1.4 1.4 0 1 0 2.80 0a1.4 1.4 0 1 0 -2.80 0zM392.10 86.76a1.4 1.4 0 1 0 2.80 0a1.4 1.4 0 1 0 -2.80 0zM392.51 86.72a1.4 1.4 0 1 0 2.80 0a1.4 1.4 0 1 0 -2.80 0zM392.93 86.69a1.4 1.4 0 1 0 2.80 0a1.4 1.4 0 1 0 -2.80 0zM393.34 86.65a1.4 1.4 0 1 0 2.80 0a1.4 1.4 0 1 0 -2.80 0zM393.76 86.61a1.4 1.4 0 1 0 2.80 0a1.4 1.4 0 1 0 -2.80 0zM394.18 86.58a1.4 1.4 0 1 0 2.80 0a1.4 1.4 0 1 0 -2.80 0zM394.59 86.54a1.4 1.4 0 1 0 2.80 0a1.4 1.4 0 1 0 -2.80 0zM395.01 86.50a1.4 1.4 0 1 0 2.80 0a1.4 1.4 0 1 0 -2.80 0zM395.42 86.47a1.4 1.4 0 1 0 2.80 0a1.4 1.4 0 1 0 -2.80 0zM395.84 86.43a1.4 1.4 0 1 0 2.80 0a1.4 1.4 0 1 0 -2.80 0zM396.26 86.40a1.4 1.4 0 1 0 2.80 0a1.4 1.4 0 1 0 -2.80 0zM396.67 86.36a1.4 1.4 0 1 0 2.80 0a1.4 1.4 0 1 0 -2.80 0zM397.09 86.33a1.4 1.4 0 1 0 2.80 0a1.4 1.4 0 1 0 -2.80 0zM397.50 86.30a1.4 1.4 0 1 0 2.80 0a1.4 1.4 0 1 0 -2.80 0zM397.92 86.26a1.4 1.4 0 1 0 2.80 0a1.4 1.4 0 1 0 -2.80 0zM398.34 86.23a1.4 1.4 0 1 0 2.80 0a1.4 1.4 0 1 0 -2.80 0zM398.75 86.20a1.4 1.4 0 1 0 2.80 0a1.4 1.4 0 1 0 -2.80 0zM399.17 86.16a1.4 1.4 0 1 0 2.80 0a1.4 1.4 0 1 0 -2.80 0zM399.58 86.13a1.4 1.4 0 1 0 2.80 0a1.4 1.4 0 1 0 -2.80 0zM400.00 86.10a1.4 1.4 0 1 0 2.80 0a1.4 1.4 0 1 0 -2.80 0zM400.42 86.07a1.4 1.4 0 1 0 2.80 0a1.4 1.4 0 1 0 -2.80 0zM400.83 86.03a1.4 1.4 0 1 0 2.80 0a1.4 1.4 0 1 0 -2.80 0zM401.25 86.00a1.4 1.4 0 1 0 2.80 0a1.4 1.4 0 1 0 -2.80 0zM401.66 85.97a1.4 1.4 0 1 0 2.80 0a1.4 1.4 0 1 0 -2.80 0zM402.08 85.94a1.4 1.4 0 1 0 2.80 0a1.4 1.4 0 1 0 -2.80 0zM402.50 85.91a1.4 1.4 0 1 0 2.80 0a1.4 1.4 0 1 0 -2.80 0zM402.91 85.88a1.4 1.4 0 1 0 2.80 0a1.4 1.4 0 1 0 -2.80 0zM403.33 85.85a1.4 1.4 0 1 0 2.80 0a1.4 1.4 0 1 0 -2.80 0zM403.74 85.82a1.4 1.4 0 1 0 2.80 0a1.4 1.4 0 1 0 -2.80 0zM404.16 85.79a1.4 1.4 0 1 0 2.80 0a1.4 1.4 0 1 0 -2.80 0zM404.58 85.76a1.4 1.4 0 1 0 2.80 0a1.4 1.4 0 1 0 -2.80 0zM404.99 85.73a1.4 1.4 0 1 0 2.80 0a1.4 1.4 0 1 0 -2.80 0zM405.41 85.70a1.4 1.4 0 1 0 2.80 0a1.4 1.4 0 1 0 -2.80 0zM405.82 85.67a1.4 1.4 0 1 0 2.80 0a1.4 1.4 0 1 0 -2.80 0zM406.24 85.65a1.4 1.4 0 1 0 2.80 0a1.4 1.4 0 1 0 -2.80 0zM406.66 85.62a1.4 1.4 0 1 0 2.80 0a1.4 1.4 0 1 0 -2.80 0zM407.07 85.59a1.4 1.4 0 1 0 2.80 0a1.4 1.4 0 1 0 -2.80 0zM407.49 85.56a1.4 1.4 0 1 0 2.80 0a1.4 1.4 0 1 0 -2.80 0zM407.90 85.53a1.4 1.4 0 1 0 2.80 0a1.4 1.4 0 1 0 -2.80 0zM408.32 85.51a1.4 1.4 0 1 0 2.80 0a1.4 1.4 0 1 0 -2.80 0zM408.74 85.48a1.4 1.4 0 1 0 2.80 0a1.4 1.4 0 1 0 -2.80 0zM409.15 85.45a1.4 1.4 0 1 0 2.80 0a1.4 1.4 0 1 0 -2.80 0zM409.57 85.43a1.4 1.4 0 1 0 2.80 0a1.4 1.4 0 1 0 -2.80 0zM409.98 85.40a1.4 1.4 0 1 0 2.80 0a1.4 1.4 0 1 0 -2.80 0zM410.40 85.37a1.4 1.4 0 1 0 2.80 0a1.4 1.4 0 1 0 -2.80 0zM410.82 85.35a1.4 1.4 0 1 0 2.80 0a1.4 1.4 0 1 0 -2.80 0zM411.23 85.32a1.4 1.4 0 1 0 2.80 0a1.4 1.4 0 1 0 -2.80 0zM411.65 85.30a1.4 1.4 0 1 0 2.80 0a1.4 1.4 0 1 0 -2.80 0zM412.06 85.27a1.4 1.4 0 1 0 2.80 0a1.4 1.4 0 1 0 -2.80 0zM412.48 85.25a1.4 1.4 0 1 0 2.80 0a1.4 1.4 0 1 0 -2.80 0zM412.90 85.22a1.4 1.4 0 1 0 2.80 0a1.4 1.4 0 1 0 -2.80 0zM413.31 85.20a1.4 1.4 0 1 0 2.80 0a1.4 1.4 0 1 0 -2.80 0zM413.73 85.17a1.4 1.4 0 1 0 2.80 0a1.4 1.4 0 1 0 -2.80 0zM414.14 85.15a1.4 1.4 0 1 0 2.80 0a1.4 1.4 0 1 0 -2.80 0zM414.56 85.12a1.4 1.4 0 1 0 2.80 0a1.4 1.4 0 1 0 -2.80 0zM414.98 85.10a1.4 1.4 0 1 0 2.80 0a1.4 1.4 0 1 0 -2.80 0zM415.39 85.07a1.4 1.4 0 1 0 2.80 0a1.4 1.4 0 1 0 -2.80 0zM415.81 85.05a1.4 1.4 0 1 0 2.80 0a1.4 1.4 0 1 0 -2.80 0zM416.22 85.03a1.4 1.4 0 1 0 2.80 0a1.4 1.4 0 1 0 -2.80 0zM416.64 85.00a1.4 1.4 0 1 0 2.80 0a1.4 1.4 0 1 0 -2.80 0zM417.06 84.98a1.4 1.4 0 1 0 2.80 0a1.4 1.4 0 1 0 -2.80 0zM417.47 84.96a1.4 1.4 0 1 0 2.80 0a1.4 1.4 0 1 0 -2.80 0zM417.89 84.93a1.4 1.4 0 1 0 2.80 0a1.4 1.4 0 1 0 -2.80 0zM418.30 84.91a1.4 1.4 0 1 0 2.80 0a1.4 1.4 0 1 0 -2.80 0zM418.72 84.89a1.4 1.4 0 1 0 2.80 0a1.4 1.4 0 1 0 -2.80 0zM419.14 84.87a1.4 1.4 0 1 0 2.80 0a1.4 1.4 0 1 0 -2.80 0zM419.55 84.84a1.4 1.4 0 1 0 2.80 0a1.4 1.4 0 1 0 -2.80 0zM419.97 84.82a1.4 1.4 0 1 0 2.80 0a1.4 1.4 0 1 0 -2.80 0zM420.38 84.80a1.4 1.4 0 1 0 2.80 0a1.4 1.4 0 1 0 -2.80 0zM420.80 84.78a1.4 1.4 0 1 0 2.80 0a1.4 1.4 0 1 0 -2.80 0zM421.22 84.76a1.4 1.4 0 1 0 2.80 0a1.4 1.4 0 1 0 -2.80 0zM421.63 84.74a1.4 1.4 0 1 0 2.80 0a1.4 1.4 0 1 0 -2.80 0zM422.05 84.71a1.4 1.4 0 1 0 2.80 0a1.4 1.4 0 1 0 -2.80 0zM422.46 84.69a1.4 1.4 0 1 0 2.80 0a1.4 1.4 0 1 0 -2.80 0zM422.88 84.67a1.4 1.4 0 1 0 2.80 0a1.4 1.4 0 1 0 -2.80 0zM423.30 84.65a1.4 1.4 0 1 0 2.80 0a1.4 1.4 0 1 0 -2.80 0zM423.71 84.63a1.4 1.4 0 1 0 2.80 0a1.4 1.4 0 1 0 -2.80 0zM424.13 84.61a1.4 1.4 0 1 0 2.80 0a1.4 1.4 0 1 0 -2.80 0zM424.54 84.59a1.4 1.4 0 1 0 2.80 0a1.4 1.4 0 1 0 -2.80 0zM424.96 84.57a1.4 1.4 0 1 0 2.80 0a1.4 1.4 0 1 0 -2.80 0zM425.38 84.55a1.4 1.4 0 1 0 2.80 0a1.4 1.4 0 1 0 -2.80 0zM425.79 84.53a1.4 1.4 0 1 0 2.80 0a1.4 1.4 0 1 0 -2.80 0zM426.21 84.51a1.4 1.4 0 1 0 2.80 0a1.4 1.4 0 1 0 -2.80 0zM426.62 84.49a1.4 1.4 0 1 0 2.80 0a1.4 1.4 0 1 0 -2.80 0zM427.04 84.47a1.4 1.4 0 1 0 2.80 0a1.4 1.4 0 1 0 -2.80 0zM427.46 84.45a1.4 1.4 0 1 0 2.80 0a1.4 1.4 0 1 0 -2.80 0zM427.87 84.43a1.4 1.4 0 1 0 2.80 0a1.4 1.4 0 1 0 -2.80 0zM428.29 84.41a1.4 1.4 0 1 0 2.80 0a1.4 1.4 0 1 0 -2.80 0zM428.70 84.39a1.4 1.4 0 1 0 2.80 0a1.4 1.4 0 1 0 -2.80 0zM429.12 84.38a1.4 1.4 0 1 0 2.80 0a1.4 1.4 0 1 0 -2.80 0zM429.54 84.36a1.4 1.4 0 1 0 2.80 0a1.4 1.4 0 1 0 -2.80 0zM429.95 84.34a1.4 1.4 0 1 0 2.80 0a1.4 1.4 0 1 0 -2.80 0zM430.37 84.32a1.4 1.4 0 1 0 2.80 0a1.4 1.4 0 1 0 -2.80 0zM430.78 84.30a1.4 1.4 0 1 0 2.80 0a1.4 1.4 0 1 0 -2.80 0zM431.20 84.28a1.4 1.4 0 1 0 2.80 0a1.4 1.4 0 1 0 -2.80 0zM431.62 84.27a1.4 1.4 0 1 0 2.80 0a1.4 1.4 0 1 0 -2.80 0zM432.03 84.25a1.4 1.4 0 1 0 2.80 0a1.4 1.4 0 1 0 -2.80 0zM432.45 84.23a1.4 1.4 0 1 0 2.80 0a1.4 1.4 0 1 0 -2.80 0zM432.86 84.21a1.4 1.4 0 1 0 2.80 0a1.4 1.4 0 1 0 -2.80 0zM433.28 84.19a1.4 1.4 0 1 0 2.80 0a1.4 1.4 0 1 0 -2.80 0zM433.70 84.18a1.4 1.4 0 1 0 2.80 0a1.4 1.4 0 1 0 -2.80 0zM434.11 84.16a1.4 1.4 0 1 0 2.80 0a1.4 1.4 0 1 0 -2.80 0zM434.53 84.14a1.4 1.4 0 1 0 2.80 0a1.4 1.4 0 1 0 -2.80 0zM434.94 84.13a1.4 1.4 0 1 0 2.80 0a1.4 1.4 0 1 0 -2.80 0zM435.36 84.11a1.4 1.4 0 1 0 2.80 0a1.4 1.4 0 1 0 -2.80 0zM435.78 84.09a1.4 1.4 0 1 0 2.80 0a1.4 1.4 0 1 0 -2.80 0zM436.19 84.07a1.4 1.4 0 1 0 2.80 0a1.4 1.4 0 1 0 -2.80 0zM436.61 84.06a1.4 1.4 0 1 0 2.80 0a1.4 1.4 0 1 0 -2.80 0zM437.02 84.04a1.4 1.4 0 1 0 2.80 0a1.4 1.4 0 1 0 -2.80 0zM437.44 84.03a1.4 1.4 0 1 0 2.80 0a1.4 1.4 0 1 0 -2.80 0zM437.86 84.01a1.4 1.4 0 1 0 2.80 0a1.4 1.4 0 1 0 -2.80 0zM438.27 83.99a1.4 1.4 0 1 0 2.80 0a1.4 1.4 0 1 0 -2.80 0zM438.69 83.98a1.4 1.4 0 1 0 2.80 0a1.4 1.4 0 1 0 -2.80 0zM439.10 83.96a1.4 1.4 0 1 0 2.80 0a1.4 1.4 0 1 0 -2.80 0zM439.52 83.95a1.4 1.4 0 1 0 2.80 0a1.4 1.4 0 1 0 -2.80 0zM439.94 83.93a1.4 1.4 0 1 0 2.80 0a1.4 1.4 0 1 0 -2.80 0zM440.35 83.91a1.4 1.4 0 1 0 2.80 0a1.4 1.4 0 1 0 -2.80 0zM440.77 83.90a1.4 1.4 0 1 0 2.80 0a1.4 1.4 0 1 0 -2.80 0zM441.18 83.88a1.4 1.4 0 1 0 2.80 0a1.4 1.4 0 1 0 -2.80 0zM441.60 83.87a1.4 1.4 0 1 0 2.80 0a1.4 1.4 0 1 0 -2.80 0zM442.02 83.85a1.4 1.4 0 1 0 2.80 0a1.4 1.4 0 1 0 -2.80 0zM442.43 83.84a1.4 1.4 0 1 0 2.80 0a1.4 1.4 0 1 0 -2.80 0zM442.85 83.82a1.4 1.4 0 1 0 2.80 0a1.4 1.4 0 1 0 -2.80 0zM443.26 83.81a1.4 1.4 0 1 0 2.80 0a1.4 1.4 0 1 0 -2.80 0zM443.68 83.79a1.4 1.4 0 1 0 2.80 0a1.4 1.4 0 1 0 -2.80 0zM444.10 83.78a1.4 1.4 0 1 0 2.80 0a1.4 1.4 0 1 0 -2.80 0zM444.51 83.76a1.4 1.4 0 1 0 2.80 0a1.4 1.4 0 1 0 -2.80 0zM444.93 83.75a1.4 1.4 0 1 0 2.80 0a1.4 1.4 0 1 0 -2.80 0zM445.34 83.73a1.4 1.4 0 1 0 2.80 0a1.4 1.4 0 1 0 -2.80 0zM445.76 83.72a1.4 1.4 0 1 0 2.80 0a1.4 1.4 0 1 0 -2.80 0zM446.18 83.71a1.4 1.4 0 1 0 2.80 0a1.4 1.4 0 1 0 -2.80 0zM446.59 83.69a1.4 1.4 0 1 0 2.80 0a1.4 1.4 0 1 0 -2.80 0zM447.01 83.68a1.4 1.4 0 1 0 2.80 0a1.4 1.4 0 1 0 -2.80 0zM447.42 83.66a1.4 1.4 0 1 0 2.80 0a1.4 1.4 0 1 0 -2.80 0zM447.84 83.65a1.4 1.4 0 1 0 2.80 0a1.4 1.4 0 1 0 -2.80 0zM448.26 83.64a1.4 1.4 0 1 0 2.80 0a1.4 1.4 0 1 0 -2.80 0zM448.67 83.62a1.4 1.4 0 1 0 2.80 0a1.4 1.4 0 1 0 -2.80 0zM449.09 83.61a1.4 1.4 0 1 0 2.80 0a1.4 1.4 0 1 0 -2.80 0zM449.50 83.59a1.4 1.4 0 1 0 2.80 0a1.4 1.4 0 1 0 -2.80 0zM449.92 83.58a1.4 1.4 0 1 0 2.80 0a1.4 1.4 0 1 0 -2.80 0zM450.34 83.57a1.4 1.4 0 1 0 2.80 0a1.4 1.4 0 1 0 -2.80 0zM450.75 83.55a1.4 1.4 0 1 0 2.80 0a1.4 1.4 0 1 0 -2.80 0zM451.17 83.54a1.4 1.4 0 1 0 2.80 0a1.4 1.4 0 1 0 -2.80 0zM451.58 83.53a1.4 1.4 0 1 0 2.80 0a1.4 1.4 0 1 0 -2.80 0zM452.00 83.51a1.4 1.4 0 1 0 2.80 0a1.4 1.4 0 1 0 -2.80 0zM452.42 83.50a1.4 1.4 0 1 0 2.80 0a1.4 1.4 0 1 0 -2.80 0zM452.83 83.49a1.4 1.4 0 1 0 2.80 0a1.4 1.4 0 1 0 -2.80 0zM453.25 83.48a1.4 1.4 0 1 0 2.80 0a1.4 1.4 0 1 0 -2.80 0zM453.66 83.46a1.4 1.4 0 1 0 2.80 0a1.4 1.4 0 1 0 -2.80 0zM454.08 83.45a1.4 1.4 0 1 0 2.80 0a1.4 1.4 0 1 0 -2.80 0zM454.50 83.44a1.4 1.4 0 1 0 2.80 0a1.4 1.4 0 1 0 -2.80 0zM454.91 83.43a1.4 1.4 0 1 0 2.80 0a1.4 1.4 0 1 0 -2.80 0zM455.33 83.41a1.4 1.4 0 1 0 2.80 0a1.4 1.4 0 1 0 -2.80 0zM455.74 83.40a1.4 1.4 0 1 0 2.80 0a1.4 1.4 0 1 0 -2.80 0zM456.16 83.39a1.4 1.4 0 1 0 2.80 0a1.4 1.4 0 1 0 -2.80 0zM456.58 83.38a1.4 1.4 0 1 0 2.80 0a1.4 1.4 0 1 0 -2.80 0zM456.99 83.37a1.4 1.4 0 1 0 2.80 0a1.4 1.4 0 1 0 -2.80 0zM457.41 83.35a1.4 1.4 0 1 0 2.80 0a1.4 1.4 0 1 0 -2.80 0zM457.82 83.34a1.4 1.4 0 1 0 2.80 0a1.4 1.4 0 1 0 -2.80 0zM458.24 83.33a1.4 1.4 0 1 0 2.80 0a1.4 1.4 0 1 0 -2.80 0zM458.66 83.32a1.4 1.4 0 1 0 2.80 0a1.4 1.4 0 1 0 -2.80 0zM459.07 83.31a1.4 1.4 0 1 0 2.80 0a1.4 1.4 0 1 0 -2.80 0zM459.49 83.29a1.4 1.4 0 1 0 2.80 0a1.4 1.4 0 1 0 -2.80 0zM459.90 83.28a1.4 1.4 0 1 0 2.80 0a1.4 1.4 0 1 0 -2.80 0zM460.32 83.27a1.4 1.4 0 1 0 2.80 0a1.4 1.4 0 1 0 -2.80 0zM460.74 83.26a1.4 1.4 0 1 0 2.80 0a1.4 1.4 0 1 0 -2.80 0zM461.15 83.25a1.4 1.4 0 1 0 2.80 0a1.4 1.4 0 1 0 -2.80 0zM461.57 83.24a1.4 1.4 0 1 0 2.80 0a1.4 1.4 0 1 0 -2.80 0zM461.98 83.23a1.4 1.4 0 1 0 2.80 0a1.4 1.4 0 1 0 -2.80 0zM462.40 83.21a1.4 1.4 0 1 0 2.80 0a1.4 1.4 0 1 0 -2.80 0zM462.82 83.20a1.4 1.4 0 1 0 2.80 0a1.4 1.4 0 1 0 -2.80 0zM463.23 83.19a1.4 1.4 0 1 0 2.80 0a1.4 1.4 0 1 0 -2.80 0zM463.65 83.18a1.4 1.4 0 1 0 2.80 0a1.4 1.4 0 1 0 -2.80 0zM464.06 83.17a1.4 1.4 0 1 0 2.80 0a1.4 1.4 0 1 0 -2.80 0zM464.48 83.16a1.4 1.4 0 1 0 2.80 0a1.4 1.4 0 1 0 -2.80 0zM464.90 83.15a1.4 1.4 0 1 0 2.80 0a1.4 1.4 0 1 0 -2.80 0zM465.31 83.14a1.4 1.4 0 1 0 2.80 0a1.4 1.4 0 1 0 -2.80 0zM465.73 83.13a1.4 1.4 0 1 0 2.80 0a1.4 1.4 0 1 0 -2.80 0zM466.14 83.12a1.4 1.4 0 1 0 2.80 0a1.4 1.4 0 1 0 -2.80 0zM466.56 83.11a1.4 1.4 0 1 0 2.80 0a1.4 1.4 0 1 0 -2.80 0zM466.98 83.10a1.4 1.4 0 1 0 2.80 0a1.4 1.4 0 1 0 -2.80 0zM467.39 83.09a1.4 1.4 0 1 0 2.80 0a1.4 1.4 0 1 0 -2.80 0zM467.81 83.08a1.4 1.4 0 1 0 2.80 0a1.4 1.4 0 1 0 -2.80 0zM468.22 83.07a1.4 1.4 0 1 0 2.80 0a1.4 1.4 0 1 0 -2.80 0zM468.64 83.06a1.4 1.4 0 1 0 2.80 0a1.4 1.4 0 1 0 -2.80 0zM469.06 83.05a1.4 1.4 0 1 0 2.80 0a1.4 1.4 0 1 0 -2.80 0zM469.47 83.04a1.4 1.4 0 1 0 2.80 0a1.4 1.4 0 1 0 -2.80 0zM469.89 83.03a1.4 1.4 0 1 0 2.80 0a1.4 1.4 0 1 0 -2.80 0zM470.30 83.02a1.4 1.4 0 1 0 2.80 0a1.4 1.4 0 1 0 -2.80 0zM470.72 83.01a1.4 1.4 0 1 0 2.80 0a1.4 1.4 0 1 0 -2.80 0zM471.14 83.00a1.4 1.4 0 1 0 2.80 0a1.4 1.4 0 1 0 -2.80 0zM471.55 82.99a1.4 1.4 0 1 0 2.80 0a1.4 1.4 0 1 0 -2.80 0zM471.97 82.98a1.4 1.4 0 1 0 2.80 0a1.4 1.4 0 1 0 -2.80 0zM472.38 82.97a1.4 1.4 0 1 0 2.80 0a1.4 1.4 0 1 0 -2.80 0zM472.80 82.96a1.4 1.4 0 1 0 2.80 0a1.4 1.4 0 1 0 -2.80 0zM473.22 82.95a1.4 1.4 0 1 0 2.80 0a1.4 1.4 0 1 0 -2.80 0zM473.63 82.94a1.4 1.4 0 1 0 2.80 0a1.4 1.4 0 1 0 -2.80 0zM474.05 82.93a1.4 1.4 0 1 0 2.80 0a1.4 1.4 0 1 0 -2.80 0zM474.46 82.92a1.4 1.4 0 1 0 2.80 0a1.4 1.4 0 1 0 -2.80 0zM474.88 82.91a1.4 1.4 0 1 0 2.80 0a1.4 1.4 0 1 0 -2.80 0zM475.30 82.90a1.4 1.4 0 1 0 2.80 0a1.4 1.4 0 1 0 -2.80 0zM475.71 82.89a1.4 1.4 0 1 0 2.80 0a1.4 1.4 0 1 0 -2.80 0zM476.13 82.88a1.4 1.4 0 1 0 2.80 0a1.4 1.4 0 1 0 -2.80 0zM476.54 82.88a1.4 1.4 0 1 0 2.80 0a1.4 1.4 0 1 0 -2.80 0zM476.96 82.87a1.4 1.4 0 1 0 2.80 0a1.4 1.4 0 1 0 -2.80 0zM477.38 82.86a1.4 1.4 0 1 0 2.80 0a1.4 1.4 0 1 0 -2.80 0zM477.79 82.85a1.4 1.4 0 1 0 2.80 0a1.4 1.4 0 1 0 -2.80 0zM478.21 82.84a1.4 1.4 0 1 0 2.80 0a1.4 1.4 0 1 0 -2.80 0zM478.62 82.83a1.4 1.4 0 1 0 2.80 0a1.4 1.4 0 1 0 -2.80 0zM479.04 82.82a1.4 1.4 0 1 0 2.80 0a1.4 1.4 0 1 0 -2.80 0zM479.46 82.81a1.4 1.4 0 1 0 2.80 0a1.4 1.4 0 1 0 -2.80 0zM479.87 82.81a1.4 1.4 0 1 0 2.80 0a1.4 1.4 0 1 0 -2.80 0zM480.29 82.80a1.4 1.4 0 1 0 2.80 0a1.4 1.4 0 1 0 -2.80 0zM480.70 82.79a1.4 1.4 0 1 0 2.80 0a1.4 1.4 0 1 0 -2.80 0zM481.12 82.78a1.4 1.4 0 1 0 2.80 0a1.4 1.4 0 1 0 -2.80 0zM481.54 82.77a1.4 1.4 0 1 0 2.80 0a1.4 1.4 0 1 0 -2.80 0zM481.95 82.76a1.4 1.4 0 1 0 2.80 0a1.4 1.4 0 1 0 -2.80 0zM482.37 82.75a1.4 1.4 0 1 0 2.80 0a1.4 1.4 0 1 0 -2.80 0zM482.78 82.75a1.4 1.4 0 1 0 2.80 0a1.4 1.4 0 1 0 -2.80 0zM483.20 82.74a1.4 1.4 0 1 0 2.80 0a1.4 1.4 0 1 0 -2.80 0zM483.62 82.73a1.4 1.4 0 1 0 2.80 0a1.4 1.4 0 1 0 -2.80 0zM484.03 82.72a1.4 1.4 0 1 0 2.80 0a1.4 1.4 0 1 0 -2.80 0zM484.45 82.71a1.4 1.4 0 1 0 2.80 0a1.4 1.4 0 1 0 -2.80 0zM484.86 82.71a1.4 1.4 0 1 0 2.80 0a1.4 1.4 0 1 0 -2.80 0zM485.28 82.70a1.4 1.4 0 1 0 2.80 0a1.4 1.4 0 1 0 -2.80 0zM485.70 82.69a1.4 1.4 0 1 0 2.80 0a1.4 1.4 0 1 0 -2.80 0zM486.11 82.68a1.4 1.4 0 1 0 2.80 0a1.4 1.4 0 1 0 -2.80 0zM486.53 82.68a1.4 1.4 0 1 0 2.80 0a1.4 1.4 0 1 0 -2.80 0zM486.94 82.67a1.4 1.4 0 1 0 2.80 0a1.4 1.4 0 1 0 -2.80 0zM487.36 82.66a1.4 1.4 0 1 0 2.80 0a1.4 1.4 0 1 0 -2.80 0zM487.78 82.65a1.4 1.4 0 1 0 2.80 0a1.4 1.4 0 1 0 -2.80 0zM488.19 82.64a1.4 1.4 0 1 0 2.80 0a1.4 1.4 0 1 0 -2.80 0zM488.61 82.64a1.4 1.4 0 1 0 2.80 0a1.4 1.4 0 1 0 -2.80 0zM489.02 82.63a1.4 1.4 0 1 0 2.80 0a1.4 1.4 0 1 0 -2.80 0zM489.44 82.62a1.4 1.4 0 1 0 2.80 0a1.4 1.4 0 1 0 -2.80 0zM489.86 82.61a1.4 1.4 0 1 0 2.80 0a1.4 1.4 0 1 0 -2.80 0zM490.27 82.61a1.4 1.4 0 1 0 2.80 0a1.4 1.4 0 1 0 -2.80 0zM490.69 82.60a1.4 1.4 0 1 0 2.80 0a1.4 1.4 0 1 0 -2.80 0zM491.10 82.59a1.4 1.4 0 1 0 2.80 0a1.4 1.4 0 1 0 -2.80 0zM491.52 82.59a1.4 1.4 0 1 0 2.80 0a1.4 1.4 0 1 0 -2.80 0zM491.94 82.58a1.4 1.4 0 1 0 2.80 0a1.4 1.4 0 1 0 -2.80 0zM492.35 82.57a1.4 1.4 0 1 0 2.80 0a1.4 1.4 0 1 0 -2.80 0zM492.77 82.56a1.4 1.4 0 1 0 2.80 0a1.4 1.4 0 1 0 -2.80 0zM493.18 82.56a1.4 1.4 0 1 0 2.80 0a1.4 1.4 0 1 0 -2.80 0zM493.60 82.55a1.4 1.4 0 1 0 2.80 0a1.4 1.4 0 1 0 -2.80 0zM494.02 82.54a1.4 1.4 0 1 0 2.80 0a1.4 1.4 0 1 0 -2.80 0zM494.43 82.54a1.4 1.4 0 1 0 2.80 0a1.4 1.4 0 1 0 -2.80 0zM494.85 82.53a1.4 1.4 0 1 0 2.80 0a1.4 1.4 0 1 0 -2.80 0zM495.26 82.52a1.4 1.4 0 1 0 2.80 0a1.4 1.4 0 1 0 -2.80 0zM495.68 82.52a1.4 1.4 0 1 0 2.80 0a1.4 1.4 0 1 0 -2.80 0zM496.10 82.51a1.4 1.4 0 1 0 2.80 0a1.4 1.4 0 1 0 -2.80 0zM496.51 82.50a1.4 1.4 0 1 0 2.80 0a1.4 1.4 0 1 0 -2.80 0zM496.93 82.50a1.4 1.4 0 1 0 2.80 0a1.4 1.4 0 1 0 -2.80 0zM497.34 82.49a1.4 1.4 0 1 0 2.80 0a1.4 1.4 0 1 0 -2.80 0zM497.76 82.48a1.4 1.4 0 1 0 2.80 0a1.4 1.4 0 1 0 -2.80 0zM498.18 82.48a1.4 1.4 0 1 0 2.80 0a1.4 1.4 0 1 0 -2.80 0zM498.59 82.47a1.4 1.4 0 1 0 2.80 0a1.4 1.4 0 1 0 -2.80 0zM499.01 82.46a1.4 1.4 0 1 0 2.80 0a1.4 1.4 0 1 0 -2.80 0zM499.42 82.46a1.4 1.4 0 1 0 2.80 0a1.4 1.4 0 1 0 -2.80 0zM499.84 82.45a1.4 1.4 0 1 0 2.80 0a1.4 1.4 0 1 0 -2.80 0zM500.26 82.44a1.4 1.4 0 1 0 2.80 0a1.4 1.4 0 1 0 -2.80 0zM500.67 82.44a1.4 1.4 0 1 0 2.80 0a1.4 1.4 0 1 0 -2.80 0zM501.09 82.43a1.4 1.4 0 1 0 2.80 0a1.4 1.4 0 1 0 -2.80 0zM501.50 82.42a1.4 1.4 0 1 0 2.80 0a1.4 1.4 0 1 0 -2.80 0zM501.92 82.42a1.4 1.4 0 1 0 2.80 0a1.4 1.4 0 1 0 -2.80 0zM502.34 82.41a1.4 1.4 0 1 0 2.80 0a1.4 1.4 0 1 0 -2.80 0zM502.75 82.41a1.4 1.4 0 1 0 2.80 0a1.4 1.4 0 1 0 -2.80 0zM503.17 82.40a1.4 1.4 0 1 0 2.80 0a1.4 1.4 0 1 0 -2.80 0zM503.58 82.39a1.4 1.4 0 1 0 2.80 0a1.4 1.4 0 1 0 -2.80 0zM504.00 82.39a1.4 1.4 0 1 0 2.80 0a1.4 1.4 0 1 0 -2.80 0zM504.42 82.38a1.4 1.4 0 1 0 2.80 0a1.4 1.4 0 1 0 -2.80 0zM504.83 82.38a1.4 1.4 0 1 0 2.80 0a1.4 1.4 0 1 0 -2.80 0zM505.25 82.37a1.4 1.4 0 1 0 2.80 0a1.4 1.4 0 1 0 -2.80 0zM505.66 82.36a1.4 1.4 0 1 0 2.80 0a1.4 1.4 0 1 0 -2.80 0zM506.08 82.36a1.4 1.4 0 1 0 2.80 0a1.4 1.4 0 1 0 -2.80 0zM506.50 82.35a1.4 1.4 0 1 0 2.80 0a1.4 1.4 0 1 0 -2.80 0zM506.91 82.35a1.4 1.4 0 1 0 2.80 0a1.4 1.4 0 1 0 -2.80 0zM507.33 82.34a1.4 1.4 0 1 0 2.80 0a1.4 1.4 0 1 0 -2.80 0zM507.74 82.34a1.4 1.4 0 1 0 2.80 0a1.4 1.4 0 1 0 -2.80 0zM508.16 82.33a1.4 1.4 0 1 0 2.80 0a1.4 1.4 0 1 0 -2.80 0zM508.58 82.32a1.4 1.4 0 1 0 2.80 0a1.4 1.4 0 1 0 -2.80 0zM508.99 82.32a1.4 1.4 0 1 0 2.80 0a1.4 1.4 0 1 0 -2.80 0zM509.41 82.31a1.4 1.4 0 1 0 2.80 0a1.4 1.4 0 1 0 -2.80 0zM509.82 82.31a1.4 1.4 0 1 0 2.80 0a1.4 1.4 0 1 0 -2.80 0zM510.24 82.30a1.4 1.4 0 1 0 2.80 0a1.4 1.4 0 1 0 -2.80 0zM510.66 82.30a1.4 1.4 0 1 0 2.80 0a1.4 1.4 0 1 0 -2.80 0zM511.07 82.29a1.4 1.4 0 1 0 2.80 0a1.4 1.4 0 1 0 -2.80 0zM511.49 82.29a1.4 1.4 0 1 0 2.80 0a1.4 1.4 0 1 0 -2.80 0zM511.90 82.28a1.4 1.4 0 1 0 2.80 0a1.4 1.4 0 1 0 -2.80 0zM512.32 82.28a1.4 1.4 0 1 0 2.80 0a1.4 1.4 0 1 0 -2.80 0zM512.74 82.27a1.4 1.4 0 1 0 2.80 0a1.4 1.4 0 1 0 -2.80 0zM513.15 82.27a1.4 1.4 0 1 0 2.80 0a1.4 1.4 0 1 0 -2.80 0zM513.57 82.26a1.4 1.4 0 1 0 2.80 0a1.4 1.4 0 1 0 -2.80 0zM513.98 82.25a1.4 1.4 0 1 0 2.80 0a1.4 1.4 0 1 0 -2.80 0zM514.40 82.25a1.4 1.4 0 1 0 2.80 0a1.4 1.4 0 1 0 -2.80 0z" fill="none" stroke="#5290cf" stroke-width="1.0" stroke-opacity="1"/>
<path d="M327.62 130.75a1.4 1.4 0 1 0 2.80 0a1.4 1.4 0 1 0 -2.80 0zM328.03 127.18a1.4 1.4 0 1 0 2.80 0a1.4 1.4 0 1 0 -2.80 0zM328.45 124.53a1.4 1.4 0 1 0 2.80 0a1.4 1.4 0 1 0 -2.80 0zM328.86 122.44a1.4 1.4 0 1 0 2.80 0a1.4 1.4 0 1 0 -2.80 0zM329.28 120.72a1.4 1.4 0 1 0 2.80 0a1.4 1.4 0 1 0 -2.80 0zM329.70 119.26a1.4 1.4 0 1 0 2.80 0a1.4 1.4 0 1 0 -2.80 0zM330.11 117.99a1.4 1.4 0 1 0 2.80 0a1.4 1.4 0 1 0 -2.80 0zM330.53 116.87a1.4 1.4 0 1 0 2.80 0a1.4 1.4 0 1 0 -2.80 0zM330.94 115.86a1.4 1.4 0 1 0 2.80 0a1.4 1.4 0 1 0 -2.80 0zM331.36 114.95a1.4 1.4 0 1 0 2.80 0a1.4 1.4 0 1 0 -2.80 0zM331.78 114.12a1.4 1.4 0 1 0 2.80 0a1.4 1.4 0 1 0 -2.80 0zM332.19 113.35a1.4 1.4 0 1 0 2.80 0a1.4 1.4 0 1 0 -2.80 0zM332.61 112.64a1.4 1.4 0 1 0 2.80 0a1.4 1.4 0 1 0 -2.80 0zM333.02 111.98a1.4 1.4 0 1 0 2.80 0a1.4 1.4 0 1 0 -2.80 0zM333.44 111.37a1.4 1.4 0 1 0 2.80 0a1.4 1.4 0 1 0 -2.80 0zM333.86 110.79a1.4 1.4 0 1 0 2.80 0a1.4 1.4 0 1 0 -2.80 0zM334.27 110.24a1.4 1.4 0 1 0 2.80 0a1.4 1.4 0 1 0 -2.80 0zM334.69 109.73a1.4 1.4 0 1 0 2.80 0a1.4 1.4 0 1 0 -2.80 0zM335.10 109.24a1.4 1.4 0 1 0 2.80 0a1.4 1.4 0 1 0 -2.80 0zM335.52 108.78a1.4 1.4 0 1 0 2.80 0a1.4 1.4 0 1 0 -2.80 0zM335.94 108.34a1.4 1.4 0 1 0 2.80 0a1.4 1.4 0 1 0 -2.80 0zM336.35 107.92a1.4 1.4 0 1 0 2.80 0a1.4 1.4 0 1 0 -2.80 0zM336.77 107.52a1.4 1.4 0 1 0 2.80 0a1.4 1.4 0 1 0 -2.80 0zM337.18 107.13a1.4 1.4 0 1 0 2.80 0a1.4 1.4 0 1 0 -2.80 0zM337.60 106.76a1.4 1.4 0 1 0 2.80 0a1.4 1.4 0 1 0 -2.80 0zM338.02 106.41a1.4 1.4 0 1 0 2.80 0a1.4 1.4 0 1 0 -2.80 0zM338.43 106.07a1.4 1.4 0 1 0 2.80 0a1.4 1.4 0 1 0 -2.80 0zM338.85 105.74a1.4 1.4 0 1 0 2.80 0a1.4 1.4 0 1 0 -2.80 0zM339.26 105.43a1.4 1.4 0 1 0 2.80 0a1.4 1.4 0 1 0 -2.80 0zM339.68 105.12a1.4 1.4 0 1 0 2.80 0a1.4 1.4 0 1 0 -2.80 0zM340.10 104.83a1.4 1.4 0 1 0 2.80 0a1.4 1.4 0 1 0 -2.80 0zM340.51 104.54a1.4 1.4 0 1 0 2.80 0a1.4 1.4 0 1 0 -2.80 0zM340.93 104.26a1.4 1.4 0 1 0 2.80 0a1.4 1.4 0 1 0 -2.80 0zM341.34 104.00a1.4 1.4 0 1 0 2.80 0a1.4 1.4 0 1 0 -2.80 0zM341.76 103.74a1.4 1.4 0 1 0 2.80 0a1.4 1.4 0 1 0 -2.80 0zM342.18 103.48a1.4 1.4 0 1 0 2.80 0a1.4 1.4 0 1 0 -2.80 0zM342.59 103.24a1.4 1.4 0 1 0 2.80 0a1.4 1.4 0 1 0 -2.80 0zM343.01 103.00a1.4 1.4 0 1 0 2.80 0a1.4 1.4 0 1 0 -2.80 0zM343.42 102.77a1.4 1.4 0 1 0 2.80 0a1.4 1.4 0 1 0 -2.80 0zM343.84 102.55a1.4 1.4 0 1 0 2.80 0a1.4 1.4 0 1 0 -2.80 0zM344.26 102.33a1.4 1.4 0 1 0 2.80 0a1.4 1.4 0 1 0 -2.80 0zM344.67 102.11a1.4 1.4 0 1 0 2.80 0a1.4 1.4 0 1 0 -2.80 0zM345.09 101.90a1.4 1.4 0 1 0 2.80 0a1.4 1.4 0 1 0 -2.80 0zM345.50 101.70a1.4 1.4 0 1 0 2.80 0a1.4 1.4 0 1 0 -2.80 0zM345.92 101.50a1.4 1.4 0 1 0 2.80 0a1.4 1.4 0 1 0 -2.80 0zM346.34 101.31a1.4 1.4 0 1 0 2.80 0a1.4 1.4 0 1 0 -2.80 0zM346.75 101.12a1.4 1.4 0 1 0 2.80 0a1.4 1.4 0 1 0 -2.80 0zM347.17 100.94a1.4 1.4 0 1 0 2.80 0a1.4 1.4 0 1 0 -2.80 0zM347.58 100.76a1.4 1.4 0 1 0 2.80 0a1.4 1.4 0 1 0 -2.80 0zM348.00 100.58a1.4 1.4 0 1 0 2.80 0a1.4 1.4 0 1 0 -2.80 0zM348.42 100.41a1.4 1.4 0 1 0 2.80 0a1.4 1.4 0 1 0 -2.80 0zM348.83 100.24a1.4 1.4 0 1 0 2.80 0a1.4 1.4 0 1 0 -2.80 0zM349.25 100.07a1.4 1.4 0 1 0 2.80 0a1.4 1.4 0 1 0 -2.80 0zM349.66 99.91a1.4 1.4 0 1 0 2.80 0a1.4 1.4 0 1 0 -2.80 0zM350.08 99.75a1.4 1.4 0 1 0 2.80 0a1.4 1.4 0 1 0 -2.80 0zM350.50 99.59a1.4 1.4 0 1 0 2.80 0a1.4 1.4 0 1 0 -2.80 0zM350.91 99.44a1.4 1.4 0 1 0 2.80 0a1.4 1.4 0 1 0 -2.80 0zM351.33 99.29a1.4 1.4 0 1 0 2.80 0a1.4 1.4 0 1 0 -2.80 0zM351.74 99.15a1.4 1.4 0 1 0 2.80 0a1.4 1.4 0 1 0 -2.80 0zM352.16 99.00a1.4 1.4 0 1 0 2.80 0a1.4 1.4 0 1 0 -2.80 0zM352.58 98.86a1.4 1.4 0 1 0 2.80 0a1.4 1.4 0 1 0 -2.80 0zM352.99 98.72a1.4 1.4 0 1 0 2.80 0a1.4 1.4 0 1 0 -2.80 0zM353.41 98.58a1.4 1.4 0 1 0 2.80 0a1.4 1.4 0 1 0 -2.80 0zM353.82 98.45a1.4 1.4 0 1 0 2.80 0a1.4 1.4 0 1 0 -2.80 0zM354.24 98.32a1.4 1.4 0 1 0 2.80 0a1.4 1.4 0 1 0 -2.80 0zM354.66 98.19a1.4 1.4 0 1 0 2.80 0a1.4 1.4 0 1 0 -2.80 0zM355.07 98.06a1.4 1.4 0 1 0 2.80 0a1.4 1.4 0 1 0 -2.80 0zM355.49 97.94a1.4 1.4 0 1 0 2.80 0a1.4 1.4 0 1 0 -2.80 0zM355.90 97.81a1.4 1.4 0 1 0 2.80 0a1.4 1.4 0 1 0 -2.80 0zM356.32 97.69a1.4 1.4 0 1 0 2.80 0a1.4 1.4 0 1 0 -2.80 0zM356.74 97.57a1.4 1.4 0 1 0 2.80 0a1.4 1.4 0 1 0 -2.80 0zM357.15 97.45a1.4 1.4 0 1 0 2.80 0a1.4 1.4 0 1 0 -2.80 0zM357.57 97.34a1.4 1.4 0 1 0 2.80 0a1.4 1.4 0 1 0 -2.80 0zM357.98 97.22a1.4 1.4 0 1 0 2.80 0a1.4 1.4 0 1 0 -2.80 0zM358.40 97.11a1.4 1.4 0 1 0 2.80 0a1.4 1.4 0 1 0 -2.80 0zM358.82 97.00a1.4 1.4 0 1 0 2.80 0a1.4 1.4 0 1 0 -2.80 0zM359.23 96.89a1.4 1.4 0 1 0 2.80 0a1.4 1.4 0 1 0 -2.80 0zM359.65 96.79a1.4 1.4 0 1 0 2.80 0a1.4 1.4 0 1 0 -2.80 0zM360.06 96.68a1.4 1.4 0 1 0 2.80 0a1.4 1.4 0 1 0 -2.80 0zM360.48 96.58a1.4 1.4 0 1 0 2.80 0a1.4 1.4 0 1 0 -2.80 0zM360.90 96.47a1.4 1.4 0 1 0 2.80 0a1.4 1.4 0 1 0 -2.80 0zM361.31 96.37a1.4 1.4 0 1 0 2.80 0a1.4 1.4 0 1 0 -2.80 0zM361.73 96.27a1.4 1.4 0 1 0 2.80 0a1.4 1.4 0 1 0 -2.80 0zM362.14 96.18a1.4 1.4 0 1 0 2.80 0a1.4 1.4 0 1 0 -2.80 0zM362.56 96.08a1.4 1.4 0 1 0 2.80 0a1.4 1.4 0 1 0 -2.80 0zM362.98 95.98a1.4 1.4 0 1 0 2.80 0a1.4 1.4 0 1 0 -2.80 0zM363.39 95.89a1.4 1.4 0 1 0 2.80 0a1.4 1.4 0 1 0 -2.80 0zM363.81 95.80a1.4 1.4 0 1 0 2.80 0a1.4 1.4 0 1 0 -2.80 0zM364.22 95.70a1.4 1.4 0 1 0 2.80 0a1.4 1.4 0 1 0 -2.80 0zM364.64 95.61a1.4 1.4 0 1 0 2.80 0a1.4 1.4 0 1 0 -2.80 0zM365.06 95.52a1.4 1.4 0 1 0 2.80 0a1.4 1.4 0 1 0 -2.80 0zM365.47 95.44a1.4 1.4 0 1 0 2.80 0a1.4 1.4 0 1 0 -2.80 0zM365.89 95.35a1.4 1.4 0 1 0 2.80 0a1.4 1.4 0 1 0 -2.80 0zM366.30 95.26a1.4 1.4 0 1 0 2.80 0a1.4 1.4 0 1 0 -2.80 0zM366.72 95.18a1.4 1.4 0 1 0 2.80 0a1.4 1.4 0 1 0 -2.80 0zM367.14 95.09a1.4 1.4 0 1 0 2.80 0a1.4 1.4 0 1 0 -2.80 0zM367.55 95.01a1.4 1.4 0 1 0 2.80 0a1.4 1.4 0 1 0 -2.80 0zM367.97 94.93a1.4 1.4 0 1 0 2.80 0a1.4 1.4 0 1 0 -2.80 0zM368.38 94.85a1.4 1.4 0 1 0 2.80 0a1.4 1.4 0 1 0 -2.80 0zM368.80 94.77a1.4 1.4 0 1 0 2.80 0a1.4 1.4 0 1 0 -2.80 0zM369.22 94.69a1.4 1.4 0 1 0 2.80 0a1.4 1.4 0 1 0 -2.80 0zM369.63 94.61a1.4 1.4 0 1 0 2.80 0a1.4 1.4 0 1 0 -2.80 0zM370.05 94.53a1.4 1.4 0 1 0 2.80 0a1.4 1.4 0 1 0 -2.80 0zM370.46 94.46a1.4 1.4 0 1 0 2.80 0a1.4 1.4 0 1 0 -2.80 0zM370.88 94.38a1.4 1.4 0 1 0 2.80 0a1.4 1.4 0 1 0 -2.80 0zM371.30 94.31a1.4 1.4 0 1 0 2.80 0a1.4 1.4 0 1 0 -2.80 0zM371.71 94.23a1.4 1.4 0 1 0 2.80 0a1.4 1.4 0 1 0 -2.80 0zM372.13 94.16a1.4 1.4 0 1 0 2.80 0a1.4 1.4 0 1 0 -2.80 0zM372.54 94.09a1.4 1.4 0 1 0 2.80 0a1.4 1.4 0 1 0 -2.80 0zM372.96 94.02a1.4 1.4 0 1 0 2.80 0a1.4 1.4 0 1 0 -2.80 0zM373.38 93.94a1.4 1.4 0 1 0 2.80 0a1.4 1.4 0 1 0 -2.80 0zM373.79 93.87a1.4 1.4 0 1 0 2.80 0a1.4 1.4 0 1 0 -2.80 0zM374.21 93.81a1.4 1.4 0 1 0 2.80 0a1.4 1.4 0 1 0 -2.80 0zM374.62 93.74a1.4 1.4 0 1 0 2.80 0a1.4 1.4 0 1 0 -2.80 0zM375.04 93.67a1.4 1.4 0 1 0 2.80 0a1.4 1.4 0 1 0 -2.80 0zM375.46 93.60a1.4 1.4 0 1 0 2.80 0a1.4 1.4 0 1 0 -2.80 0zM375.87 93.54a1.4 1.4 0 1 0 2.80 0a1.4 1.4 0 1 0 -2.80 0zM376.29 93.47a1.4 1.4 0 1 0 2.80 0a1.4 1.4 0 1 0 -2.80 0zM376.70 93.41a1.4 1.4 0 1 0 2.80 0a1.4 1.4 0 1 0 -2.80 0zM377.12 93.34a1.4 1.4 0 1 0 2.80 0a1.4 1.4 0 1 0 -2.80 0zM377.54 93.28a1.4 1.4 0 1 0 2.80 0a1.4 1.4 0 1 0 -2.80 0zM377.95 93.22a1.4 1.4 0 1 0 2.80 0a1.4 1.4 0 1 0 -2.80 0zM378.37 93.15a1.4 1.4 0 1 0 2.80 0a1.4 1.4 0 1 0 -2.80 0zM378.78 93.09a1.4 1.4 0 1 0 2.80 0a1.4 1.4 0 1 0 -2.80 0zM379.20 93.03a1.4 1.4 0 1 0 2.80 0a1.4 1.4 0 1 0 -2.80 0zM379.62 92.97a1.4 1.4 0 1 0 2.80 0a1.4 1.4 0 1 0 -2.80 0zM380.03 92.91a1.4 1.4 0 1 0 2.80 0a1.4 1.4 0 1 0 -2.80 0zM380.45 92.85a1.4 1.4 0 1 0 2.80 0a1.4 1.4 0 1 0 -2.80 0zM380.86 92.79a1.4 1.4 0 1 0 2.80 0a1.4 1.4 0 1 0 -2.80 0zM381.28 92.73a1.4 1.4 0 1 0 2.80 0a1.4 1.4 0 1 0 -2.80 0zM381.70 92.68a1.4 1.4 0 1 0 2.80 0a1.4 1.4 0 1 0 -2.80 0zM382.11 92.62a1.4 1.4 0 1 0 2.80 0a1.4 1.4 0 1 0 -2.80 0zM382.53 92.56a1.4 1.4 0 1 0 2.80 0a1.4 1.4 0 1 0 -2.80 0zM382.94 92.51a1.4 1.4 0 1 0 2.80 0a1.4 1.4 0 1 0 -2.80 0zM383.36 92.45a1.4 1.4 0 1 0 2.80 0a1.4 1.4 0 1 0 -2.80 0zM383.78 92.39a1.4 1.4 0 1 0 2.80 0a1.4 1.4 0 1 0 -2.80 0zM384.19 92.34a1.4 1.4 0 1 0 2.80 0a1.4 1.4 0 1 0 -2.80 0zM384.61 92.29a1.4 1.4 0 1 0 2.80 0a1.4 1.4 0 1 0 -2.80 0zM385.02 92.23a1.4 1.4 0 1 0 2.80 0a1.4 1.4 0 1 0 -2.80 0zM385.44 92.18a1.4 1.4 0 1 0 2.80 0a1.4 1.4 0 1 0 -2.80 0zM385.86 92.13a1.4 1.4 0 1 0 2.80 0a1.4 1.4 0 1 0 -2.80 0zM386.27 92.07a1.4 1.4 0 1 0 2.80 0a1.4 1.4 0 1 0 -2.80 0zM386.69 92.02a1.4 1.4 0 1 0 2.80 0a1.4 1.4 0 1 0 -2.80 0zM387.10 91.97a1.4 1.4 0 1 0 2.80 0a1.4 1.4 0 1 0 -2.80 0zM387.52 91.92a1.4 1.4 0 1 0 2.80 0a1.4 1.4 0 1 0 -2.80 0zM387.94 91.87a1.4 1.4 0 1 0 2.80 0a1.4 1.4 0 1 0 -2.80 0zM388.35 91.82a1.4 1.4 0 1 0 2.80 0a1.4 1.4 0 1 0 -2.80 0zM388.77 91.77a1.4 1.4 0 1 0 2.80 0a1.4 1.4 0 1 0 -2.80 0zM389.18 91.72a1.4 1.4 0 1 0 2.80 0a1.4 1.4 0 1 0 -2.80 0zM389.60 91.67a1.4 1.4 0 1 0 2.80 0a1.4 1.4 0 1 0 -2.80 0zM390.02 91.62a1.4 1.4 0 1 0 2.80 0a1.4 1.4 0 1 0 -2.80 0zM390.43 91.58a1.4 1.4 0 1 0 2.80 0a1.4 1.4 0 1 0 -2.80 0zM390.85 91.53a1.4 1.4 0 1 0 2.80 0a1.4 1.4 0 1 0 -2.80 0zM391.26 91.48a1.4 1.4 0 1 0 2.80 0a1.4 1.4 0 1 0 -2.80 0zM391.68 91.43a1.4 1.4 0 1 0 2.80 0a1.4 1.4 0 1 0 -2.80 0zM392.10 91.39a1.4 1.4 0 1 0 2.80 0a1.4 1.4 0 1 0 -2.80 0zM392.51 91.34a1.4 1.4 0 1 0 2.80 0a1.4 1.4 0 1 0 -2.80 0zM392.93 91.30a1.4 1.4 0 1 0 2.80 0a1.4 1.4 0 1 0 -2.80 0zM393.34 91.25a1.4 1.4 0 1 0 2.80 0a1.4 1.4 0 1 0 -2.80 0zM393.76 91.21a1.4 1.4 0 1 0 2.80 0a1.4 1.4 0 1 0 -2.80 0zM394.18 91.16a1.4 1.4 0 1 0 2.80 0a1.4 1.4 0 1 0 -2.80 0zM394.59 91.12a1.4 1.4 0 1 0 2.80 0a1.4 1.4 0 1 0 -2.80 0zM395.01 91.07a1.4 1.4 0 1 0 2.80 0a1.4 1.4 0 1 0 -2.80 0zM395.42 91.03a1.4 1.4 0 1 0 2.80 0a1.4 1.4 0 1 0 -2.80 0zM395.84 90.99a1.4 1.4 0 1 0 2.80 0a1.4 1.4 0 1 0 -2.80 0zM396.26 90.94a1.4 1.4 0 1 0 2.80 0a1.4 1.4 0 1 0 -2.80 0zM396.67 90.90a1.4 1.4 0 1 0 2.80 0a1.4 1.4 0 1 0 -2.80 0zM397.09 90.86a1.4 1.4 0 1 0 2.80 0a1.4 1.4 0 1 0 -2.80 0zM397.50 90.82a1.4 1.4 0 1 0 2.80 0a1.4 1.4 0 1 0 -2.80 0zM397.92 90.78a1.4 1.4 0 1 0 2.80 0a1.4 1.4 0 1 0 -2.80 0zM398.34 90.73a1.4 1.4 0 1 0 2.80 0a1.4 1.4 0 1 0 -2.80 0zM398.75 90.69a1.4 1.4 0 1 0 2.80 0a1.4 1.4 0 1 0 -2.80 0zM399.17 90.65a1.4 1.4 0 1 0 2.80 0a1.4 1.4 0 1 0 -2.80 0zM399.58 90.61a1.4 1.4 0 1 0 2.80 0a1.4 1.4 0 1 0 -2.80 0zM400.00 90.57a1.4 1.4 0 1 0 2.80 0a1.4 1.4 0 1 0 -2.80 0zM400.42 90.53a1.4 1.4 0 1 0 2.80 0a1.4 1.4 0 1 0 -2.80 0zM400.83 90.49a1.4 1.4 0 1 0 2.80 0a1.4 1.4 0 1 0 -2.80 0zM401.25 90.45a1.4 1.4 0 1 0 2.80 0a1.4 1.4 0 1 0 -2.80 0zM401.66 90.42a1.4 1.4 0 1 0 2.80 0a1.4 1.4 0 1 0 -2.80 0zM402.08 90.38a1.4 1.4 0 1 0 2.80 0a1.4 1.4 0 1 0 -2.80 0zM402.50 90.34a1.4 1.4 0 1 0 2.80 0a1.4 1.4 0 1 0 -2.80 0zM402.91 90.30a1.4 1.4 0 1 0 2.80 0a1.4 1.4 0 1 0 -2.80 0zM403.33 90.26a1.4 1.4 0 1 0 2.80 0a1.4 1.4 0 1 0 -2.80 0zM403.74 90.23a1.4 1.4 0 1 0 2.80 0a1.4 1.4 0 1 0 -2.80 0zM404.16 90.19a1.4 1.4 0 1 0 2.80 0a1.4 1.4 0 1 0 -2.80 0zM404.58 90.15a1.4 1.4 0 1 0 2.80 0a1.4 1.4 0 1 0 -2.80 0zM404.99 90.11a1.4 1.4 0 1 0 2.80 0a1.4 1.4 0 1 0 -2.80 0zM405.41 90.08a1.4 1.4 0 1 0 2.80 0a1.4 1.4 0 1 0 -2.80 0zM405.82 90.04a1.4 1.4 0 1 0 2.80 0a1.4 1.4 0 1 0 -2.80 0zM406.24 90.01a1.4 1.4 0 1 0 2.80 0a1.4 1.4 0 1 0 -2.80 0zM406.66 89.97a1.4 1.4 0 1 0 2.80 0a1.4 1.4 0 1 0 -2.80 0zM407.07 89.93a1.4 1.4 0 1 0 2.80 0a1.4 1.4 0 1 0 -2.80 0zM407.49 89.90a1.4 1.4 0 1 0 2.80 0a1.4 1.4 0 1 0 -2.80 0zM407.90 89.86a1.4 1.4 0 1 0 2.80 0a1.4 1.4 0 1 0 -2.80 0zM408.32 89.83a1.4 1.4 0 1 0 2.80 0a1.4 1.4 0 1 0 -2.80 0zM408.74 89.80a1.4 1.4 0 1 0 2.80 0a1.4 1.4 0 1 0 -2.80 0zM409.15 89.76a1.4 1.4 0 1 0 2.80 0a1.4 1.4 0 1 0 -2.80 0zM409.57 89.73a1.4 1.4 0 1 0 2.80 0a1.4 1.4 0 1 0 -2.80 0zM409.98 89.69a1.4 1.4 0 1 0 2.80 0a1.4 1.4 0 1 0 -2.80 0zM410.40 89.66a1.4 1.4 0 1 0 2.80 0a1.4 1.4 0 1 0 -2.80 0zM410.82 89.63a1.4 1.4 0 1 0 2.80 0a1.4 1.4 0 1 0 -2.80 0zM411.23 89.59a1.4 1.4 0 1 0 2.80 0a1.4 1.4 0 1 0 -2.80 0zM411.65 89.56a1.4 1.4 0 1 0 2.80 0a1.4 1.4 0 1 0 -2.80 0zM412.06 89.53a1.4 1.4 0 1 0 2.80 0a1.4 1.4 0 1 0 -2.80 0zM412.48 89.49a1.4 1.4 0 1 0 2.80 0a1.4 1.4 0 1 0 -2.80 0zM412.90 89.46a1.4 1.4 0 1 0 2.80 0a1.4 1.4 0 1 0 -2.80 0zM413.31 89.43a1.4 1.4 0 1 0 2.80 0a1.4 1.4 0 1 0 -2.80 0zM413.73 89.40a1.4 1.4 0 1 0 2.80 0a1.4 1.4 0 1 0 -2.80 0zM414.14 89.37a1.4 1.4 0 1 0 2.80 0a1.4 1.4 0 1 0 -2.80 0zM414.56 89.33a1.4 1.4 0 1 0 2.80 0a1.4 1.4 0 1 0 -2.80 0z" fill="none" stroke="#f8c040" stroke-width="1.0" stroke-opacity="1"/>
<text transform="translate(325.30 155.90) scale(1 1.12)" text-anchor="end" font-size="6.4" fill="#3c3c3c" stroke="#3c3c3c" stroke-width="0.07">0.60</text>
<line x1="328.60" y1="135.99" x2="331.20" y2="135.99" stroke="#2a2a2a" stroke-width="1.05"/>
<text transform="translate(325.30 137.79) scale(1 1.12)" text-anchor="end" font-size="6.4" fill="#3c3c3c" stroke="#3c3c3c" stroke-width="0.07">0.65</text>
<line x1="328.60" y1="117.88" x2="331.20" y2="117.88" stroke="#2a2a2a" stroke-width="1.05"/>
<text transform="translate(325.30 119.67) scale(1 1.12)" text-anchor="end" font-size="6.4" fill="#3c3c3c" stroke="#3c3c3c" stroke-width="0.07">0.70</text>
<line x1="328.60" y1="99.76" x2="331.20" y2="99.76" stroke="#2a2a2a" stroke-width="1.05"/>
<text transform="translate(325.30 101.56) scale(1 1.12)" text-anchor="end" font-size="6.4" fill="#3c3c3c" stroke="#3c3c3c" stroke-width="0.07">0.75</text>
<line x1="328.60" y1="81.65" x2="331.20" y2="81.65" stroke="#2a2a2a" stroke-width="1.05"/>
<text transform="translate(325.30 83.45) scale(1 1.12)" text-anchor="end" font-size="6.4" fill="#3c3c3c" stroke="#3c3c3c" stroke-width="0.07">0.80</text>
<line x1="328.60" y1="63.54" x2="331.20" y2="63.54" stroke="#2a2a2a" stroke-width="1.05"/>
<text transform="translate(325.30 65.34) scale(1 1.12)" text-anchor="end" font-size="6.4" fill="#3c3c3c" stroke="#3c3c3c" stroke-width="0.07">0.85</text>
<line x1="328.60" y1="45.42" x2="331.20" y2="45.42" stroke="#2a2a2a" stroke-width="1.05"/>
<text transform="translate(325.30 47.22) scale(1 1.12)" text-anchor="end" font-size="6.4" fill="#3c3c3c" stroke="#3c3c3c" stroke-width="0.07">0.90</text>
<line x1="328.60" y1="27.31" x2="331.20" y2="27.31" stroke="#2a2a2a" stroke-width="1.05"/>
<text transform="translate(325.30 29.11) scale(1 1.12)" text-anchor="end" font-size="6.4" fill="#3c3c3c" stroke="#3c3c3c" stroke-width="0.07">0.95</text>
<text transform="translate(325.30 11.00) scale(1 1.12)" text-anchor="end" font-size="6.4" fill="#3c3c3c" stroke="#3c3c3c" stroke-width="0.07">1.00</text>
<line x1="328.60" y1="145.04" x2="330.20" y2="145.04" stroke="#2a2a2a" stroke-width="1.05"/>
<line x1="328.60" y1="126.93" x2="330.20" y2="126.93" stroke="#2a2a2a" stroke-width="1.05"/>
<line x1="328.60" y1="108.82" x2="330.20" y2="108.82" stroke="#2a2a2a" stroke-width="1.05"/>
<line x1="328.60" y1="90.71" x2="330.20" y2="90.71" stroke="#2a2a2a" stroke-width="1.05"/>
<line x1="328.60" y1="72.59" x2="330.20" y2="72.59" stroke="#2a2a2a" stroke-width="1.05"/>
<line x1="328.60" y1="54.48" x2="330.20" y2="54.48" stroke="#2a2a2a" stroke-width="1.05"/>
<line x1="328.60" y1="36.37" x2="330.20" y2="36.37" stroke="#2a2a2a" stroke-width="1.05"/>
<line x1="328.60" y1="18.26" x2="330.20" y2="18.26" stroke="#2a2a2a" stroke-width="1.05"/>
<text transform="translate(328.60 162.70) scale(1 1.12)" text-anchor="middle" font-size="6.4" fill="#3c3c3c" stroke="#3c3c3c" stroke-width="0.07">0</text>
<line x1="339.00" y1="154.10" x2="339.00" y2="152.50" stroke="#2a2a2a" stroke-width="1.05"/>
<line x1="349.40" y1="154.10" x2="349.40" y2="151.50" stroke="#2a2a2a" stroke-width="1.05"/>
<text transform="translate(349.40 162.70) scale(1 1.12)" text-anchor="middle" font-size="6.4" fill="#3c3c3c" stroke="#3c3c3c" stroke-width="0.07">50</text>
<line x1="359.80" y1="154.10" x2="359.80" y2="152.50" stroke="#2a2a2a" stroke-width="1.05"/>
<line x1="370.20" y1="154.10" x2="370.20" y2="151.50" stroke="#2a2a2a" stroke-width="1.05"/>
<text transform="translate(370.20 162.70) scale(1 1.12)" text-anchor="middle" font-size="6.4" fill="#3c3c3c" stroke="#3c3c3c" stroke-width="0.07">100</text>
<line x1="380.60" y1="154.10" x2="380.60" y2="152.50" stroke="#2a2a2a" stroke-width="1.05"/>
<line x1="391.00" y1="154.10" x2="391.00" y2="151.50" stroke="#2a2a2a" stroke-width="1.05"/>
<text transform="translate(391.00 162.70) scale(1 1.12)" text-anchor="middle" font-size="6.4" fill="#3c3c3c" stroke="#3c3c3c" stroke-width="0.07">150</text>
<line x1="401.40" y1="154.10" x2="401.40" y2="152.50" stroke="#2a2a2a" stroke-width="1.05"/>
<line x1="411.80" y1="154.10" x2="411.80" y2="151.50" stroke="#2a2a2a" stroke-width="1.05"/>
<text transform="translate(411.80 162.70) scale(1 1.12)" text-anchor="middle" font-size="6.4" fill="#3c3c3c" stroke="#3c3c3c" stroke-width="0.07">200</text>
<line x1="422.20" y1="154.10" x2="422.20" y2="152.50" stroke="#2a2a2a" stroke-width="1.05"/>
<line x1="432.60" y1="154.10" x2="432.60" y2="151.50" stroke="#2a2a2a" stroke-width="1.05"/>
<text transform="translate(432.60 162.70) scale(1 1.12)" text-anchor="middle" font-size="6.4" fill="#3c3c3c" stroke="#3c3c3c" stroke-width="0.07">250</text>
<line x1="443.00" y1="154.10" x2="443.00" y2="152.50" stroke="#2a2a2a" stroke-width="1.05"/>
<line x1="453.40" y1="154.10" x2="453.40" y2="151.50" stroke="#2a2a2a" stroke-width="1.05"/>
<text transform="translate(453.40 162.70) scale(1 1.12)" text-anchor="middle" font-size="6.4" fill="#3c3c3c" stroke="#3c3c3c" stroke-width="0.07">300</text>
<line x1="463.80" y1="154.10" x2="463.80" y2="152.50" stroke="#2a2a2a" stroke-width="1.05"/>
<line x1="474.20" y1="154.10" x2="474.20" y2="151.50" stroke="#2a2a2a" stroke-width="1.05"/>
<text transform="translate(474.20 162.70) scale(1 1.12)" text-anchor="middle" font-size="6.4" fill="#3c3c3c" stroke="#3c3c3c" stroke-width="0.07">350</text>
<line x1="484.60" y1="154.10" x2="484.60" y2="152.50" stroke="#2a2a2a" stroke-width="1.05"/>
<line x1="495.00" y1="154.10" x2="495.00" y2="151.50" stroke="#2a2a2a" stroke-width="1.05"/>
<text transform="translate(495.00 162.70) scale(1 1.12)" text-anchor="middle" font-size="6.4" fill="#3c3c3c" stroke="#3c3c3c" stroke-width="0.07">400</text>
<line x1="505.40" y1="154.10" x2="505.40" y2="152.50" stroke="#2a2a2a" stroke-width="1.05"/>
<line x1="515.80" y1="154.10" x2="515.80" y2="151.50" stroke="#2a2a2a" stroke-width="1.05"/>
<text transform="translate(515.80 162.70) scale(1 1.12)" text-anchor="middle" font-size="6.4" fill="#3c3c3c" stroke="#3c3c3c" stroke-width="0.07">450</text>
<line x1="526.20" y1="154.10" x2="526.20" y2="152.50" stroke="#2a2a2a" stroke-width="1.05"/>
<text transform="translate(536.60 162.70) scale(1 1.12)" text-anchor="middle" font-size="6.4" fill="#3c3c3c" stroke="#3c3c3c" stroke-width="0.07">500</text>
<path d="M328.60 9.20 H536.60 V154.10 H328.60 Z" fill="none" stroke="#737373" stroke-width="1.5"/>
<text transform="translate(310.00 81.65) rotate(-90)" text-anchor="middle" font-size="7.9" font-weight="bold" fill="#111" stroke="#111" stroke-width="0.25">Compactness ratio</text>
<text x="433.00" y="175.00" text-anchor="middle" font-size="8" font-weight="bold" fill="#111" stroke="#111" stroke-width="0.25">The number of compaction (times)</text>
<circle cx="507.3" cy="19.6" r="1.6" fill="none" stroke="#f07080" stroke-width="0.9"/>
<circle cx="507.3" cy="28.6" r="1.6" fill="none" stroke="#9abde0" stroke-width="0.9"/>
<circle cx="507.3" cy="37.1" r="1.6" fill="none" stroke="#f5dc80" stroke-width="0.9"/>
<text transform="translate(517 22.2) scale(1 1.08)" font-size="6.8" fill="#333" stroke="#333" stroke-width="0.06">C-1</text>
<text transform="translate(517 31.2) scale(1 1.08)" font-size="6.8" fill="#333" stroke="#333" stroke-width="0.06">C-2</text>
<text transform="translate(517 39.7) scale(1 1.08)" font-size="6.8" fill="#333" stroke="#333" stroke-width="0.06">C-3</text>
</g>
<text transform="translate(417.9 204.0) scale(1 1.06)" text-anchor="middle" font-size="15" fill="#000" style="font-family:'Liberation Serif',serif">(<tspan font-weight="bold">b</tspan>)</text>
<g>
<path d="M27.82 348.50h3.90l-1.95 -3.51zM29.48 342.79h3.90l-1.95 -3.51zM31.15 339.48h3.90l-1.95 -3.51zM32.82 337.15h3.90l-1.95 -3.51zM34.48 335.34h3.90l-1.95 -3.51zM36.15 333.87h3.90l-1.95 -3.51zM37.81 332.63h3.90l-1.95 -3.51zM39.48 331.56h3.90l-1.95 -3.51zM41.15 330.62h3.90l-1.95 -3.51zM42.81 329.78h3.90l-1.95 -3.51zM44.48 329.01h3.90l-1.95 -3.51zM46.15 328.32h3.90l-1.95 -3.51zM47.81 327.68h3.90l-1.95 -3.51zM49.48 327.09h3.90l-1.95 -3.51zM51.15 326.55h3.90l-1.95 -3.51zM52.81 326.03h3.90l-1.95 -3.51zM54.48 325.55h3.90l-1.95 -3.51zM56.15 325.10h3.90l-1.95 -3.51zM57.81 324.67h3.90l-1.95 -3.51zM59.48 324.27h3.90l-1.95 -3.51zM61.14 323.88h3.90l-1.95 -3.51zM62.81 323.51h3.90l-1.95 -3.51zM64.48 323.16h3.90l-1.95 -3.51zM66.14 322.83h3.90l-1.95 -3.51zM67.81 322.51h3.90l-1.95 -3.51zM69.48 322.20h3.90l-1.95 -3.51zM71.14 321.90h3.90l-1.95 -3.51zM72.81 321.61h3.90l-1.95 -3.51zM74.48 321.34h3.90l-1.95 -3.51zM76.14 321.07h3.90l-1.95 -3.51zM77.81 320.81h3.90l-1.95 -3.51zM79.47 320.57h3.90l-1.95 -3.51zM81.14 320.32h3.90l-1.95 -3.51zM82.81 320.09h3.90l-1.95 -3.51zM84.47 319.86h3.90l-1.95 -3.51zM86.14 319.64h3.90l-1.95 -3.51zM87.81 319.43h3.90l-1.95 -3.51zM89.47 319.22h3.90l-1.95 -3.51zM91.14 319.02h3.90l-1.95 -3.51zM92.81 318.82h3.90l-1.95 -3.51zM94.47 318.62h3.90l-1.95 -3.51zM96.14 318.44h3.90l-1.95 -3.51zM97.81 318.25h3.90l-1.95 -3.51zM99.47 318.07h3.90l-1.95 -3.51zM101.14 317.90h3.90l-1.95 -3.51zM102.80 317.73h3.90l-1.95 -3.51zM104.47 317.56h3.90l-1.95 -3.51zM106.14 317.39h3.90l-1.95 -3.51zM107.80 317.23h3.90l-1.95 -3.51zM109.47 317.08h3.90l-1.95 -3.51zM111.14 316.92h3.90l-1.95 -3.51zM112.80 316.77h3.90l-1.95 -3.51zM114.47 316.62h3.90l-1.95 -3.51zM116.14 316.48h3.90l-1.95 -3.51zM117.80 316.33h3.90l-1.95 -3.51zM119.47 316.19h3.90l-1.95 -3.51zM121.13 316.06h3.90l-1.95 -3.51zM122.80 315.92h3.90l-1.95 -3.51zM124.47 315.79h3.90l-1.95 -3.51zM126.13 315.66h3.90l-1.95 -3.51zM127.80 315.53h3.90l-1.95 -3.51zM129.47 315.40h3.90l-1.95 -3.51zM131.13 315.28h3.90l-1.95 -3.51zM132.80 315.16h3.90l-1.95 -3.51zM134.47 315.04h3.90l-1.95 -3.51zM136.13 314.92h3.90l-1.95 -3.51zM137.80 314.80h3.90l-1.95 -3.51zM139.47 314.69h3.90l-1.95 -3.51zM141.13 314.57h3.90l-1.95 -3.51zM142.80 314.46h3.90l-1.95 -3.51zM144.46 314.35h3.90l-1.95 -3.51zM146.13 314.24h3.90l-1.95 -3.51zM147.80 314.14h3.90l-1.95 -3.51zM149.46 314.03h3.90l-1.95 -3.51zM151.13 313.93h3.90l-1.95 -3.51zM152.80 313.82h3.90l-1.95 -3.51zM154.46 313.72h3.90l-1.95 -3.51zM156.13 313.62h3.90l-1.95 -3.51zM157.80 313.52h3.90l-1.95 -3.51zM159.46 313.43h3.90l-1.95 -3.51zM161.13 313.33h3.90l-1.95 -3.51zM162.79 313.24h3.90l-1.95 -3.51zM164.46 313.14h3.90l-1.95 -3.51zM166.13 313.05h3.90l-1.95 -3.51zM167.79 312.96h3.90l-1.95 -3.51zM169.46 312.87h3.90l-1.95 -3.51zM171.13 312.78h3.90l-1.95 -3.51zM172.79 312.69h3.90l-1.95 -3.51zM174.46 312.60h3.90l-1.95 -3.51zM176.13 312.52h3.90l-1.95 -3.51zM177.79 312.43h3.90l-1.95 -3.51zM179.46 312.35h3.90l-1.95 -3.51zM181.13 312.26h3.90l-1.95 -3.51zM182.79 312.18h3.90l-1.95 -3.51zM184.46 312.10h3.90l-1.95 -3.51zM186.12 312.02h3.90l-1.95 -3.51zM187.79 311.94h3.90l-1.95 -3.51zM189.46 311.86h3.90l-1.95 -3.51zM191.12 311.78h3.90l-1.95 -3.51zM192.79 311.70h3.90l-1.95 -3.51zM194.46 311.63h3.90l-1.95 -3.51zM196.12 311.55h3.90l-1.95 -3.51zM197.79 311.48h3.90l-1.95 -3.51zM199.46 311.40h3.90l-1.95 -3.51z" fill="#62dab5" fill-opacity="1"/>
<path d="M27.82 356.55h3.90l-1.95 -3.51zM29.48 352.53h3.90l-1.95 -3.51zM31.15 349.51h3.90l-1.95 -3.51zM32.82 347.13h3.90l-1.95 -3.51zM34.48 345.17h3.90l-1.95 -3.51zM36.15 343.50h3.90l-1.95 -3.51zM37.81 342.06h3.90l-1.95 -3.51zM39.48 340.79h3.90l-1.95 -3.51zM41.15 339.65h3.90l-1.95 -3.51zM42.81 338.62h3.90l-1.95 -3.51zM44.48 337.69h3.90l-1.95 -3.51zM46.15 336.83h3.90l-1.95 -3.51zM47.81 336.03h3.90l-1.95 -3.51zM49.48 335.30h3.90l-1.95 -3.51zM51.15 334.61h3.90l-1.95 -3.51zM52.81 333.97h3.90l-1.95 -3.51zM54.48 333.36h3.90l-1.95 -3.51zM56.15 332.79h3.90l-1.95 -3.51zM57.81 332.26h3.90l-1.95 -3.51zM59.48 331.75h3.90l-1.95 -3.51zM61.14 331.26h3.90l-1.95 -3.51zM62.81 330.80h3.90l-1.95 -3.51zM64.48 330.36h3.90l-1.95 -3.51zM66.14 329.94h3.90l-1.95 -3.51zM67.81 329.54h3.90l-1.95 -3.51zM69.48 329.15h3.90l-1.95 -3.51zM71.14 328.78h3.90l-1.95 -3.51zM72.81 328.42h3.90l-1.95 -3.51zM74.48 328.08h3.90l-1.95 -3.51zM76.14 327.75h3.90l-1.95 -3.51zM77.81 327.43h3.90l-1.95 -3.51zM79.47 327.12h3.90l-1.95 -3.51zM81.14 326.83h3.90l-1.95 -3.51zM82.81 326.54h3.90l-1.95 -3.51zM84.47 326.26h3.90l-1.95 -3.51zM86.14 325.99h3.90l-1.95 -3.51zM87.81 325.73h3.90l-1.95 -3.51zM89.47 325.48h3.90l-1.95 -3.51zM91.14 325.23h3.90l-1.95 -3.51zM92.81 324.99h3.90l-1.95 -3.51zM94.47 324.76h3.90l-1.95 -3.51zM96.14 324.53h3.90l-1.95 -3.51zM97.81 324.31h3.90l-1.95 -3.51zM99.47 324.10h3.90l-1.95 -3.51zM101.14 323.89h3.90l-1.95 -3.51zM102.80 323.69h3.90l-1.95 -3.51zM104.47 323.49h3.90l-1.95 -3.51zM106.14 323.29h3.90l-1.95 -3.51zM107.80 323.10h3.90l-1.95 -3.51zM109.47 322.92h3.90l-1.95 -3.51zM111.14 322.74h3.90l-1.95 -3.51zM112.80 322.56h3.90l-1.95 -3.51zM114.47 322.39h3.90l-1.95 -3.51z" fill="#f8985c" fill-opacity="1"/>
<path d="M27.82 351.43h3.90l-1.95 -3.51zM29.48 346.15h3.90l-1.95 -3.51zM31.15 343.00h3.90l-1.95 -3.51zM32.82 340.75h3.90l-1.95 -3.51zM34.48 338.99h3.90l-1.95 -3.51zM36.15 337.54h3.90l-1.95 -3.51zM37.81 336.31h3.90l-1.95 -3.51zM39.48 335.24h3.90l-1.95 -3.51zM41.15 334.29h3.90l-1.95 -3.51zM42.81 333.44h3.90l-1.95 -3.51zM44.48 332.67h3.90l-1.95 -3.51zM46.15 331.97h3.90l-1.95 -3.51zM47.81 331.32h3.90l-1.95 -3.51zM49.48 330.71h3.90l-1.95 -3.51zM51.15 330.15h3.90l-1.95 -3.51zM52.81 329.62h3.90l-1.95 -3.51zM54.48 329.13h3.90l-1.95 -3.51zM56.15 328.66h3.90l-1.95 -3.51zM57.81 328.21h3.90l-1.95 -3.51zM59.48 327.79h3.90l-1.95 -3.51zM61.14 327.39h3.90l-1.95 -3.51zM62.81 327.00h3.90l-1.95 -3.51zM64.48 326.64h3.90l-1.95 -3.51zM66.14 326.28h3.90l-1.95 -3.51zM67.81 325.95h3.90l-1.95 -3.51zM69.48 325.62h3.90l-1.95 -3.51zM71.14 325.31h3.90l-1.95 -3.51zM72.81 325.00h3.90l-1.95 -3.51zM74.48 324.71h3.90l-1.95 -3.51zM76.14 324.43h3.90l-1.95 -3.51zM77.81 324.16h3.90l-1.95 -3.51zM79.47 323.89h3.90l-1.95 -3.51zM81.14 323.63h3.90l-1.95 -3.51zM82.81 323.39h3.90l-1.95 -3.51zM84.47 323.14h3.90l-1.95 -3.51zM86.14 322.91h3.90l-1.95 -3.51zM87.81 322.68h3.90l-1.95 -3.51zM89.47 322.45h3.90l-1.95 -3.51zM91.14 322.24h3.90l-1.95 -3.51zM92.81 322.02h3.90l-1.95 -3.51zM94.47 321.82h3.90l-1.95 -3.51zM96.14 321.61h3.90l-1.95 -3.51zM97.81 321.42h3.90l-1.95 -3.51zM99.47 321.22h3.90l-1.95 -3.51zM101.14 321.03h3.90l-1.95 -3.51zM102.80 320.85h3.90l-1.95 -3.51zM104.47 320.67h3.90l-1.95 -3.51zM106.14 320.49h3.90l-1.95 -3.51zM107.80 320.31h3.90l-1.95 -3.51zM109.47 320.14h3.90l-1.95 -3.51zM111.14 319.98h3.90l-1.95 -3.51zM112.80 319.81h3.90l-1.95 -3.51zM114.47 319.65h3.90l-1.95 -3.51zM116.14 319.49h3.90l-1.95 -3.51zM117.80 319.34h3.90l-1.95 -3.51zM119.47 319.19h3.90l-1.95 -3.51zM121.13 319.04h3.90l-1.95 -3.51zM122.80 318.89h3.90l-1.95 -3.51zM124.47 318.74h3.90l-1.95 -3.51zM126.13 318.60h3.90l-1.95 -3.51z" fill="#a9a6da" fill-opacity="1"/>
<text transform="translate(24.80 388.70) scale(1 1.12)" text-anchor="end" font-size="6.4" fill="#3c3c3c" stroke="#3c3c3c" stroke-width="0.07">0.60</text>
<line x1="28.10" y1="367.70" x2="30.70" y2="367.70" stroke="#2a2a2a" stroke-width="1.05"/>
<text transform="translate(24.80 369.50) scale(1 1.12)" text-anchor="end" font-size="6.4" fill="#3c3c3c" stroke="#3c3c3c" stroke-width="0.07">0.65</text>
<line x1="28.10" y1="348.50" x2="30.70" y2="348.50" stroke="#2a2a2a" stroke-width="1.05"/>
<text transform="translate(24.80 350.30) scale(1 1.12)" text-anchor="end" font-size="6.4" fill="#3c3c3c" stroke="#3c3c3c" stroke-width="0.07">0.70</text>
<line x1="28.10" y1="329.30" x2="30.70" y2="329.30" stroke="#2a2a2a" stroke-width="1.05"/>
<text transform="translate(24.80 331.10) scale(1 1.12)" text-anchor="end" font-size="6.4" fill="#3c3c3c" stroke="#3c3c3c" stroke-width="0.07">0.75</text>
<line x1="28.10" y1="310.10" x2="30.70" y2="310.10" stroke="#2a2a2a" stroke-width="1.05"/>
<text transform="translate(24.80 311.90) scale(1 1.12)" text-anchor="end" font-size="6.4" fill="#3c3c3c" stroke="#3c3c3c" stroke-width="0.07">0.80</text>
<line x1="28.10" y1="290.90" x2="30.70" y2="290.90" stroke="#2a2a2a" stroke-width="1.05"/>
<text transform="translate(24.80 292.70) scale(1 1.12)" text-anchor="end" font-size="6.4" fill="#3c3c3c" stroke="#3c3c3c" stroke-width="0.07">0.85</text>
<line x1="28.10" y1="271.70" x2="30.70" y2="271.70" stroke="#2a2a2a" stroke-width="1.05"/>
<text transform="translate(24.80 273.50) scale(1 1.12)" text-anchor="end" font-size="6.4" fill="#3c3c3c" stroke="#3c3c3c" stroke-width="0.07">0.90</text>
<line x1="28.10" y1="252.50" x2="30.70" y2="252.50" stroke="#2a2a2a" stroke-width="1.05"/>
<text transform="translate(24.80 254.30) scale(1 1.12)" text-anchor="end" font-size="6.4" fill="#3c3c3c" stroke="#3c3c3c" stroke-width="0.07">0.95</text>
<text transform="translate(24.80 235.10) scale(1 1.12)" text-anchor="end" font-size="6.4" fill="#3c3c3c" stroke="#3c3c3c" stroke-width="0.07">1.00</text>
<line x1="28.10" y1="377.30" x2="29.70" y2="377.30" stroke="#2a2a2a" stroke-width="1.05"/>
<line x1="28.10" y1="358.10" x2="29.70" y2="358.10" stroke="#2a2a2a" stroke-width="1.05"/>
<line x1="28.10" y1="338.90" x2="29.70" y2="338.90" stroke="#2a2a2a" stroke-width="1.05"/>
<line x1="28.10" y1="319.70" x2="29.70" y2="319.70" stroke="#2a2a2a" stroke-width="1.05"/>
<line x1="28.10" y1="300.50" x2="29.70" y2="300.50" stroke="#2a2a2a" stroke-width="1.05"/>
<line x1="28.10" y1="281.30" x2="29.70" y2="281.30" stroke="#2a2a2a" stroke-width="1.05"/>
<line x1="28.10" y1="262.10" x2="29.70" y2="262.10" stroke="#2a2a2a" stroke-width="1.05"/>
<line x1="28.10" y1="242.90" x2="29.70" y2="242.90" stroke="#2a2a2a" stroke-width="1.05"/>
<text transform="translate(28.10 395.50) scale(1 1.12)" text-anchor="middle" font-size="6.4" fill="#3c3c3c" stroke="#3c3c3c" stroke-width="0.07">0</text>
<line x1="48.93" y1="386.90" x2="48.93" y2="385.30" stroke="#2a2a2a" stroke-width="1.05"/>
<line x1="69.76" y1="386.90" x2="69.76" y2="384.30" stroke="#2a2a2a" stroke-width="1.05"/>
<text transform="translate(69.76 395.50) scale(1 1.12)" text-anchor="middle" font-size="6.4" fill="#3c3c3c" stroke="#3c3c3c" stroke-width="0.07">25</text>
<line x1="90.59" y1="386.90" x2="90.59" y2="385.30" stroke="#2a2a2a" stroke-width="1.05"/>
<line x1="111.42" y1="386.90" x2="111.42" y2="384.30" stroke="#2a2a2a" stroke-width="1.05"/>
<text transform="translate(111.42 395.50) scale(1 1.12)" text-anchor="middle" font-size="6.4" fill="#3c3c3c" stroke="#3c3c3c" stroke-width="0.07">50</text>
<line x1="132.25" y1="386.90" x2="132.25" y2="385.30" stroke="#2a2a2a" stroke-width="1.05"/>
<line x1="153.08" y1="386.90" x2="153.08" y2="384.30" stroke="#2a2a2a" stroke-width="1.05"/>
<text transform="translate(153.08 395.50) scale(1 1.12)" text-anchor="middle" font-size="6.4" fill="#3c3c3c" stroke="#3c3c3c" stroke-width="0.07">75</text>
<line x1="173.91" y1="386.90" x2="173.91" y2="385.30" stroke="#2a2a2a" stroke-width="1.05"/>
<line x1="194.74" y1="386.90" x2="194.74" y2="384.30" stroke="#2a2a2a" stroke-width="1.05"/>
<text transform="translate(194.74 395.50) scale(1 1.12)" text-anchor="middle" font-size="6.4" fill="#3c3c3c" stroke="#3c3c3c" stroke-width="0.07">100</text>
<line x1="215.57" y1="386.90" x2="215.57" y2="385.30" stroke="#2a2a2a" stroke-width="1.05"/>
<text transform="translate(236.40 395.50) scale(1 1.12)" text-anchor="middle" font-size="6.4" fill="#3c3c3c" stroke="#3c3c3c" stroke-width="0.07">125</text>
<path d="M28.10 233.30 H236.40 V386.90 H28.10 Z" fill="none" stroke="#737373" stroke-width="1.5"/>
<text transform="translate(9.80 309.85) rotate(-90)" text-anchor="middle" font-size="8.35" font-weight="bold" fill="#111" stroke="#111" stroke-width="0.25">Compactness ratio</text>
<text x="132.00" y="408.80" text-anchor="middle" font-size="8" font-weight="bold" fill="#111" stroke="#111" stroke-width="0.25">The number of compaction (times)</text>
<path d="M205.40 245.54 L207.40 242.06 L209.40 245.54 Z" fill="#5dd9b0"/>
<path d="M205.40 254.64 L207.40 251.16 L209.40 254.64 Z" fill="#f8905a"/>
<path d="M205.40 263.34 L207.40 259.86 L209.40 263.34 Z" fill="#a9a8d8"/>
<text transform="translate(217.2 246.9) scale(1 1.08)" font-size="7" fill="#333" stroke="#333" stroke-width="0.06">X-1</text>
<text transform="translate(217.2 256.0) scale(1 1.08)" font-size="7" fill="#333" stroke="#333" stroke-width="0.06">X-2</text>
<text transform="translate(217.2 264.7) scale(1 1.08)" font-size="7" fill="#333" stroke="#333" stroke-width="0.06">X-3</text>
</g>
<text transform="translate(117.5 438.6) scale(1 1.06)" text-anchor="middle" font-size="15" fill="#000" style="font-family:'Liberation Serif',serif">(<tspan font-weight="bold">c</tspan>)</text>
<g>
<path d="M325.37 357.57 L325.64 355.73 L325.91 354.27 L326.18 353.07 L326.45 352.04 L326.73 351.14 L327.00 350.34 L327.27 349.62 L327.54 348.97 L327.81 348.37 L328.08 347.82 L328.36 347.31 L328.63 346.83 L328.90 346.38 L329.17 345.96 L329.44 345.56 L329.71 345.18 L329.98 344.82 L330.26 344.48 L330.53 344.15 L330.80 343.84 L331.07 343.54 L331.34 343.25 L331.61 342.97 L331.88 342.71 L332.97 341.73 L334.06 340.86 L335.14 340.09 L336.23 339.38 L337.31 338.74 L338.40 338.15 L339.49 337.61 L340.57 337.10 L341.66 336.62 L342.74 336.17 L343.83 335.75 L344.92 335.35 L346.00 334.97 L347.09 334.61 L348.17 334.26 L349.26 333.93 L350.35 333.61 L351.43 333.31 L352.52 333.02 L353.60 332.74 L354.69 332.47 L355.78 332.20 L356.86 331.95 L357.95 331.71 L359.03 331.47 L360.12 331.24 L361.21 331.01 L362.29 330.80 L363.38 330.59 L364.46 330.38 L365.55 330.18 L366.64 329.99 L367.72 329.80 L368.81 329.61 L369.89 329.43 L370.98 329.25 L372.07 329.08 L373.15 328.91 L374.24 328.74 L375.32 328.58 L376.41 328.42 L377.50 328.27 L378.58 328.12 L379.67 327.97 L380.75 327.82 L381.84 327.67 L382.93 327.53 L384.01 327.39 L385.10 327.26 L386.18 327.12 L387.27 326.99 L388.36 326.86 L389.44 326.74 L390.53 326.61 L391.61 326.49 L392.70 326.37 L393.79 326.25 L394.87 326.13 L395.96 326.01 L397.04 325.90 L398.13 325.79 L399.22 325.67 L400.30 325.56 L401.39 325.46 L402.47 325.35 L403.56 325.25 L404.65 325.14 L405.73 325.04 L406.82 324.94 L407.90 324.84 L408.99 324.74 L410.08 324.64 L411.16 324.55 L412.25 324.45 L413.33 324.36 L414.42 324.27 L415.51 324.17 L416.59 324.08 L417.68 324.00 L418.76 323.91 L419.85 323.82 L420.94 323.73 L422.02 323.65 L423.11 323.56 L424.19 323.48 L425.28 323.40 L426.37 323.31 L427.45 323.23 L428.54 323.15 L429.62 323.07 L430.71 322.99 L431.80 322.92 L432.88 322.84 L433.97 322.76 L435.05 322.69 L436.14 322.61 L437.23 322.54 L438.31 322.47 L439.40 322.39 L440.48 322.32 L441.57 322.25 L442.66 322.18 L443.74 322.11 L444.83 322.04 L445.91 321.97 L447.00 321.90 L448.09 321.83 L449.17 321.77 L450.26 321.70 L451.34 321.63 L452.43 321.57 L453.52 321.50 L454.60 321.44 L455.69 321.37 L456.77 321.31 L457.86 321.25 L458.95 321.19 L460.03 321.12 L461.12 321.06 L462.20 321.00 L463.29 320.94 L464.38 320.88 L465.46 320.82 L466.55 320.76 L467.63 320.70 L468.72 320.64 L469.81 320.59 L470.89 320.53 L471.98 320.47 L473.06 320.42 L474.15 320.36 L475.24 320.30 L476.32 320.25 L477.41 320.19 L478.49 320.14 L479.58 320.08 L480.67 320.03 L481.75 319.98 L482.84 319.92 L483.92 319.87 L485.01 319.82 L486.10 319.77 L487.18 319.71 L488.27 319.66 L489.35 319.61 L490.44 319.56 L491.53 319.51 L492.61 319.46 L493.70 319.41 L494.78 319.36 L495.87 319.31 L496.96 319.26 L498.04 319.21 L499.13 319.16 L500.21 319.12 L501.30 319.07 L502.39 319.02 L503.47 318.97 L504.56 318.93 L505.64 318.88 L506.73 318.83 L507.82 318.79 L508.90 318.74 L509.99 318.70 L511.07 318.65 L512.16 318.61 L513.25 318.56 L514.33 318.52 L515.42 318.47 L516.50 318.43 L517.59 318.38 L518.68 318.34 L519.76 318.30 L520.85 318.25 L521.93 318.21 L523.02 318.17 L524.11 318.13 L525.19 318.08 L526.28 318.04 L527.36 318.00 L528.45 317.96 L529.54 317.92 L530.62 317.88 L531.71 317.84 L532.79 317.79 L533.88 317.75 L534.97 317.71 L536.05 317.67 L537.14 317.63 L538.22 317.59 L539.31 317.55 L540.40 317.52 L541.48 317.48 L541.70 317.47" fill="none" stroke="#4a90d8" stroke-width="1.8" stroke-linejoin="round" stroke-linecap="round" />
<path d="M325.37 351.46 L325.64 349.57 L325.91 348.08 L326.18 346.85 L326.45 345.79 L326.73 344.87 L327.00 344.06 L327.27 343.32 L327.54 342.66 L327.81 342.04 L328.08 341.48 L328.36 340.96 L328.63 340.47 L328.90 340.01 L329.17 339.57 L329.44 339.17 L329.71 338.78 L329.98 338.41 L330.26 338.06 L330.53 337.73 L330.80 337.41 L331.07 337.10 L331.34 336.80 L331.61 336.52 L331.88 336.25 L332.97 335.24 L334.06 334.35 L335.14 333.56 L336.23 332.84 L337.31 332.19 L338.40 331.58 L339.49 331.02 L340.57 330.50 L341.66 330.02 L342.74 329.56 L343.83 329.12 L344.92 328.71 L346.00 328.32 L347.09 327.95 L348.17 327.60 L349.26 327.26 L350.35 326.94 L351.43 326.63 L352.52 326.33 L353.60 326.04 L354.69 325.76 L355.78 325.49 L356.86 325.24 L357.95 324.98 L359.03 324.74 L360.12 324.51 L361.21 324.28 L362.29 324.06 L363.38 323.84 L364.46 323.63 L365.55 323.42 L366.64 323.22 L367.72 323.03 L368.81 322.84 L369.89 322.65 L370.98 322.47 L372.07 322.30 L373.15 322.12 L374.24 321.95 L375.32 321.79 L376.41 321.62 L377.50 321.47 L378.58 321.31 L379.67 321.16 L380.75 321.01 L381.84 320.86 L382.93 320.71 L384.01 320.57 L385.10 320.43 L386.18 320.30 L387.27 320.16 L388.36 320.03 L389.44 319.90 L390.53 319.77 L391.61 319.64 L392.70 319.52 L393.79 319.40 L394.87 319.28 L395.96 319.16 L397.04 319.04 L398.13 318.93 L399.22 318.81 L400.30 318.70 L401.39 318.59 L402.47 318.48 L403.56 318.37 L404.65 318.27 L405.73 318.16 L406.82 318.06 L407.90 317.96 L408.99 317.86 L410.08 317.76 L411.16 317.66 L412.25 317.56 L413.33 317.47 L414.42 317.37 L415.51 317.28 L416.59 317.18 L417.68 317.09 L418.76 317.00 L419.85 316.91 L420.94 316.82 L422.02 316.74 L423.11 316.65 L424.19 316.56 L425.28 316.48 L426.37 316.40 L427.45 316.31 L428.54 316.23 L429.62 316.15 L430.71 316.07 L431.80 315.99 L432.88 315.91 L433.97 315.83 L435.05 315.75 L436.14 315.68 L437.23 315.60 L438.31 315.53 L439.40 315.45 L440.48 315.38 L441.57 315.31 L442.66 315.23 L443.74 315.16 L444.83 315.09 L445.91 315.02 L447.00 314.95 L448.09 314.88 L449.17 314.81 L450.26 314.74 L451.34 314.67 L452.43 314.61 L453.52 314.54 L454.60 314.48 L455.69 314.41 L456.77 314.34 L457.86 314.28 L458.95 314.22 L460.03 314.15 L461.12 314.09 L462.20 314.03 L463.29 313.97 L464.38 313.90 L465.46 313.84 L466.55 313.78 L467.63 313.72 L468.72 313.66 L469.81 313.60 L470.89 313.54 L471.98 313.49 L473.06 313.43 L474.15 313.37 L475.24 313.31 L476.32 313.26 L477.41 313.20 L478.49 313.14 L479.58 313.09 L480.67 313.03 L481.75 312.98 L482.84 312.92 L483.92 312.87 L485.01 312.82 L486.10 312.76 L487.18 312.71 L488.27 312.66 L489.35 312.61 L490.44 312.55 L491.53 312.50 L492.61 312.45 L493.70 312.40 L494.78 312.35 L495.87 312.30 L496.96 312.25 L498.04 312.20 L499.13 312.15 L500.21 312.10 L501.30 312.05 L502.39 312.00 L503.47 311.95 L504.56 311.91 L505.64 311.86 L506.73 311.81 L507.82 311.76 L508.90 311.72 L509.99 311.67 L511.07 311.62 L512.16 311.58 L513.25 311.53 L514.33 311.49 L515.42 311.44 L516.50 311.39 L517.59 311.35 L518.68 311.31 L519.76 311.26 L520.85 311.22 L521.93 311.17 L523.02 311.13 L524.11 311.09 L525.19 311.04 L526.28 311.00 L527.36 310.96 L528.45 310.91 L529.54 310.87 L530.62 310.83 L531.71 310.79 L532.79 310.75 L533.88 310.70 L534.97 310.66 L536.05 310.62 L537.14 310.58 L538.22 310.54 L539.31 310.50 L540.40 310.46 L541.48 310.42 L541.70 310.41" fill="none" stroke="#e84045" stroke-width="1.8" stroke-linejoin="round" stroke-linecap="round" />
<path d="M325.37 355.91 L325.64 353.54 L325.91 351.67 L326.18 350.12 L326.45 348.80 L326.73 347.64 L327.00 346.61 L327.27 345.69 L327.54 344.85 L327.81 344.07 L328.08 343.36 L328.36 342.70 L328.63 342.08 L328.90 341.50 L329.17 340.95 L329.44 340.44 L329.71 339.95 L329.98 339.48 L330.26 339.04 L330.53 338.61 L330.80 338.20 L331.07 337.81 L331.34 337.44 L331.61 337.08 L331.88 336.73 L332.97 335.46 L334.06 334.33 L335.14 333.32 L336.23 332.41 L337.31 331.57 L338.40 330.80 L339.49 330.09 L340.57 329.42 L341.66 328.80 L342.74 328.21 L343.83 327.66 L344.92 327.13 L346.00 326.64 L347.09 326.16 L348.17 325.71 L349.26 325.28 L350.35 324.86 L351.43 324.46 L352.52 324.08 L353.60 323.71 L354.69 323.36 L355.78 323.01 L356.86 322.68 L357.95 322.36 L359.03 322.05 L360.12 321.74 L361.21 321.45 L362.29 321.16 L363.38 320.89 L364.46 320.62 L365.55 320.35 L366.64 320.10 L367.72 319.85 L368.81 319.60 L369.89 319.36 L370.98 319.13 L372.07 318.90 L373.15 318.68 L374.24 318.46 L375.32 318.25 L376.41 318.04 L377.50 317.83 L378.58 317.63 L379.67 317.44 L380.75 317.24 L381.84 317.05 L382.93 316.87 L384.01 316.68 L385.10 316.50 L386.18 316.33 L387.27 316.15 L388.36 315.98 L389.44 315.81 L390.53 315.65 L391.61 315.49 L392.70 315.33 L393.79 315.17 L394.87 315.01 L395.96 314.86 L397.04 314.71 L398.13 314.56 L399.22 314.41 L400.30 314.27 L401.39 314.13 L402.47 313.99 L403.56 313.85 L404.65 313.71 L405.73 313.57 L406.82 313.44 L407.90 313.31 L408.99 313.18 L410.08 313.05 L411.16 312.92 L412.25 312.80 L413.33 312.67 L414.42 312.55 L415.51 312.43 L416.59 312.31 L417.68 312.19 L418.76 312.08 L419.85 311.96 L420.94 311.85 L422.02 311.73 L423.11 311.62 L424.19 311.51 L425.28 311.40 L426.37 311.29 L427.45 311.19 L428.54 311.08 L429.62 310.97 L430.71 310.87 L431.80 310.77 L432.88 310.66 L433.97 310.56 L435.05 310.46 L436.14 310.36 L437.23 310.27 L437.44 310.25" fill="none" stroke="#55b955" stroke-width="1.8" stroke-linejoin="round" stroke-linecap="round" />
<text transform="translate(321.20 388.60) scale(1 1.12)" text-anchor="end" font-size="6.4" fill="#3c3c3c" stroke="#3c3c3c" stroke-width="0.07">0.60</text>
<line x1="324.50" y1="367.59" x2="327.10" y2="367.59" stroke="#2a2a2a" stroke-width="1.05"/>
<text transform="translate(321.20 369.39) scale(1 1.12)" text-anchor="end" font-size="6.4" fill="#3c3c3c" stroke="#3c3c3c" stroke-width="0.07">0.65</text>
<line x1="324.50" y1="348.38" x2="327.10" y2="348.38" stroke="#2a2a2a" stroke-width="1.05"/>
<text transform="translate(321.20 350.18) scale(1 1.12)" text-anchor="end" font-size="6.4" fill="#3c3c3c" stroke="#3c3c3c" stroke-width="0.07">0.70</text>
<line x1="324.50" y1="329.16" x2="327.10" y2="329.16" stroke="#2a2a2a" stroke-width="1.05"/>
<text transform="translate(321.20 330.96) scale(1 1.12)" text-anchor="end" font-size="6.4" fill="#3c3c3c" stroke="#3c3c3c" stroke-width="0.07">0.75</text>
<line x1="324.50" y1="309.95" x2="327.10" y2="309.95" stroke="#2a2a2a" stroke-width="1.05"/>
<text transform="translate(321.20 311.75) scale(1 1.12)" text-anchor="end" font-size="6.4" fill="#3c3c3c" stroke="#3c3c3c" stroke-width="0.07">0.80</text>
<line x1="324.50" y1="290.74" x2="327.10" y2="290.74" stroke="#2a2a2a" stroke-width="1.05"/>
<text transform="translate(321.20 292.54) scale(1 1.12)" text-anchor="end" font-size="6.4" fill="#3c3c3c" stroke="#3c3c3c" stroke-width="0.07">0.85</text>
<line x1="324.50" y1="271.52" x2="327.10" y2="271.52" stroke="#2a2a2a" stroke-width="1.05"/>
<text transform="translate(321.20 273.32) scale(1 1.12)" text-anchor="end" font-size="6.4" fill="#3c3c3c" stroke="#3c3c3c" stroke-width="0.07">0.90</text>
<line x1="324.50" y1="252.31" x2="327.10" y2="252.31" stroke="#2a2a2a" stroke-width="1.05"/>
<text transform="translate(321.20 254.11) scale(1 1.12)" text-anchor="end" font-size="6.4" fill="#3c3c3c" stroke="#3c3c3c" stroke-width="0.07">0.95</text>
<text transform="translate(321.20 234.90) scale(1 1.12)" text-anchor="end" font-size="6.4" fill="#3c3c3c" stroke="#3c3c3c" stroke-width="0.07">1.00</text>
<line x1="324.50" y1="377.19" x2="326.10" y2="377.19" stroke="#2a2a2a" stroke-width="1.05"/>
<line x1="324.50" y1="357.98" x2="326.10" y2="357.98" stroke="#2a2a2a" stroke-width="1.05"/>
<line x1="324.50" y1="338.77" x2="326.10" y2="338.77" stroke="#2a2a2a" stroke-width="1.05"/>
<line x1="324.50" y1="319.56" x2="326.10" y2="319.56" stroke="#2a2a2a" stroke-width="1.05"/>
<line x1="324.50" y1="300.34" x2="326.10" y2="300.34" stroke="#2a2a2a" stroke-width="1.05"/>
<line x1="324.50" y1="281.13" x2="326.10" y2="281.13" stroke="#2a2a2a" stroke-width="1.05"/>
<line x1="324.50" y1="261.92" x2="326.10" y2="261.92" stroke="#2a2a2a" stroke-width="1.05"/>
<line x1="324.50" y1="242.71" x2="326.10" y2="242.71" stroke="#2a2a2a" stroke-width="1.05"/>
<text transform="translate(324.50 395.40) scale(1 1.12)" text-anchor="middle" font-size="6.4" fill="#3c3c3c" stroke="#3c3c3c" stroke-width="0.07">0</text>
<line x1="338.07" y1="386.80" x2="338.07" y2="385.20" stroke="#2a2a2a" stroke-width="1.05"/>
<line x1="351.65" y1="386.80" x2="351.65" y2="384.20" stroke="#2a2a2a" stroke-width="1.05"/>
<text transform="translate(351.65 395.40) scale(1 1.12)" text-anchor="middle" font-size="6.4" fill="#3c3c3c" stroke="#3c3c3c" stroke-width="0.07">25</text>
<line x1="365.23" y1="386.80" x2="365.23" y2="385.20" stroke="#2a2a2a" stroke-width="1.05"/>
<line x1="378.80" y1="386.80" x2="378.80" y2="384.20" stroke="#2a2a2a" stroke-width="1.05"/>
<text transform="translate(378.80 395.40) scale(1 1.12)" text-anchor="middle" font-size="6.4" fill="#3c3c3c" stroke="#3c3c3c" stroke-width="0.07">50</text>
<line x1="392.38" y1="386.80" x2="392.38" y2="385.20" stroke="#2a2a2a" stroke-width="1.05"/>
<line x1="405.95" y1="386.80" x2="405.95" y2="384.20" stroke="#2a2a2a" stroke-width="1.05"/>
<text transform="translate(405.95 395.40) scale(1 1.12)" text-anchor="middle" font-size="6.4" fill="#3c3c3c" stroke="#3c3c3c" stroke-width="0.07">75</text>
<line x1="419.53" y1="386.80" x2="419.53" y2="385.20" stroke="#2a2a2a" stroke-width="1.05"/>
<line x1="433.10" y1="386.80" x2="433.10" y2="384.20" stroke="#2a2a2a" stroke-width="1.05"/>
<text transform="translate(433.10 395.40) scale(1 1.12)" text-anchor="middle" font-size="6.4" fill="#3c3c3c" stroke="#3c3c3c" stroke-width="0.07">100</text>
<line x1="446.68" y1="386.80" x2="446.68" y2="385.20" stroke="#2a2a2a" stroke-width="1.05"/>
<line x1="460.25" y1="386.80" x2="460.25" y2="384.20" stroke="#2a2a2a" stroke-width="1.05"/>
<text transform="translate(460.25 395.40) scale(1 1.12)" text-anchor="middle" font-size="6.4" fill="#3c3c3c" stroke="#3c3c3c" stroke-width="0.07">125</text>
<line x1="473.83" y1="386.80" x2="473.83" y2="385.20" stroke="#2a2a2a" stroke-width="1.05"/>
<line x1="487.40" y1="386.80" x2="487.40" y2="384.20" stroke="#2a2a2a" stroke-width="1.05"/>
<text transform="translate(487.40 395.40) scale(1 1.12)" text-anchor="middle" font-size="6.4" fill="#3c3c3c" stroke="#3c3c3c" stroke-width="0.07">150</text>
<line x1="500.98" y1="386.80" x2="500.98" y2="385.20" stroke="#2a2a2a" stroke-width="1.05"/>
<line x1="514.55" y1="386.80" x2="514.55" y2="384.20" stroke="#2a2a2a" stroke-width="1.05"/>
<text transform="translate(514.55 395.40) scale(1 1.12)" text-anchor="middle" font-size="6.4" fill="#3c3c3c" stroke="#3c3c3c" stroke-width="0.07">175</text>
<line x1="528.12" y1="386.80" x2="528.12" y2="385.20" stroke="#2a2a2a" stroke-width="1.05"/>
<text transform="translate(541.70 395.40) scale(1 1.12)" text-anchor="middle" font-size="6.4" fill="#3c3c3c" stroke="#3c3c3c" stroke-width="0.07">200</text>
<path d="M324.50 233.10 H541.70 V386.80 H324.50 Z" fill="none" stroke="#737373" stroke-width="1.5"/>
<text transform="translate(305.90 309.90) rotate(-90)" text-anchor="middle" font-size="8.35" font-weight="bold" fill="#111" stroke="#111" stroke-width="0.25">Compactness ratio</text>
<text x="432.90" y="408.90" textLength="121.2" lengthAdjust="spacing" text-anchor="middle" font-size="8.0" font-weight="bold" fill="#111" stroke="#111" stroke-width="0.25">The number of compaction (times)</text>
<line x1="480.2" y1="243.9" x2="498.6" y2="243.9" stroke="#e84045" stroke-width="1.6"/>
<line x1="480.2" y1="252.7" x2="498.6" y2="252.7" stroke="#4a90d8" stroke-width="1.6"/>
<line x1="480.2" y1="262.0" x2="498.6" y2="262.0" stroke="#50b850" stroke-width="1.6"/>
<text transform="translate(499.7 246.1) scale(1 1.08)" font-size="7.5" fill="#222" stroke="#222" stroke-width="0.1">Z-gradation</text>
<text transform="translate(499.7 255.2) scale(1 1.08)" font-size="7.5" fill="#222" stroke="#222" stroke-width="0.1">C-gradation</text>
<text transform="translate(499.7 264.4) scale(1 1.08)" font-size="7.5" fill="#222" stroke="#222" stroke-width="0.1">X-gradation</text>
<text x="367.8" y="310.9" font-size="8.6" fill="#222"><tspan font-style="italic">γ</tspan><tspan font-size="5.5" dy="2.0">N</tspan><tspan dy="-2.0" dx="-0.5">=0.687N</tspan><tspan font-size="5.6" dy="-4.0">0.033</tspan></text>
<text x="474.7" y="307.0" font-size="8.6" fill="#222"><tspan font-style="italic">γ</tspan><tspan font-size="5.5" dy="2.0">N</tspan><tspan dy="-2.0" dx="-0.5">=0.696N</tspan><tspan font-size="5.6" dy="-4.0">0.026</tspan></text>
<text x="437.6" y="332.9" font-size="8.6" fill="#222"><tspan font-style="italic">γ</tspan><tspan font-size="5.5" dy="2.0">N</tspan><tspan dy="-2.0" dx="-0.5">=0.680N</tspan><tspan font-size="5.6" dy="-4.0">0.026</tspan></text>
</g>
<text transform="translate(417.9 438.6) scale(1 1.06)" text-anchor="middle" font-size="15" fill="#000" style="font-family:'Liberation Serif',serif">(<tspan font-weight="bold">d</tspan>)</text>
</svg></body></html>
